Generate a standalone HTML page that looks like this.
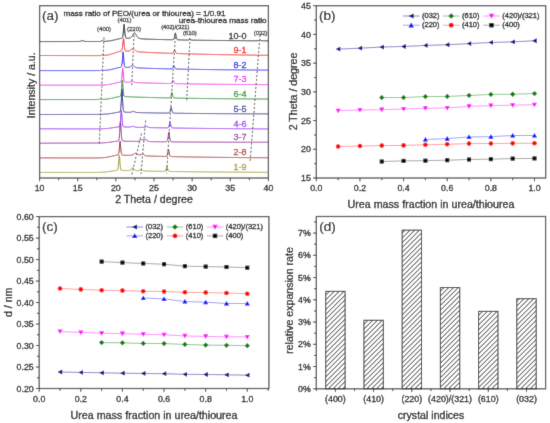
<!DOCTYPE html>
<html><head><meta charset="utf-8"><style>
html,body{margin:0;padding:0;background:#fff;width:550px;height:423px;overflow:hidden}
svg{display:block;font-family:"Liberation Sans", sans-serif}
text{stroke-width:0.3px}
</style></head><body>
<svg width="550" height="423" viewBox="0 0 550 423">
<defs><filter id="bl" filterUnits="userSpaceOnUse" x="0" y="0" width="550" height="423"><feConvolveMatrix order="3" kernelMatrix="0.01 0.08 0.01 0.08 0.64 0.08 0.01 0.08 0.01" divisor="1" edgeMode="duplicate"/></filter></defs>
<g filter="url(#bl)">
<rect width="550" height="423" fill="#fff"/>
<rect x="39.6" y="5.7" width="228.8" height="172.3" fill="none" stroke="#505050" stroke-width="1.3"/>
<g fill="none" stroke-width="1" stroke-linejoin="round">
<polyline stroke="#1a1a1a" points="39.6,41.6 39.85,41.6 40.11,41.6 40.36,41.6 40.62,41.6 40.87,41.6 41.13,41.6 41.38,41.6 41.63,41.6 41.89,41.6 42.14,41.6 42.4,41.59 42.65,41.59 42.9,41.59 43.16,41.59 43.41,41.59 43.67,41.59 43.92,41.59 44.18,41.59 44.43,41.59 44.68,41.59 44.94,41.59 45.19,41.59 45.45,41.59 45.7,41.59 45.96,41.59 46.21,41.59 46.46,41.59 46.72,41.59 46.97,41.59 47.23,41.59 47.48,41.59 47.74,41.59 47.99,41.59 48.24,41.59 48.5,41.59 48.75,41.59 49.01,41.59 49.26,41.59 49.51,41.58 49.77,41.58 50.02,41.58 50.28,41.58 50.53,41.58 50.79,41.58 51.04,41.58 51.29,41.58 51.55,41.58 51.8,41.58 52.06,41.58 52.31,41.58 52.57,41.58 52.82,41.58 53.07,41.58 53.33,41.58 53.58,41.58 53.84,41.58 54.09,41.58 54.34,41.58 54.6,41.58 54.85,41.58 55.11,41.58 55.36,41.58 55.62,41.58 55.87,41.58 56.12,41.58 56.38,41.58 56.63,41.57 56.89,41.57 57.14,41.57 57.4,41.57 57.65,41.57 57.9,41.57 58.16,41.57 58.41,41.57 58.67,41.57 58.92,41.57 59.18,41.57 59.43,41.57 59.68,41.57 59.94,41.57 60.19,41.57 60.45,41.57 60.7,41.57 60.95,41.57 61.21,41.57 61.46,41.57 61.72,41.57 61.97,41.57 62.23,41.57 62.48,41.57 62.73,41.57 62.99,41.57 63.24,41.57 63.5,41.56 63.75,41.56 64.01,41.56 64.26,41.56 64.51,41.56 64.77,41.56 65.02,41.56 65.28,41.56 65.53,41.56 65.78,41.56 66.04,41.56 66.29,41.56 66.55,41.56 66.8,41.56 67.06,41.56 67.31,41.56 67.56,41.56 67.82,41.56 68.07,41.56 68.33,41.56 68.58,41.56 68.84,41.56 69.09,41.56 69.34,41.55 69.6,41.55 69.85,41.55 70.11,41.55 70.36,41.55 70.62,41.55 70.87,41.55 71.12,41.55 71.38,41.55 71.63,41.55 71.89,41.55 72.14,41.55 72.39,41.55 72.65,41.55 72.9,41.55 73.16,41.55 73.41,41.54 73.67,41.54 73.92,41.54 74.17,41.54 74.43,41.54 74.68,41.54 74.94,41.54 75.19,41.54 75.45,41.54 75.7,41.53 75.95,41.53 76.21,41.53 76.46,41.53 76.72,41.53 76.97,41.52 77.22,41.52 77.48,41.52 77.73,41.51 77.99,41.5 78.24,41.5 78.5,41.48 78.75,41.47 79,41.45 79.26,41.42 79.51,41.39 79.77,41.35 80.02,41.3 80.28,41.24 80.53,41.17 80.78,41.09 81.04,41.01 81.29,40.92 81.55,40.82 81.8,40.73 82.06,40.67 82.31,40.64 82.56,40.66 82.82,40.73 83.07,40.82 83.33,40.91 83.58,41 83.83,41.09 84.09,41.17 84.34,41.23 84.6,41.29 84.85,41.34 85.11,41.38 85.36,41.41 85.61,41.44 85.87,41.46 86.12,41.47 86.38,41.48 86.63,41.49 86.89,41.5 87.14,41.5 87.39,41.51 87.65,41.51 87.9,41.51 88.16,41.51 88.41,41.51 88.66,41.51 88.92,41.51 89.17,41.52 89.43,41.52 89.68,41.52 89.94,41.52 90.19,41.52 90.44,41.52 90.7,41.52 90.95,41.52 91.21,41.52 91.46,41.52 91.72,41.52 91.97,41.52 92.22,41.52 92.48,41.52 92.73,41.52 92.99,41.52 93.24,41.52 93.5,41.52 93.75,41.52 94,41.51 94.26,41.51 94.51,41.51 94.77,41.51 95.02,41.51 95.27,41.51 95.53,41.51 95.78,41.51 96.04,41.51 96.29,41.51 96.55,41.51 96.8,41.51 97.05,41.5 97.31,41.5 97.56,41.5 97.82,41.5 98.07,41.5 98.33,41.49 98.58,41.49 98.83,41.49 99.09,41.49 99.34,41.48 99.6,41.48 99.85,41.47 100.1,41.47 100.36,41.46 100.61,41.44 100.87,41.39 101.12,41.28 101.38,41.06 101.63,40.72 101.88,40.3 102.14,40.04 102.39,40.29 102.65,40.69 102.9,41.03 103.16,41.23 103.41,41.33 103.66,41.36 103.92,41.37 104.17,41.36 104.43,41.35 104.68,41.34 104.94,41.33 105.19,41.32 105.44,41.31 105.7,41.29 105.95,41.27 106.21,41.26 106.46,41.24 106.71,41.22 106.97,41.2 107.22,41.17 107.48,41.15 107.73,41.13 107.99,41.1 108.24,41.07 108.49,41.04 108.75,41.01 109,40.98 109.26,40.95 109.51,40.91 109.77,40.87 110.02,40.84 110.27,40.8 110.53,40.75 110.78,40.71 111.04,40.67 111.29,40.62 111.54,40.57 111.8,40.52 112.05,40.47 112.31,40.42 112.56,40.37 112.82,40.31 113.07,40.26 113.32,40.2 113.58,40.14 113.83,40.08 114.09,40.02 114.34,39.96 114.6,39.9 114.85,39.84 115.1,39.77 115.36,39.71 115.61,39.64 115.87,39.58 116.12,39.51 116.38,39.45 116.63,39.39 116.88,39.32 117.14,39.26 117.39,39.19 117.65,39.13 117.9,39.07 118.15,39.01 118.41,38.95 118.66,38.89 118.92,38.83 119.17,38.78 119.43,38.72 119.68,38.67 119.93,38.62 120.19,38.56 120.44,38.51 120.7,38.46 120.95,38.41 121.21,38.36 121.46,38.31 121.71,38.24 121.97,38.14 122.22,37.95 122.48,37.56 122.73,36.76 122.98,35.32 123.24,33.08 123.49,30.1 123.75,26.77 124,24.14 124.26,24.51 124.51,27.46 124.76,30.77 125.02,33.62 125.27,35.7 125.53,36.98 125.78,37.67 126.04,37.99 126.29,38.14 126.54,38.2 126.8,38.24 127.05,38.26 127.31,38.27 127.56,38.28 127.82,38.28 128.07,38.28 128.32,38.26 128.58,38.25 128.83,38.22 129.09,38.18 129.34,38.13 129.59,38.07 129.85,37.98 130.1,37.88 130.36,37.76 130.61,37.61 130.87,37.44 131.12,37.23 131.37,37 131.63,36.74 131.88,36.44 132.14,36.11 132.39,35.75 132.65,35.36 132.9,34.95 133.15,34.52 133.41,34.07 133.66,33.64 133.92,33.26 134.17,32.96 134.42,32.8 134.68,32.81 134.93,32.99 135.19,33.3 135.44,33.7 135.7,34.15 135.95,34.62 136.2,35.07 136.46,35.5 136.71,35.91 136.97,36.28 137.22,36.63 137.48,36.95 137.73,37.23 137.98,37.48 138.24,37.7 138.49,37.9 138.75,38.06 139,38.21 139.26,38.33 139.51,38.43 139.76,38.52 140.02,38.59 140.27,38.65 140.53,38.7 140.78,38.74 141.03,38.77 141.29,38.81 141.54,38.83 141.8,38.86 142.05,38.88 142.31,38.9 142.56,38.91 142.81,38.93 143.07,38.95 143.32,38.96 143.58,38.97 143.83,38.99 144.09,39 144.34,39.01 144.59,39.02 144.85,39.04 145.1,39.05 145.36,39.06 145.61,39.07 145.86,39.08 146.12,39.09 146.37,39.1 146.63,39.11 146.88,39.12 147.14,39.13 147.39,39.14 147.64,39.15 147.9,39.16 148.15,39.16 148.41,39.17 148.66,39.18 148.92,39.19 149.17,39.2 149.42,39.21 149.68,39.22 149.93,39.22 150.19,39.23 150.44,39.24 150.7,39.25 150.95,39.26 151.2,39.26 151.46,39.27 151.71,39.28 151.97,39.29 152.22,39.29 152.47,39.3 152.73,39.31 152.98,39.32 153.24,39.32 153.49,39.33 153.75,39.34 154,39.35 154.25,39.35 154.51,39.36 154.76,39.37 155.02,39.37 155.27,39.38 155.53,39.39 155.78,39.4 156.03,39.4 156.29,39.41 156.54,39.42 156.8,39.42 157.05,39.43 157.3,39.44 157.56,39.44 157.81,39.45 158.07,39.46 158.32,39.46 158.58,39.47 158.83,39.48 159.08,39.48 159.34,39.49 159.59,39.49 159.85,39.5 160.1,39.51 160.36,39.51 160.61,39.52 160.86,39.53 161.12,39.53 161.37,39.54 161.63,39.54 161.88,39.55 162.14,39.56 162.39,39.56 162.64,39.57 162.9,39.57 163.15,39.58 163.41,39.59 163.66,39.59 163.91,39.6 164.17,39.6 164.42,39.61 164.68,39.61 164.93,39.62 165.19,39.62 165.44,39.63 165.69,39.64 165.95,39.64 166.2,39.65 166.46,39.65 166.71,39.66 166.97,39.66 167.22,39.67 167.47,39.67 167.73,39.68 167.98,39.68 168.24,39.69 168.49,39.69 168.74,39.7 169,39.7 169.25,39.7 169.51,39.71 169.76,39.71 170.02,39.72 170.27,39.72 170.52,39.72 170.78,39.72 171.03,39.73 171.29,39.73 171.54,39.73 171.8,39.73 172.05,39.73 172.3,39.72 172.56,39.71 172.81,39.7 173.07,39.66 173.32,39.57 173.58,39.4 173.83,39.05 174.08,38.45 174.34,37.54 174.59,36.32 174.85,34.9 175.1,33.52 175.35,32.85 175.61,33.53 175.86,34.92 176.12,36.35 176.37,37.58 176.63,38.5 176.88,39.11 177.13,39.47 177.39,39.65 177.64,39.75 177.9,39.79 178.15,39.82 178.41,39.84 178.66,39.85 178.91,39.87 179.17,39.88 179.42,39.89 179.68,39.9 179.93,39.9 180.18,39.91 180.44,39.92 180.69,39.92 180.95,39.93 181.2,39.94 181.46,39.94 181.71,39.95 181.96,39.95 182.22,39.96 182.47,39.96 182.73,39.97 182.98,39.98 183.24,39.98 183.49,39.99 183.74,39.99 184,39.99 184.25,40 184.51,40 184.76,40.01 185.02,40.01 185.27,40.02 185.52,40.02 185.78,40.03 186.03,40.03 186.29,40.03 186.54,40.04 186.79,40.04 187.05,40.04 187.3,40.04 187.56,40.04 187.81,40.04 188.07,40.02 188.32,39.99 188.57,39.92 188.83,39.82 189.08,39.69 189.34,39.53 189.59,39.37 189.85,39.3 190.1,39.38 190.35,39.54 190.61,39.71 190.86,39.85 191.12,39.96 191.37,40.04 191.62,40.08 191.88,40.1 192.13,40.12 192.39,40.13 192.64,40.13 192.9,40.14 193.15,40.14 193.4,40.15 193.66,40.15 193.91,40.16 194.17,40.16 194.42,40.17 194.68,40.17 194.93,40.17 195.18,40.18 195.44,40.18 195.69,40.19 195.95,40.19 196.2,40.19 196.46,40.2 196.71,40.2 196.96,40.21 197.22,40.21 197.47,40.21 197.73,40.22 197.98,40.22 198.23,40.22 198.49,40.23 198.74,40.23 199,40.23 199.25,40.24 199.51,40.24 199.76,40.25 200.01,40.25 200.27,40.25 200.52,40.26 200.78,40.26 201.03,40.26 201.29,40.27 201.54,40.27 201.79,40.27 202.05,40.28 202.3,40.28 202.56,40.28 202.81,40.29 203.06,40.29 203.32,40.29 203.57,40.3 203.83,40.3 204.08,40.3 204.34,40.31 204.59,40.31 204.84,40.31 205.1,40.32 205.35,40.32 205.61,40.32 205.86,40.33 206.12,40.33 206.37,40.33 206.62,40.34 206.88,40.34 207.13,40.34 207.39,40.35 207.64,40.35 207.9,40.35 208.15,40.35 208.4,40.36 208.66,40.36 208.91,40.36 209.17,40.37 209.42,40.37 209.67,40.37 209.93,40.38 210.18,40.38 210.44,40.38 210.69,40.39 210.95,40.39 211.2,40.39 211.45,40.39 211.71,40.4 211.96,40.4 212.22,40.4 212.47,40.41 212.73,40.41 212.98,40.41 213.23,40.41 213.49,40.42 213.74,40.42 214,40.42 214.25,40.43 214.5,40.43 214.76,40.43 215.01,40.43 215.27,40.44 215.52,40.44 215.78,40.44 216.03,40.45 216.28,40.45 216.54,40.45 216.79,40.45 217.05,40.46 217.3,40.46 217.56,40.46 217.81,40.46 218.06,40.47 218.32,40.47 218.57,40.47 218.83,40.48 219.08,40.48 219.34,40.48 219.59,40.48 219.84,40.49 220.1,40.49 220.35,40.49 220.61,40.49 220.86,40.5 221.11,40.5 221.37,40.5 221.62,40.5 221.88,40.51 222.13,40.51 222.39,40.51 222.64,40.51 222.89,40.52 223.15,40.52 223.4,40.52 223.66,40.52 223.91,40.53 224.17,40.53 224.42,40.53 224.67,40.53 224.93,40.54 225.18,40.54 225.44,40.54 225.69,40.54 225.94,40.55 226.2,40.55 226.45,40.55 226.71,40.55 226.96,40.55 227.22,40.56 227.47,40.56 227.72,40.56 227.98,40.56 228.23,40.57 228.49,40.57 228.74,40.57 229,40.57 229.25,40.58 229.5,40.58 229.76,40.58 230.01,40.58 230.27,40.58 230.52,40.59 230.78,40.59 231.03,40.59 231.28,40.59 231.54,40.6 231.79,40.6 232.05,40.6 232.3,40.6 232.55,40.6 232.81,40.61 233.06,40.61 233.32,40.61 233.57,40.61 233.83,40.61 234.08,40.62 234.33,40.62 234.59,40.62 234.84,40.62 235.1,40.62 235.35,40.63 235.61,40.63 235.86,40.63 236.11,40.63 236.37,40.64 236.62,40.64 236.88,40.64 237.13,40.64 237.38,40.64 237.64,40.65 237.89,40.65 238.15,40.65 238.4,40.65 238.66,40.65 238.91,40.65 239.16,40.66 239.42,40.66 239.67,40.66 239.93,40.66 240.18,40.66 240.44,40.67 240.69,40.67 240.94,40.67 241.2,40.67 241.45,40.67 241.71,40.68 241.96,40.68 242.22,40.68 242.47,40.68 242.72,40.68 242.98,40.69 243.23,40.69 243.49,40.69 243.74,40.69 243.99,40.69 244.25,40.69 244.5,40.7 244.76,40.7 245.01,40.7 245.27,40.7 245.52,40.7 245.77,40.7 246.03,40.71 246.28,40.71 246.54,40.71 246.79,40.71 247.05,40.71 247.3,40.71 247.55,40.72 247.81,40.72 248.06,40.72 248.32,40.72 248.57,40.72 248.82,40.72 249.08,40.73 249.33,40.73 249.59,40.73 249.84,40.73 250.1,40.73 250.35,40.73 250.6,40.74 250.86,40.74 251.11,40.74 251.37,40.74 251.62,40.74 251.88,40.74 252.13,40.75 252.38,40.75 252.64,40.75 252.89,40.75 253.15,40.75 253.4,40.75 253.66,40.75 253.91,40.76 254.16,40.76 254.42,40.76 254.67,40.76 254.93,40.76 255.18,40.76 255.43,40.76 255.69,40.76 255.94,40.77 256.2,40.77 256.45,40.77 256.71,40.77 256.96,40.77 257.21,40.77 257.47,40.77 257.72,40.76 257.98,40.75 258.23,40.74 258.49,40.7 258.74,40.63 258.99,40.53 259.25,40.39 259.5,40.23 259.76,40.07 260.01,39.99 260.26,40.07 260.52,40.23 260.77,40.4 261.03,40.54 261.28,40.64 261.54,40.71 261.79,40.76 262.04,40.78 262.3,40.79 262.55,40.8 262.81,40.8 263.06,40.8 263.32,40.8 263.57,40.81 263.82,40.81 264.08,40.81 264.33,40.81 264.59,40.81 264.84,40.82 265.1,40.82 265.35,40.82 265.6,40.82 265.86,40.82 266.11,40.82 266.37,40.82 266.62,40.83 266.87,40.83 267.13,40.83 267.38,40.83 267.64,40.83 267.89,40.83 268.15,40.83 268.4,40.83"/>
<polyline stroke="#f01818" points="39.6,55.5 39.85,55.5 40.11,55.5 40.36,55.5 40.62,55.5 40.87,55.5 41.13,55.5 41.38,55.5 41.63,55.5 41.89,55.5 42.14,55.5 42.4,55.51 42.65,55.51 42.9,55.51 43.16,55.51 43.41,55.51 43.67,55.51 43.92,55.51 44.18,55.51 44.43,55.51 44.68,55.51 44.94,55.51 45.19,55.51 45.45,55.51 45.7,55.51 45.96,55.51 46.21,55.51 46.46,55.51 46.72,55.51 46.97,55.52 47.23,55.52 47.48,55.52 47.74,55.52 47.99,55.52 48.24,55.52 48.5,55.52 48.75,55.52 49.01,55.52 49.26,55.52 49.51,55.52 49.77,55.52 50.02,55.52 50.28,55.52 50.53,55.52 50.79,55.52 51.04,55.52 51.29,55.52 51.55,55.53 51.8,55.53 52.06,55.53 52.31,55.53 52.57,55.53 52.82,55.53 53.07,55.53 53.33,55.53 53.58,55.53 53.84,55.53 54.09,55.53 54.34,55.53 54.6,55.53 54.85,55.53 55.11,55.53 55.36,55.53 55.62,55.53 55.87,55.53 56.12,55.54 56.38,55.54 56.63,55.54 56.89,55.54 57.14,55.54 57.4,55.54 57.65,55.54 57.9,55.54 58.16,55.54 58.41,55.54 58.67,55.54 58.92,55.54 59.18,55.54 59.43,55.54 59.68,55.54 59.94,55.54 60.19,55.54 60.45,55.54 60.7,55.55 60.95,55.55 61.21,55.55 61.46,55.55 61.72,55.55 61.97,55.55 62.23,55.55 62.48,55.55 62.73,55.55 62.99,55.55 63.24,55.55 63.5,55.55 63.75,55.55 64.01,55.55 64.26,55.55 64.51,55.55 64.77,55.55 65.02,55.55 65.28,55.56 65.53,55.56 65.78,55.56 66.04,55.56 66.29,55.56 66.55,55.56 66.8,55.56 67.06,55.56 67.31,55.56 67.56,55.56 67.82,55.56 68.07,55.56 68.33,55.56 68.58,55.56 68.84,55.56 69.09,55.56 69.34,55.56 69.6,55.56 69.85,55.56 70.11,55.57 70.36,55.57 70.62,55.57 70.87,55.57 71.12,55.57 71.38,55.57 71.63,55.57 71.89,55.57 72.14,55.57 72.39,55.57 72.65,55.57 72.9,55.57 73.16,55.57 73.41,55.57 73.67,55.57 73.92,55.57 74.17,55.57 74.43,55.57 74.68,55.58 74.94,55.58 75.19,55.58 75.45,55.58 75.7,55.58 75.95,55.58 76.21,55.58 76.46,55.58 76.72,55.58 76.97,55.58 77.22,55.58 77.48,55.58 77.73,55.58 77.99,55.58 78.24,55.58 78.5,55.58 78.75,55.58 79,55.58 79.26,55.58 79.51,55.59 79.77,55.59 80.02,55.59 80.28,55.59 80.53,55.59 80.78,55.59 81.04,55.59 81.29,55.59 81.55,55.59 81.8,55.59 82.06,55.59 82.31,55.59 82.56,55.59 82.82,55.59 83.07,55.59 83.33,55.59 83.58,55.59 83.83,55.59 84.09,55.6 84.34,55.6 84.6,55.6 84.85,55.6 85.11,55.6 85.36,55.6 85.61,55.6 85.87,55.6 86.12,55.6 86.38,55.6 86.63,55.6 86.89,55.6 87.14,55.6 87.39,55.6 87.65,55.6 87.9,55.6 88.16,55.6 88.41,55.6 88.66,55.6 88.92,55.6 89.17,55.61 89.43,55.61 89.68,55.61 89.94,55.61 90.19,55.61 90.44,55.61 90.7,55.61 90.95,55.61 91.21,55.61 91.46,55.61 91.72,55.61 91.97,55.61 92.22,55.61 92.48,55.61 92.73,55.61 92.99,55.61 93.24,55.61 93.5,55.61 93.75,55.61 94,55.61 94.26,55.61 94.51,55.61 94.77,55.61 95.02,55.61 95.27,55.61 95.53,55.61 95.78,55.61 96.04,55.61 96.29,55.61 96.55,55.61 96.8,55.61 97.05,55.6 97.31,55.6 97.56,55.6 97.82,55.6 98.07,55.6 98.33,55.59 98.58,55.59 98.83,55.59 99.09,55.58 99.34,55.58 99.6,55.57 99.85,55.57 100.1,55.56 100.36,55.55 100.61,55.54 100.87,55.5 101.12,55.42 101.38,55.25 101.63,55 101.88,54.7 102.14,54.51 102.39,54.68 102.65,54.96 102.9,55.19 103.16,55.33 103.41,55.39 103.66,55.41 103.92,55.4 104.17,55.39 104.43,55.37 104.68,55.35 104.94,55.33 105.19,55.31 105.44,55.28 105.7,55.25 105.95,55.23 106.21,55.2 106.46,55.16 106.71,55.13 106.97,55.09 107.22,55.06 107.48,55.02 107.73,54.97 107.99,54.93 108.24,54.88 108.49,54.83 108.75,54.78 109,54.73 109.26,54.67 109.51,54.62 109.77,54.56 110.02,54.49 110.27,54.43 110.53,54.36 110.78,54.29 111.04,54.22 111.29,54.15 111.54,54.07 111.8,54 112.05,53.92 112.31,53.84 112.56,53.75 112.82,53.67 113.07,53.58 113.32,53.49 113.58,53.4 113.83,53.31 114.09,53.22 114.34,53.13 114.6,53.04 114.85,52.94 115.1,52.85 115.36,52.76 115.61,52.66 115.87,52.57 116.12,52.48 116.38,52.39 116.63,52.3 116.88,52.21 117.14,52.12 117.39,52.03 117.65,51.95 117.9,51.86 118.15,51.78 118.41,51.7 118.66,51.63 118.92,51.55 119.17,51.48 119.43,51.41 119.68,51.35 119.93,51.28 120.19,51.22 120.44,51.16 120.7,51.1 120.95,51.04 121.21,50.96 121.46,50.84 121.71,50.61 121.97,50.13 122.22,49.21 122.48,47.64 122.73,45.35 122.98,42.51 123.24,39.6 123.49,38.09 123.75,39.63 124,42.57 124.26,45.43 124.51,47.74 124.76,49.31 125.02,50.23 125.27,50.7 125.53,50.92 125.78,51.02 126.04,51.08 126.29,51.11 126.54,51.14 126.8,51.16 127.05,51.18 127.31,51.19 127.56,51.2 127.82,51.21 128.07,51.21 128.32,51.2 128.58,51.18 128.83,51.14 129.09,51.08 129.34,51 129.59,50.88 129.85,50.73 130.1,50.54 130.36,50.32 130.61,50.05 130.87,49.75 131.12,49.44 131.37,49.18 131.63,49.04 131.88,49.01 132.14,49.04 132.39,49.06 132.65,49.06 132.9,49.03 133.15,48.99 133.41,48.97 133.66,48.98 133.92,49.06 134.17,49.21 134.42,49.41 134.68,49.64 134.93,49.88 135.19,50.11 135.44,50.33 135.7,50.54 135.95,50.73 136.2,50.91 136.46,51.06 136.71,51.2 136.97,51.32 137.22,51.43 137.48,51.52 137.73,51.6 137.98,51.67 138.24,51.73 138.49,51.78 138.75,51.82 139,51.86 139.26,51.89 139.51,51.92 139.76,51.94 140.02,51.96 140.27,51.98 140.53,52 140.78,52.02 141.03,52.04 141.29,52.06 141.54,52.07 141.8,52.09 142.05,52.1 142.31,52.12 142.56,52.13 142.81,52.15 143.07,52.16 143.32,52.18 143.58,52.19 143.83,52.2 144.09,52.22 144.34,52.23 144.59,52.25 144.85,52.26 145.1,52.27 145.36,52.29 145.61,52.3 145.86,52.31 146.12,52.32 146.37,52.34 146.63,52.35 146.88,52.36 147.14,52.37 147.39,52.39 147.64,52.4 147.9,52.41 148.15,52.42 148.41,52.44 148.66,52.45 148.92,52.46 149.17,52.47 149.42,52.48 149.68,52.49 149.93,52.51 150.19,52.52 150.44,52.53 150.7,52.54 150.95,52.55 151.2,52.56 151.46,52.58 151.71,52.59 151.97,52.6 152.22,52.61 152.47,52.62 152.73,52.63 152.98,52.64 153.24,52.65 153.49,52.67 153.75,52.68 154,52.69 154.25,52.7 154.51,52.71 154.76,52.72 155.02,52.73 155.27,52.74 155.53,52.75 155.78,52.76 156.03,52.77 156.29,52.78 156.54,52.79 156.8,52.8 157.05,52.82 157.3,52.83 157.56,52.84 157.81,52.85 158.07,52.86 158.32,52.87 158.58,52.88 158.83,52.89 159.08,52.9 159.34,52.91 159.59,52.92 159.85,52.93 160.1,52.94 160.36,52.95 160.61,52.96 160.86,52.97 161.12,52.98 161.37,52.99 161.63,53 161.88,53.01 162.14,53.02 162.39,53.03 162.64,53.04 162.9,53.05 163.15,53.06 163.41,53.06 163.66,53.07 163.91,53.08 164.17,53.09 164.42,53.1 164.68,53.11 164.93,53.12 165.19,53.13 165.44,53.14 165.69,53.15 165.95,53.16 166.2,53.17 166.46,53.18 166.71,53.18 166.97,53.19 167.22,53.2 167.47,53.21 167.73,53.22 167.98,53.23 168.24,53.24 168.49,53.24 168.74,53.25 169,53.26 169.25,53.27 169.51,53.28 169.76,53.28 170.02,53.29 170.27,53.3 170.52,53.3 170.78,53.31 171.03,53.32 171.29,53.32 171.54,53.32 171.8,53.32 172.05,53.32 172.3,53.3 172.56,53.26 172.81,53.17 173.07,52.98 173.32,52.64 173.58,52.12 173.83,51.43 174.08,50.63 174.34,49.84 174.59,49.46 174.85,49.86 175.1,50.66 175.35,51.48 175.61,52.19 175.86,52.72 176.12,53.08 176.37,53.28 176.63,53.4 176.88,53.46 177.13,53.49 177.39,53.51 177.64,53.52 177.9,53.54 178.15,53.55 178.41,53.56 178.66,53.57 178.91,53.58 179.17,53.59 179.42,53.6 179.68,53.61 179.93,53.62 180.18,53.63 180.44,53.64 180.69,53.65 180.95,53.65 181.2,53.66 181.46,53.67 181.71,53.68 181.96,53.69 182.22,53.7 182.47,53.7 182.73,53.71 182.98,53.72 183.24,53.73 183.49,53.73 183.74,53.74 184,53.75 184.25,53.76 184.51,53.77 184.76,53.77 185.02,53.78 185.27,53.79 185.52,53.8 185.78,53.8 186.03,53.81 186.29,53.82 186.54,53.82 186.79,53.83 187.05,53.84 187.3,53.85 187.56,53.85 187.81,53.86 188.07,53.87 188.32,53.88 188.57,53.88 188.83,53.89 189.08,53.9 189.34,53.9 189.59,53.91 189.85,53.92 190.1,53.92 190.35,53.93 190.61,53.94 190.86,53.95 191.12,53.95 191.37,53.96 191.62,53.97 191.88,53.97 192.13,53.98 192.39,53.99 192.64,53.99 192.9,54 193.15,54.01 193.4,54.01 193.66,54.02 193.91,54.03 194.17,54.03 194.42,54.04 194.68,54.05 194.93,54.05 195.18,54.06 195.44,54.07 195.69,54.07 195.95,54.08 196.2,54.08 196.46,54.09 196.71,54.1 196.96,54.1 197.22,54.11 197.47,54.12 197.73,54.12 197.98,54.13 198.23,54.14 198.49,54.14 198.74,54.15 199,54.15 199.25,54.16 199.51,54.17 199.76,54.17 200.01,54.18 200.27,54.19 200.52,54.19 200.78,54.2 201.03,54.2 201.29,54.21 201.54,54.22 201.79,54.22 202.05,54.23 202.3,54.23 202.56,54.24 202.81,54.25 203.06,54.25 203.32,54.26 203.57,54.26 203.83,54.27 204.08,54.28 204.34,54.28 204.59,54.29 204.84,54.29 205.1,54.3 205.35,54.3 205.61,54.31 205.86,54.32 206.12,54.32 206.37,54.33 206.62,54.33 206.88,54.34 207.13,54.34 207.39,54.35 207.64,54.36 207.9,54.36 208.15,54.37 208.4,54.37 208.66,54.38 208.91,54.38 209.17,54.39 209.42,54.39 209.67,54.4 209.93,54.4 210.18,54.41 210.44,54.42 210.69,54.42 210.95,54.43 211.2,54.43 211.45,54.44 211.71,54.44 211.96,54.45 212.22,54.45 212.47,54.46 212.73,54.46 212.98,54.47 213.23,54.47 213.49,54.48 213.74,54.48 214,54.49 214.25,54.5 214.5,54.5 214.76,54.51 215.01,54.51 215.27,54.52 215.52,54.52 215.78,54.53 216.03,54.53 216.28,54.54 216.54,54.54 216.79,54.55 217.05,54.55 217.3,54.56 217.56,54.56 217.81,54.57 218.06,54.57 218.32,54.58 218.57,54.58 218.83,54.59 219.08,54.59 219.34,54.6 219.59,54.6 219.84,54.61 220.1,54.61 220.35,54.62 220.61,54.62 220.86,54.62 221.11,54.63 221.37,54.63 221.62,54.64 221.88,54.64 222.13,54.65 222.39,54.65 222.64,54.66 222.89,54.66 223.15,54.67 223.4,54.67 223.66,54.68 223.91,54.68 224.17,54.69 224.42,54.69 224.67,54.7 224.93,54.7 225.18,54.7 225.44,54.71 225.69,54.71 225.94,54.72 226.2,54.72 226.45,54.73 226.71,54.73 226.96,54.74 227.22,54.74 227.47,54.74 227.72,54.75 227.98,54.75 228.23,54.76 228.49,54.76 228.74,54.77 229,54.77 229.25,54.78 229.5,54.78 229.76,54.78 230.01,54.79 230.27,54.79 230.52,54.8 230.78,54.8 231.03,54.81 231.28,54.81 231.54,54.81 231.79,54.82 232.05,54.82 232.3,54.83 232.55,54.83 232.81,54.84 233.06,54.84 233.32,54.84 233.57,54.85 233.83,54.85 234.08,54.86 234.33,54.86 234.59,54.86 234.84,54.87 235.1,54.87 235.35,54.88 235.61,54.88 235.86,54.88 236.11,54.89 236.37,54.89 236.62,54.9 236.88,54.9 237.13,54.9 237.38,54.91 237.64,54.91 237.89,54.92 238.15,54.92 238.4,54.92 238.66,54.93 238.91,54.93 239.16,54.94 239.42,54.94 239.67,54.94 239.93,54.95 240.18,54.95 240.44,54.96 240.69,54.96 240.94,54.96 241.2,54.97 241.45,54.97 241.71,54.97 241.96,54.98 242.22,54.98 242.47,54.99 242.72,54.99 242.98,54.99 243.23,55 243.49,55 243.74,55 243.99,55.01 244.25,55.01 244.5,55.02 244.76,55.02 245.01,55.02 245.27,55.03 245.52,55.03 245.77,55.03 246.03,55.04 246.28,55.04 246.54,55.04 246.79,55.05 247.05,55.05 247.3,55.06 247.55,55.06 247.81,55.06 248.06,55.07 248.32,55.07 248.57,55.07 248.82,55.08 249.08,55.08 249.33,55.08 249.59,55.09 249.84,55.09 250.1,55.09 250.35,55.1 250.6,55.1 250.86,55.1 251.11,55.11 251.37,55.11 251.62,55.11 251.88,55.12 252.13,55.12 252.38,55.12 252.64,55.13 252.89,55.13 253.15,55.13 253.4,55.14 253.66,55.14 253.91,55.14 254.16,55.15 254.42,55.15 254.67,55.15 254.93,55.16 255.18,55.16 255.43,55.16 255.69,55.17 255.94,55.17 256.2,55.17 256.45,55.18 256.71,55.18 256.96,55.18 257.21,55.19 257.47,55.19 257.72,55.19 257.98,55.2 258.23,55.2 258.49,55.2 258.74,55.21 258.99,55.21 259.25,55.21 259.5,55.21 259.76,55.22 260.01,55.22 260.26,55.22 260.52,55.23 260.77,55.23 261.03,55.23 261.28,55.24 261.54,55.24 261.79,55.24 262.04,55.25 262.3,55.25 262.55,55.25 262.81,55.25 263.06,55.26 263.32,55.26 263.57,55.26 263.82,55.27 264.08,55.27 264.33,55.27 264.59,55.28 264.84,55.28 265.1,55.28 265.35,55.28 265.6,55.29 265.86,55.29 266.11,55.29 266.37,55.3 266.62,55.3 266.87,55.3 267.13,55.3 267.38,55.31 267.64,55.31 267.89,55.31 268.15,55.32 268.4,55.32"/>
<polyline stroke="#2020e8" points="39.6,70.6 39.85,70.6 40.11,70.6 40.36,70.6 40.62,70.6 40.87,70.6 41.13,70.6 41.38,70.6 41.63,70.6 41.89,70.6 42.14,70.6 42.4,70.6 42.65,70.6 42.9,70.6 43.16,70.6 43.41,70.6 43.67,70.6 43.92,70.6 44.18,70.6 44.43,70.6 44.68,70.6 44.94,70.6 45.19,70.6 45.45,70.6 45.7,70.6 45.96,70.6 46.21,70.6 46.46,70.6 46.72,70.6 46.97,70.6 47.23,70.6 47.48,70.6 47.74,70.6 47.99,70.6 48.24,70.6 48.5,70.6 48.75,70.6 49.01,70.6 49.26,70.6 49.51,70.6 49.77,70.6 50.02,70.6 50.28,70.6 50.53,70.6 50.79,70.6 51.04,70.6 51.29,70.6 51.55,70.6 51.8,70.6 52.06,70.6 52.31,70.6 52.57,70.6 52.82,70.6 53.07,70.6 53.33,70.6 53.58,70.6 53.84,70.6 54.09,70.6 54.34,70.6 54.6,70.6 54.85,70.6 55.11,70.6 55.36,70.6 55.62,70.6 55.87,70.6 56.12,70.6 56.38,70.6 56.63,70.6 56.89,70.6 57.14,70.6 57.4,70.6 57.65,70.6 57.9,70.6 58.16,70.6 58.41,70.6 58.67,70.6 58.92,70.6 59.18,70.6 59.43,70.6 59.68,70.6 59.94,70.6 60.19,70.6 60.45,70.6 60.7,70.6 60.95,70.6 61.21,70.6 61.46,70.6 61.72,70.6 61.97,70.6 62.23,70.6 62.48,70.6 62.73,70.6 62.99,70.6 63.24,70.6 63.5,70.6 63.75,70.6 64.01,70.6 64.26,70.6 64.51,70.6 64.77,70.6 65.02,70.6 65.28,70.6 65.53,70.6 65.78,70.6 66.04,70.6 66.29,70.6 66.55,70.6 66.8,70.6 67.06,70.6 67.31,70.6 67.56,70.6 67.82,70.6 68.07,70.6 68.33,70.6 68.58,70.6 68.84,70.6 69.09,70.6 69.34,70.6 69.6,70.6 69.85,70.6 70.11,70.6 70.36,70.6 70.62,70.6 70.87,70.6 71.12,70.6 71.38,70.6 71.63,70.6 71.89,70.6 72.14,70.6 72.39,70.6 72.65,70.6 72.9,70.6 73.16,70.6 73.41,70.6 73.67,70.6 73.92,70.6 74.17,70.6 74.43,70.6 74.68,70.6 74.94,70.6 75.19,70.6 75.45,70.6 75.7,70.6 75.95,70.6 76.21,70.6 76.46,70.6 76.72,70.6 76.97,70.6 77.22,70.6 77.48,70.6 77.73,70.6 77.99,70.6 78.24,70.6 78.5,70.6 78.75,70.6 79,70.6 79.26,70.6 79.51,70.6 79.77,70.6 80.02,70.6 80.28,70.6 80.53,70.6 80.78,70.6 81.04,70.6 81.29,70.6 81.55,70.6 81.8,70.6 82.06,70.6 82.31,70.6 82.56,70.6 82.82,70.6 83.07,70.6 83.33,70.6 83.58,70.6 83.83,70.6 84.09,70.6 84.34,70.6 84.6,70.6 84.85,70.6 85.11,70.6 85.36,70.6 85.61,70.6 85.87,70.6 86.12,70.6 86.38,70.6 86.63,70.6 86.89,70.6 87.14,70.6 87.39,70.6 87.65,70.6 87.9,70.6 88.16,70.6 88.41,70.6 88.66,70.6 88.92,70.6 89.17,70.6 89.43,70.6 89.68,70.6 89.94,70.6 90.19,70.6 90.44,70.6 90.7,70.6 90.95,70.6 91.21,70.6 91.46,70.6 91.72,70.6 91.97,70.6 92.22,70.6 92.48,70.59 92.73,70.59 92.99,70.59 93.24,70.59 93.5,70.59 93.75,70.59 94,70.59 94.26,70.59 94.51,70.59 94.77,70.59 95.02,70.59 95.27,70.59 95.53,70.59 95.78,70.59 96.04,70.59 96.29,70.59 96.55,70.58 96.8,70.58 97.05,70.58 97.31,70.58 97.56,70.58 97.82,70.58 98.07,70.57 98.33,70.57 98.58,70.57 98.83,70.56 99.09,70.56 99.34,70.55 99.6,70.55 99.85,70.54 100.1,70.53 100.36,70.51 100.61,70.46 100.87,70.34 101.12,70.13 101.38,69.85 101.63,69.57 101.88,69.56 102.14,69.82 102.39,70.09 102.65,70.29 102.9,70.39 103.16,70.42 103.41,70.43 103.66,70.42 103.92,70.41 104.17,70.4 104.43,70.39 104.68,70.37 104.94,70.35 105.19,70.33 105.44,70.32 105.7,70.29 105.95,70.27 106.21,70.25 106.46,70.22 106.71,70.2 106.97,70.17 107.22,70.14 107.48,70.11 107.73,70.08 107.99,70.05 108.24,70.01 108.49,69.97 108.75,69.94 109,69.9 109.26,69.85 109.51,69.81 109.77,69.77 110.02,69.72 110.27,69.67 110.53,69.62 110.78,69.57 111.04,69.52 111.29,69.47 111.54,69.41 111.8,69.36 112.05,69.3 112.31,69.24 112.56,69.18 112.82,69.12 113.07,69.05 113.32,68.99 113.58,68.93 113.83,68.86 114.09,68.8 114.34,68.73 114.6,68.67 114.85,68.6 115.1,68.54 115.36,68.47 115.61,68.4 115.87,68.34 116.12,68.27 116.38,68.21 116.63,68.15 116.88,68.08 117.14,68.02 117.39,67.96 117.65,67.9 117.9,67.85 118.15,67.79 118.41,67.74 118.66,67.68 118.92,67.63 119.17,67.58 119.43,67.53 119.68,67.48 119.93,67.43 120.19,67.38 120.44,67.33 120.7,67.26 120.95,67.16 121.21,66.97 121.46,66.57 121.71,65.76 121.97,64.26 122.22,61.88 122.48,58.67 122.73,55 122.98,51.92 123.24,51.93 123.49,55.03 123.75,58.71 124,61.93 124.26,64.32 124.51,65.82 124.76,66.63 125.02,67.02 125.27,67.2 125.53,67.28 125.78,67.33 126.04,67.36 126.29,67.38 126.54,67.4 126.8,67.41 127.05,67.42 127.31,67.42 127.56,67.42 127.82,67.41 128.07,67.39 128.32,67.37 128.58,67.33 128.83,67.29 129.09,67.23 129.34,67.15 129.59,67.07 129.85,66.96 130.1,66.84 130.36,66.7 130.61,66.55 130.87,66.38 131.12,66.2 131.37,66 131.63,65.8 131.88,65.61 132.14,65.44 132.39,65.33 132.65,65.29 132.9,65.35 133.15,65.48 133.41,65.67 133.66,65.88 133.92,66.1 134.17,66.32 134.42,66.52 134.68,66.71 134.93,66.89 135.19,67.04 135.44,67.18 135.7,67.31 135.95,67.42 136.2,67.51 136.46,67.59 136.71,67.66 136.97,67.72 137.22,67.77 137.48,67.81 137.73,67.84 137.98,67.87 138.24,67.89 138.49,67.91 138.75,67.93 139,67.95 139.26,67.97 139.51,67.98 139.76,67.99 140.02,68.01 140.27,68.02 140.53,68.03 140.78,68.04 141.03,68.05 141.29,68.06 141.54,68.07 141.8,68.08 142.05,68.09 142.31,68.1 142.56,68.11 142.81,68.12 143.07,68.13 143.32,68.14 143.58,68.15 143.83,68.16 144.09,68.17 144.34,68.18 144.59,68.19 144.85,68.2 145.1,68.2 145.36,68.21 145.61,68.22 145.86,68.23 146.12,68.24 146.37,68.25 146.63,68.26 146.88,68.26 147.14,68.27 147.39,68.28 147.64,68.29 147.9,68.3 148.15,68.3 148.41,68.31 148.66,68.32 148.92,68.33 149.17,68.34 149.42,68.34 149.68,68.35 149.93,68.36 150.19,68.37 150.44,68.37 150.7,68.38 150.95,68.39 151.2,68.4 151.46,68.41 151.71,68.41 151.97,68.42 152.22,68.43 152.47,68.43 152.73,68.44 152.98,68.45 153.24,68.46 153.49,68.46 153.75,68.47 154,68.48 154.25,68.49 154.51,68.49 154.76,68.5 155.02,68.51 155.27,68.51 155.53,68.52 155.78,68.53 156.03,68.54 156.29,68.54 156.54,68.55 156.8,68.56 157.05,68.56 157.3,68.57 157.56,68.58 157.81,68.58 158.07,68.59 158.32,68.6 158.58,68.6 158.83,68.61 159.08,68.62 159.34,68.62 159.59,68.63 159.85,68.64 160.1,68.64 160.36,68.65 160.61,68.66 160.86,68.66 161.12,68.67 161.37,68.68 161.63,68.68 161.88,68.69 162.14,68.69 162.39,68.7 162.64,68.71 162.9,68.71 163.15,68.72 163.41,68.73 163.66,68.73 163.91,68.74 164.17,68.74 164.42,68.75 164.68,68.76 164.93,68.76 165.19,68.77 165.44,68.77 165.69,68.78 165.95,68.79 166.2,68.79 166.46,68.8 166.71,68.8 166.97,68.81 167.22,68.81 167.47,68.82 167.73,68.82 167.98,68.83 168.24,68.83 168.49,68.84 168.74,68.84 169,68.85 169.25,68.85 169.51,68.86 169.76,68.86 170.02,68.86 170.27,68.87 170.52,68.87 170.78,68.87 171.03,68.87 171.29,68.86 171.54,68.85 171.8,68.81 172.05,68.72 172.3,68.55 172.56,68.26 172.81,67.8 173.07,67.2 173.32,66.49 173.58,65.8 173.83,65.47 174.08,65.81 174.34,66.51 174.59,67.23 174.85,67.85 175.1,68.31 175.35,68.62 175.61,68.8 175.86,68.9 176.12,68.95 176.37,68.97 176.63,68.99 176.88,69 177.13,69.01 177.39,69.02 177.64,69.03 177.9,69.04 178.15,69.04 178.41,69.05 178.66,69.06 178.91,69.06 179.17,69.07 179.42,69.07 179.68,69.08 179.93,69.09 180.18,69.09 180.44,69.1 180.69,69.1 180.95,69.11 181.2,69.11 181.46,69.12 181.71,69.12 181.96,69.13 182.22,69.13 182.47,69.14 182.73,69.14 182.98,69.15 183.24,69.15 183.49,69.16 183.74,69.16 184,69.17 184.25,69.17 184.51,69.18 184.76,69.18 185.02,69.19 185.27,69.19 185.52,69.2 185.78,69.2 186.03,69.21 186.29,69.21 186.54,69.22 186.79,69.22 187.05,69.23 187.3,69.23 187.56,69.24 187.81,69.24 188.07,69.25 188.32,69.25 188.57,69.25 188.83,69.26 189.08,69.26 189.34,69.27 189.59,69.27 189.85,69.28 190.1,69.28 190.35,69.29 190.61,69.29 190.86,69.29 191.12,69.3 191.37,69.3 191.62,69.31 191.88,69.31 192.13,69.32 192.39,69.32 192.64,69.32 192.9,69.33 193.15,69.33 193.4,69.34 193.66,69.34 193.91,69.35 194.17,69.35 194.42,69.35 194.68,69.36 194.93,69.36 195.18,69.37 195.44,69.37 195.69,69.38 195.95,69.38 196.2,69.38 196.46,69.39 196.71,69.39 196.96,69.4 197.22,69.4 197.47,69.4 197.73,69.41 197.98,69.41 198.23,69.42 198.49,69.42 198.74,69.42 199,69.43 199.25,69.43 199.51,69.44 199.76,69.44 200.01,69.44 200.27,69.45 200.52,69.45 200.78,69.45 201.03,69.46 201.29,69.46 201.54,69.47 201.79,69.47 202.05,69.47 202.3,69.48 202.56,69.48 202.81,69.48 203.06,69.49 203.32,69.49 203.57,69.5 203.83,69.5 204.08,69.5 204.34,69.51 204.59,69.51 204.84,69.51 205.1,69.52 205.35,69.52 205.61,69.52 205.86,69.53 206.12,69.53 206.37,69.54 206.62,69.54 206.88,69.54 207.13,69.55 207.39,69.55 207.64,69.55 207.9,69.56 208.15,69.56 208.4,69.56 208.66,69.57 208.91,69.57 209.17,69.57 209.42,69.58 209.67,69.58 209.93,69.58 210.18,69.59 210.44,69.59 210.69,69.59 210.95,69.6 211.2,69.6 211.45,69.6 211.71,69.61 211.96,69.61 212.22,69.61 212.47,69.62 212.73,69.62 212.98,69.62 213.23,69.63 213.49,69.63 213.74,69.63 214,69.64 214.25,69.64 214.5,69.64 214.76,69.65 215.01,69.65 215.27,69.65 215.52,69.66 215.78,69.66 216.03,69.66 216.28,69.67 216.54,69.67 216.79,69.67 217.05,69.67 217.3,69.68 217.56,69.68 217.81,69.68 218.06,69.69 218.32,69.69 218.57,69.69 218.83,69.7 219.08,69.7 219.34,69.7 219.59,69.71 219.84,69.71 220.1,69.71 220.35,69.71 220.61,69.72 220.86,69.72 221.11,69.72 221.37,69.73 221.62,69.73 221.88,69.73 222.13,69.73 222.39,69.74 222.64,69.74 222.89,69.74 223.15,69.75 223.4,69.75 223.66,69.75 223.91,69.75 224.17,69.76 224.42,69.76 224.67,69.76 224.93,69.77 225.18,69.77 225.44,69.77 225.69,69.77 225.94,69.78 226.2,69.78 226.45,69.78 226.71,69.78 226.96,69.79 227.22,69.79 227.47,69.79 227.72,69.8 227.98,69.8 228.23,69.8 228.49,69.8 228.74,69.81 229,69.81 229.25,69.81 229.5,69.81 229.76,69.82 230.01,69.82 230.27,69.82 230.52,69.82 230.78,69.83 231.03,69.83 231.28,69.83 231.54,69.84 231.79,69.84 232.05,69.84 232.3,69.84 232.55,69.85 232.81,69.85 233.06,69.85 233.32,69.85 233.57,69.86 233.83,69.86 234.08,69.86 234.33,69.86 234.59,69.87 234.84,69.87 235.1,69.87 235.35,69.87 235.61,69.87 235.86,69.88 236.11,69.88 236.37,69.88 236.62,69.88 236.88,69.89 237.13,69.89 237.38,69.89 237.64,69.89 237.89,69.9 238.15,69.9 238.4,69.9 238.66,69.9 238.91,69.91 239.16,69.91 239.42,69.91 239.67,69.91 239.93,69.91 240.18,69.92 240.44,69.92 240.69,69.92 240.94,69.92 241.2,69.93 241.45,69.93 241.71,69.93 241.96,69.93 242.22,69.93 242.47,69.94 242.72,69.94 242.98,69.94 243.23,69.94 243.49,69.95 243.74,69.95 243.99,69.95 244.25,69.95 244.5,69.95 244.76,69.96 245.01,69.96 245.27,69.96 245.52,69.96 245.77,69.97 246.03,69.97 246.28,69.97 246.54,69.97 246.79,69.97 247.05,69.98 247.3,69.98 247.55,69.98 247.81,69.98 248.06,69.98 248.32,69.99 248.57,69.99 248.82,69.99 249.08,69.99 249.33,69.99 249.59,70 249.84,70 250.1,70 250.35,70 250.6,70 250.86,70.01 251.11,70.01 251.37,70.01 251.62,70.01 251.88,70.01 252.13,70.02 252.38,70.02 252.64,70.02 252.89,70.02 253.15,70.02 253.4,70.03 253.66,70.03 253.91,70.03 254.16,70.03 254.42,70.03 254.67,70.04 254.93,70.04 255.18,70.04 255.43,70.04 255.69,70.04 255.94,70.04 256.2,70.05 256.45,70.05 256.71,70.05 256.96,70.05 257.21,70.05 257.47,70.06 257.72,70.06 257.98,70.06 258.23,70.06 258.49,70.06 258.74,70.06 258.99,70.07 259.25,70.07 259.5,70.07 259.76,70.07 260.01,70.07 260.26,70.08 260.52,70.08 260.77,70.08 261.03,70.08 261.28,70.08 261.54,70.08 261.79,70.09 262.04,70.09 262.3,70.09 262.55,70.09 262.81,70.09 263.06,70.09 263.32,70.1 263.57,70.1 263.82,70.1 264.08,70.1 264.33,70.1 264.59,70.1 264.84,70.11 265.1,70.11 265.35,70.11 265.6,70.11 265.86,70.11 266.11,70.11 266.37,70.12 266.62,70.12 266.87,70.12 267.13,70.12 267.38,70.12 267.64,70.12 267.89,70.13 268.15,70.13 268.4,70.13"/>
<polyline stroke="#f020f0" points="39.6,85.2 39.85,85.2 40.11,85.2 40.36,85.2 40.62,85.2 40.87,85.2 41.13,85.2 41.38,85.2 41.63,85.2 41.89,85.2 42.14,85.2 42.4,85.2 42.65,85.2 42.9,85.2 43.16,85.2 43.41,85.2 43.67,85.2 43.92,85.2 44.18,85.2 44.43,85.2 44.68,85.2 44.94,85.2 45.19,85.2 45.45,85.2 45.7,85.2 45.96,85.2 46.21,85.2 46.46,85.2 46.72,85.2 46.97,85.2 47.23,85.2 47.48,85.2 47.74,85.2 47.99,85.2 48.24,85.2 48.5,85.2 48.75,85.2 49.01,85.2 49.26,85.2 49.51,85.2 49.77,85.2 50.02,85.2 50.28,85.19 50.53,85.19 50.79,85.19 51.04,85.19 51.29,85.19 51.55,85.19 51.8,85.19 52.06,85.19 52.31,85.19 52.57,85.19 52.82,85.19 53.07,85.19 53.33,85.19 53.58,85.19 53.84,85.19 54.09,85.19 54.34,85.19 54.6,85.19 54.85,85.19 55.11,85.19 55.36,85.19 55.62,85.19 55.87,85.19 56.12,85.19 56.38,85.19 56.63,85.19 56.89,85.19 57.14,85.19 57.4,85.19 57.65,85.19 57.9,85.19 58.16,85.19 58.41,85.19 58.67,85.19 58.92,85.19 59.18,85.19 59.43,85.19 59.68,85.19 59.94,85.19 60.19,85.19 60.45,85.19 60.7,85.19 60.95,85.19 61.21,85.19 61.46,85.19 61.72,85.19 61.97,85.19 62.23,85.19 62.48,85.19 62.73,85.19 62.99,85.19 63.24,85.19 63.5,85.19 63.75,85.19 64.01,85.19 64.26,85.19 64.51,85.19 64.77,85.19 65.02,85.19 65.28,85.19 65.53,85.19 65.78,85.19 66.04,85.19 66.29,85.19 66.55,85.19 66.8,85.19 67.06,85.19 67.31,85.19 67.56,85.19 67.82,85.19 68.07,85.19 68.33,85.19 68.58,85.19 68.84,85.19 69.09,85.19 69.34,85.19 69.6,85.19 69.85,85.19 70.11,85.19 70.36,85.19 70.62,85.19 70.87,85.19 71.12,85.19 71.38,85.19 71.63,85.19 71.89,85.19 72.14,85.19 72.39,85.18 72.65,85.18 72.9,85.18 73.16,85.18 73.41,85.18 73.67,85.18 73.92,85.18 74.17,85.18 74.43,85.18 74.68,85.18 74.94,85.18 75.19,85.18 75.45,85.18 75.7,85.18 75.95,85.18 76.21,85.18 76.46,85.18 76.72,85.18 76.97,85.18 77.22,85.18 77.48,85.18 77.73,85.18 77.99,85.18 78.24,85.18 78.5,85.18 78.75,85.18 79,85.18 79.26,85.18 79.51,85.18 79.77,85.18 80.02,85.18 80.28,85.18 80.53,85.18 80.78,85.18 81.04,85.18 81.29,85.18 81.55,85.18 81.8,85.18 82.06,85.18 82.31,85.18 82.56,85.18 82.82,85.18 83.07,85.18 83.33,85.18 83.58,85.18 83.83,85.18 84.09,85.18 84.34,85.18 84.6,85.18 84.85,85.18 85.11,85.18 85.36,85.18 85.61,85.18 85.87,85.18 86.12,85.18 86.38,85.18 86.63,85.18 86.89,85.18 87.14,85.18 87.39,85.18 87.65,85.18 87.9,85.18 88.16,85.18 88.41,85.18 88.66,85.18 88.92,85.18 89.17,85.18 89.43,85.18 89.68,85.18 89.94,85.18 90.19,85.18 90.44,85.18 90.7,85.17 90.95,85.17 91.21,85.17 91.46,85.17 91.72,85.17 91.97,85.17 92.22,85.17 92.48,85.17 92.73,85.17 92.99,85.17 93.24,85.17 93.5,85.17 93.75,85.17 94,85.17 94.26,85.17 94.51,85.17 94.77,85.17 95.02,85.17 95.27,85.17 95.53,85.16 95.78,85.16 96.04,85.16 96.29,85.16 96.55,85.16 96.8,85.16 97.05,85.16 97.31,85.15 97.56,85.15 97.82,85.15 98.07,85.15 98.33,85.14 98.58,85.14 98.83,85.13 99.09,85.13 99.34,85.12 99.6,85.12 99.85,85.1 100.1,85.07 100.36,84.99 100.61,84.83 100.87,84.58 101.12,84.28 101.38,84.09 101.63,84.26 101.88,84.55 102.14,84.78 102.39,84.93 102.65,84.99 102.9,85.01 103.16,85.01 103.41,85 103.66,84.99 103.92,84.98 104.17,84.97 104.43,84.95 104.68,84.93 104.94,84.92 105.19,84.9 105.44,84.88 105.7,84.86 105.95,84.83 106.21,84.81 106.46,84.78 106.71,84.76 106.97,84.73 107.22,84.7 107.48,84.67 107.73,84.64 107.99,84.6 108.24,84.57 108.49,84.53 108.75,84.49 109,84.45 109.26,84.41 109.51,84.37 109.77,84.33 110.02,84.28 110.27,84.23 110.53,84.19 110.78,84.14 111.04,84.08 111.29,84.03 111.54,83.98 111.8,83.92 112.05,83.87 112.31,83.81 112.56,83.75 112.82,83.69 113.07,83.63 113.32,83.57 113.58,83.51 113.83,83.45 114.09,83.39 114.34,83.33 114.6,83.27 114.85,83.21 115.1,83.15 115.36,83.08 115.61,83.02 115.87,82.96 116.12,82.9 116.38,82.84 116.63,82.79 116.88,82.73 117.14,82.68 117.39,82.62 117.65,82.57 117.9,82.52 118.15,82.47 118.41,82.42 118.66,82.37 118.92,82.32 119.17,82.28 119.43,82.23 119.68,82.19 119.93,82.14 120.19,82.09 120.44,82.02 120.7,81.9 120.95,81.66 121.21,81.15 121.46,80.17 121.71,78.48 121.97,76.01 122.22,72.95 122.48,69.81 122.73,68.18 122.98,69.83 123.24,72.99 123.49,76.07 123.75,78.54 124,80.23 124.26,81.22 124.51,81.72 124.76,81.95 125.02,82.06 125.27,82.12 125.53,82.15 125.78,82.18 126.04,82.2 126.29,82.22 126.54,82.23 126.8,82.24 127.05,82.25 127.31,82.26 127.56,82.26 127.82,82.26 128.07,82.26 128.32,82.24 128.58,82.22 128.83,82.19 129.09,82.14 129.34,82.09 129.59,82.02 129.85,81.93 130.1,81.83 130.36,81.71 130.61,81.58 130.87,81.43 131.12,81.28 131.37,81.15 131.63,81.05 131.88,81.01 132.14,81.06 132.39,81.18 132.65,81.34 132.9,81.51 133.15,81.67 133.41,81.82 133.66,81.96 133.92,82.08 134.17,82.19 134.42,82.28 134.68,82.35 134.93,82.42 135.19,82.47 135.44,82.51 135.7,82.54 135.95,82.57 136.2,82.59 136.46,82.61 136.71,82.63 136.97,82.64 137.22,82.66 137.48,82.67 137.73,82.68 137.98,82.69 138.24,82.7 138.49,82.71 138.75,82.72 139,82.73 139.26,82.74 139.51,82.75 139.76,82.76 140.02,82.77 140.27,82.78 140.53,82.79 140.78,82.79 141.03,82.8 141.29,82.81 141.54,82.82 141.8,82.83 142.05,82.84 142.31,82.84 142.56,82.85 142.81,82.86 143.07,82.87 143.32,82.88 143.58,82.88 143.83,82.89 144.09,82.9 144.34,82.91 144.59,82.91 144.85,82.92 145.1,82.93 145.36,82.94 145.61,82.95 145.86,82.95 146.12,82.96 146.37,82.97 146.63,82.97 146.88,82.98 147.14,82.99 147.39,83 147.64,83 147.9,83.01 148.15,83.02 148.41,83.03 148.66,83.03 148.92,83.04 149.17,83.05 149.42,83.05 149.68,83.06 149.93,83.07 150.19,83.07 150.44,83.08 150.7,83.09 150.95,83.09 151.2,83.1 151.46,83.11 151.71,83.12 151.97,83.12 152.22,83.13 152.47,83.14 152.73,83.14 152.98,83.15 153.24,83.16 153.49,83.16 153.75,83.17 154,83.17 154.25,83.18 154.51,83.19 154.76,83.19 155.02,83.2 155.27,83.21 155.53,83.21 155.78,83.22 156.03,83.23 156.29,83.23 156.54,83.24 156.8,83.24 157.05,83.25 157.3,83.26 157.56,83.26 157.81,83.27 158.07,83.28 158.32,83.28 158.58,83.29 158.83,83.29 159.08,83.3 159.34,83.31 159.59,83.31 159.85,83.32 160.1,83.32 160.36,83.33 160.61,83.34 160.86,83.34 161.12,83.35 161.37,83.35 161.63,83.36 161.88,83.36 162.14,83.37 162.39,83.38 162.64,83.38 162.9,83.39 163.15,83.39 163.41,83.4 163.66,83.4 163.91,83.41 164.17,83.42 164.42,83.42 164.68,83.43 164.93,83.43 165.19,83.44 165.44,83.44 165.69,83.45 165.95,83.45 166.2,83.46 166.46,83.46 166.71,83.47 166.97,83.47 167.22,83.48 167.47,83.48 167.73,83.49 167.98,83.49 168.24,83.49 168.49,83.5 168.74,83.5 169,83.51 169.25,83.51 169.51,83.51 169.76,83.51 170.02,83.51 170.27,83.51 170.52,83.5 170.78,83.49 171.03,83.45 171.29,83.36 171.54,83.19 171.8,82.9 172.05,82.44 172.3,81.84 172.56,81.13 172.81,80.44 173.07,80.11 173.32,80.45 173.58,81.15 173.83,81.87 174.08,82.48 174.34,82.95 174.59,83.25 174.85,83.43 175.1,83.53 175.35,83.58 175.61,83.61 175.86,83.62 176.12,83.63 176.37,83.64 176.63,83.65 176.88,83.66 177.13,83.67 177.39,83.67 177.64,83.68 177.9,83.69 178.15,83.69 178.41,83.7 178.66,83.7 178.91,83.71 179.17,83.71 179.42,83.72 179.68,83.72 179.93,83.73 180.18,83.73 180.44,83.74 180.69,83.74 180.95,83.75 181.2,83.75 181.46,83.76 181.71,83.76 181.96,83.77 182.22,83.77 182.47,83.78 182.73,83.78 182.98,83.79 183.24,83.79 183.49,83.79 183.74,83.8 184,83.8 184.25,83.81 184.51,83.81 184.76,83.82 185.02,83.82 185.27,83.83 185.52,83.83 185.78,83.83 186.03,83.84 186.29,83.84 186.54,83.85 186.79,83.85 187.05,83.86 187.3,83.86 187.56,83.86 187.81,83.87 188.07,83.87 188.32,83.88 188.57,83.88 188.83,83.88 189.08,83.89 189.34,83.89 189.59,83.9 189.85,83.9 190.1,83.9 190.35,83.91 190.61,83.91 190.86,83.92 191.12,83.92 191.37,83.92 191.62,83.93 191.88,83.93 192.13,83.94 192.39,83.94 192.64,83.94 192.9,83.95 193.15,83.95 193.4,83.96 193.66,83.96 193.91,83.96 194.17,83.97 194.42,83.97 194.68,83.97 194.93,83.98 195.18,83.98 195.44,83.99 195.69,83.99 195.95,83.99 196.2,84 196.46,84 196.71,84 196.96,84.01 197.22,84.01 197.47,84.02 197.73,84.02 197.98,84.02 198.23,84.03 198.49,84.03 198.74,84.03 199,84.04 199.25,84.04 199.51,84.04 199.76,84.05 200.01,84.05 200.27,84.05 200.52,84.06 200.78,84.06 201.03,84.06 201.29,84.07 201.54,84.07 201.79,84.08 202.05,84.08 202.3,84.08 202.56,84.09 202.81,84.09 203.06,84.09 203.32,84.1 203.57,84.1 203.83,84.1 204.08,84.11 204.34,84.11 204.59,84.11 204.84,84.12 205.1,84.12 205.35,84.12 205.61,84.12 205.86,84.13 206.12,84.13 206.37,84.13 206.62,84.14 206.88,84.14 207.13,84.14 207.39,84.15 207.64,84.15 207.9,84.15 208.15,84.16 208.4,84.16 208.66,84.16 208.91,84.17 209.17,84.17 209.42,84.17 209.67,84.18 209.93,84.18 210.18,84.18 210.44,84.18 210.69,84.19 210.95,84.19 211.2,84.19 211.45,84.2 211.71,84.2 211.96,84.2 212.22,84.21 212.47,84.21 212.73,84.21 212.98,84.21 213.23,84.22 213.49,84.22 213.74,84.22 214,84.23 214.25,84.23 214.5,84.23 214.76,84.23 215.01,84.24 215.27,84.24 215.52,84.24 215.78,84.25 216.03,84.25 216.28,84.25 216.54,84.25 216.79,84.26 217.05,84.26 217.3,84.26 217.56,84.27 217.81,84.27 218.06,84.27 218.32,84.27 218.57,84.28 218.83,84.28 219.08,84.28 219.34,84.28 219.59,84.29 219.84,84.29 220.1,84.29 220.35,84.29 220.61,84.3 220.86,84.3 221.11,84.3 221.37,84.31 221.62,84.31 221.88,84.31 222.13,84.31 222.39,84.32 222.64,84.32 222.89,84.32 223.15,84.32 223.4,84.33 223.66,84.33 223.91,84.33 224.17,84.33 224.42,84.34 224.67,84.34 224.93,84.34 225.18,84.34 225.44,84.35 225.69,84.35 225.94,84.35 226.2,84.35 226.45,84.36 226.71,84.36 226.96,84.36 227.22,84.36 227.47,84.37 227.72,84.37 227.98,84.37 228.23,84.37 228.49,84.37 228.74,84.38 229,84.38 229.25,84.38 229.5,84.38 229.76,84.39 230.01,84.39 230.27,84.39 230.52,84.39 230.78,84.4 231.03,84.4 231.28,84.4 231.54,84.4 231.79,84.4 232.05,84.41 232.3,84.41 232.55,84.41 232.81,84.41 233.06,84.42 233.32,84.42 233.57,84.42 233.83,84.42 234.08,84.42 234.33,84.43 234.59,84.43 234.84,84.43 235.1,84.43 235.35,84.44 235.61,84.44 235.86,84.44 236.11,84.44 236.37,84.44 236.62,84.45 236.88,84.45 237.13,84.45 237.38,84.45 237.64,84.45 237.89,84.46 238.15,84.46 238.4,84.46 238.66,84.46 238.91,84.47 239.16,84.47 239.42,84.47 239.67,84.47 239.93,84.47 240.18,84.48 240.44,84.48 240.69,84.48 240.94,84.48 241.2,84.48 241.45,84.49 241.71,84.49 241.96,84.49 242.22,84.49 242.47,84.49 242.72,84.5 242.98,84.5 243.23,84.5 243.49,84.5 243.74,84.5 243.99,84.5 244.25,84.51 244.5,84.51 244.76,84.51 245.01,84.51 245.27,84.51 245.52,84.52 245.77,84.52 246.03,84.52 246.28,84.52 246.54,84.52 246.79,84.53 247.05,84.53 247.3,84.53 247.55,84.53 247.81,84.53 248.06,84.53 248.32,84.54 248.57,84.54 248.82,84.54 249.08,84.54 249.33,84.54 249.59,84.55 249.84,84.55 250.1,84.55 250.35,84.55 250.6,84.55 250.86,84.55 251.11,84.56 251.37,84.56 251.62,84.56 251.88,84.56 252.13,84.56 252.38,84.56 252.64,84.57 252.89,84.57 253.15,84.57 253.4,84.57 253.66,84.57 253.91,84.57 254.16,84.58 254.42,84.58 254.67,84.58 254.93,84.58 255.18,84.58 255.43,84.58 255.69,84.59 255.94,84.59 256.2,84.59 256.45,84.59 256.71,84.59 256.96,84.59 257.21,84.6 257.47,84.6 257.72,84.6 257.98,84.6 258.23,84.6 258.49,84.6 258.74,84.6 258.99,84.61 259.25,84.61 259.5,84.61 259.76,84.61 260.01,84.61 260.26,84.61 260.52,84.62 260.77,84.62 261.03,84.62 261.28,84.62 261.54,84.62 261.79,84.62 262.04,84.62 262.3,84.63 262.55,84.63 262.81,84.63 263.06,84.63 263.32,84.63 263.57,84.63 263.82,84.63 264.08,84.64 264.33,84.64 264.59,84.64 264.84,84.64 265.1,84.64 265.35,84.64 265.6,84.64 265.86,84.65 266.11,84.65 266.37,84.65 266.62,84.65 266.87,84.65 267.13,84.65 267.38,84.65 267.64,84.66 267.89,84.66 268.15,84.66 268.4,84.66"/>
<polyline stroke="#1a8a1a" points="39.6,99.6 39.85,99.6 40.11,99.6 40.36,99.6 40.62,99.6 40.87,99.6 41.13,99.6 41.38,99.6 41.63,99.6 41.89,99.6 42.14,99.6 42.4,99.6 42.65,99.6 42.9,99.6 43.16,99.6 43.41,99.6 43.67,99.6 43.92,99.6 44.18,99.6 44.43,99.6 44.68,99.6 44.94,99.6 45.19,99.6 45.45,99.6 45.7,99.6 45.96,99.6 46.21,99.6 46.46,99.6 46.72,99.6 46.97,99.6 47.23,99.6 47.48,99.6 47.74,99.6 47.99,99.6 48.24,99.6 48.5,99.6 48.75,99.6 49.01,99.6 49.26,99.6 49.51,99.6 49.77,99.6 50.02,99.6 50.28,99.6 50.53,99.59 50.79,99.59 51.04,99.59 51.29,99.59 51.55,99.59 51.8,99.59 52.06,99.59 52.31,99.59 52.57,99.59 52.82,99.59 53.07,99.59 53.33,99.59 53.58,99.59 53.84,99.59 54.09,99.59 54.34,99.59 54.6,99.59 54.85,99.59 55.11,99.59 55.36,99.59 55.62,99.59 55.87,99.59 56.12,99.59 56.38,99.59 56.63,99.59 56.89,99.59 57.14,99.59 57.4,99.59 57.65,99.59 57.9,99.59 58.16,99.59 58.41,99.59 58.67,99.59 58.92,99.59 59.18,99.59 59.43,99.59 59.68,99.59 59.94,99.59 60.19,99.59 60.45,99.59 60.7,99.59 60.95,99.59 61.21,99.59 61.46,99.59 61.72,99.59 61.97,99.59 62.23,99.59 62.48,99.59 62.73,99.59 62.99,99.59 63.24,99.59 63.5,99.59 63.75,99.59 64.01,99.59 64.26,99.59 64.51,99.59 64.77,99.59 65.02,99.59 65.28,99.59 65.53,99.59 65.78,99.59 66.04,99.59 66.29,99.59 66.55,99.59 66.8,99.59 67.06,99.59 67.31,99.59 67.56,99.59 67.82,99.59 68.07,99.59 68.33,99.59 68.58,99.59 68.84,99.59 69.09,99.59 69.34,99.59 69.6,99.59 69.85,99.59 70.11,99.59 70.36,99.59 70.62,99.59 70.87,99.59 71.12,99.59 71.38,99.59 71.63,99.59 71.89,99.59 72.14,99.59 72.39,99.59 72.65,99.58 72.9,99.58 73.16,99.58 73.41,99.58 73.67,99.58 73.92,99.58 74.17,99.58 74.43,99.58 74.68,99.58 74.94,99.58 75.19,99.58 75.45,99.58 75.7,99.58 75.95,99.58 76.21,99.58 76.46,99.58 76.72,99.58 76.97,99.58 77.22,99.58 77.48,99.58 77.73,99.58 77.99,99.58 78.24,99.58 78.5,99.58 78.75,99.58 79,99.58 79.26,99.58 79.51,99.58 79.77,99.58 80.02,99.58 80.28,99.58 80.53,99.58 80.78,99.58 81.04,99.58 81.29,99.58 81.55,99.58 81.8,99.58 82.06,99.58 82.31,99.58 82.56,99.58 82.82,99.58 83.07,99.58 83.33,99.58 83.58,99.58 83.83,99.58 84.09,99.58 84.34,99.58 84.6,99.58 84.85,99.58 85.11,99.58 85.36,99.58 85.61,99.58 85.87,99.58 86.12,99.58 86.38,99.58 86.63,99.58 86.89,99.58 87.14,99.58 87.39,99.58 87.65,99.58 87.9,99.58 88.16,99.58 88.41,99.58 88.66,99.58 88.92,99.58 89.17,99.58 89.43,99.58 89.68,99.58 89.94,99.58 90.19,99.58 90.44,99.58 90.7,99.58 90.95,99.57 91.21,99.57 91.46,99.57 91.72,99.57 91.97,99.57 92.22,99.57 92.48,99.57 92.73,99.57 92.99,99.57 93.24,99.57 93.5,99.57 93.75,99.57 94,99.57 94.26,99.57 94.51,99.57 94.77,99.57 95.02,99.57 95.27,99.56 95.53,99.56 95.78,99.56 96.04,99.56 96.29,99.56 96.55,99.56 96.8,99.55 97.05,99.55 97.31,99.55 97.56,99.55 97.82,99.54 98.07,99.54 98.33,99.53 98.58,99.53 98.83,99.52 99.09,99.5 99.34,99.46 99.6,99.37 99.85,99.18 100.1,98.88 100.36,98.52 100.61,98.3 100.87,98.51 101.12,98.85 101.38,99.14 101.63,99.32 101.88,99.4 102.14,99.42 102.39,99.43 102.65,99.42 102.9,99.41 103.16,99.4 103.41,99.39 103.66,99.37 103.92,99.36 104.17,99.34 104.43,99.33 104.68,99.31 104.94,99.29 105.19,99.27 105.44,99.25 105.7,99.22 105.95,99.2 106.21,99.17 106.46,99.14 106.71,99.12 106.97,99.09 107.22,99.05 107.48,99.02 107.73,98.99 107.99,98.95 108.24,98.91 108.49,98.88 108.75,98.84 109,98.79 109.26,98.75 109.51,98.71 109.77,98.66 110.02,98.61 110.27,98.56 110.53,98.51 110.78,98.46 111.04,98.41 111.29,98.35 111.54,98.3 111.8,98.24 112.05,98.18 112.31,98.12 112.56,98.07 112.82,98.01 113.07,97.95 113.32,97.88 113.58,97.82 113.83,97.76 114.09,97.7 114.34,97.64 114.6,97.58 114.85,97.51 115.1,97.45 115.36,97.39 115.61,97.33 115.87,97.27 116.12,97.22 116.38,97.16 116.63,97.1 116.88,97.05 117.14,96.99 117.39,96.94 117.65,96.89 117.9,96.84 118.15,96.79 118.41,96.74 118.66,96.69 118.92,96.65 119.17,96.6 119.43,96.55 119.68,96.49 119.93,96.43 120.19,96.33 120.44,96.13 120.7,95.71 120.95,94.84 121.21,93.25 121.46,90.72 121.71,87.31 121.97,83.42 122.22,80.15 122.48,80.16 122.73,83.45 122.98,87.36 123.24,90.79 123.49,93.32 123.75,94.91 124,95.78 124.26,96.2 124.51,96.39 124.76,96.48 125.02,96.53 125.27,96.57 125.53,96.6 125.78,96.62 126.04,96.65 126.29,96.67 126.54,96.68 126.8,96.7 127.05,96.72 127.31,96.73 127.56,96.74 127.82,96.76 128.07,96.77 128.32,96.78 128.58,96.79 128.83,96.8 129.09,96.82 129.34,96.83 129.59,96.84 129.85,96.85 130.1,96.86 130.36,96.87 130.61,96.88 130.87,96.89 131.12,96.9 131.37,96.91 131.63,96.92 131.88,96.93 132.14,96.93 132.39,96.94 132.65,96.95 132.9,96.96 133.15,96.97 133.41,96.98 133.66,96.99 133.92,97 134.17,97.01 134.42,97.01 134.68,97.02 134.93,97.03 135.19,97.04 135.44,97.05 135.7,97.06 135.95,97.07 136.2,97.07 136.46,97.08 136.71,97.09 136.97,97.1 137.22,97.11 137.48,97.12 137.73,97.12 137.98,97.13 138.24,97.14 138.49,97.15 138.75,97.16 139,97.16 139.26,97.17 139.51,97.18 139.76,97.19 140.02,97.2 140.27,97.2 140.53,97.21 140.78,97.22 141.03,97.23 141.29,97.23 141.54,97.24 141.8,97.25 142.05,97.26 142.31,97.27 142.56,97.27 142.81,97.28 143.07,97.29 143.32,97.3 143.58,97.3 143.83,97.31 144.09,97.32 144.34,97.32 144.59,97.33 144.85,97.34 145.1,97.35 145.36,97.35 145.61,97.36 145.86,97.37 146.12,97.38 146.37,97.38 146.63,97.39 146.88,97.4 147.14,97.4 147.39,97.41 147.64,97.42 147.9,97.43 148.15,97.43 148.41,97.44 148.66,97.45 148.92,97.45 149.17,97.46 149.42,97.47 149.68,97.47 149.93,97.48 150.19,97.49 150.44,97.49 150.7,97.5 150.95,97.51 151.2,97.51 151.46,97.52 151.71,97.53 151.97,97.53 152.22,97.54 152.47,97.55 152.73,97.55 152.98,97.56 153.24,97.57 153.49,97.57 153.75,97.58 154,97.59 154.25,97.59 154.51,97.6 154.76,97.61 155.02,97.61 155.27,97.62 155.53,97.62 155.78,97.63 156.03,97.64 156.29,97.64 156.54,97.65 156.8,97.66 157.05,97.66 157.3,97.67 157.56,97.67 157.81,97.68 158.07,97.69 158.32,97.69 158.58,97.7 158.83,97.7 159.08,97.71 159.34,97.72 159.59,97.72 159.85,97.73 160.1,97.73 160.36,97.74 160.61,97.74 160.86,97.75 161.12,97.76 161.37,97.76 161.63,97.77 161.88,97.77 162.14,97.78 162.39,97.78 162.64,97.79 162.9,97.79 163.15,97.8 163.41,97.8 163.66,97.81 163.91,97.82 164.17,97.82 164.42,97.83 164.68,97.83 164.93,97.84 165.19,97.84 165.44,97.85 165.69,97.85 165.95,97.85 166.2,97.86 166.46,97.86 166.71,97.87 166.97,97.87 167.22,97.87 167.47,97.88 167.73,97.88 167.98,97.88 168.24,97.88 168.49,97.88 168.74,97.88 169,97.88 169.25,97.87 169.51,97.85 169.76,97.81 170.02,97.71 170.27,97.52 170.52,97.16 170.78,96.57 171.03,95.73 171.29,94.68 171.54,93.54 171.8,92.64 172.05,92.64 172.3,93.55 172.56,94.7 172.81,95.76 173.07,96.61 173.32,97.21 173.58,97.58 173.83,97.79 174.08,97.89 174.34,97.95 174.59,97.98 174.85,97.99 175.1,98.01 175.35,98.02 175.61,98.03 175.86,98.04 176.12,98.05 176.37,98.05 176.63,98.06 176.88,98.07 177.13,98.07 177.39,98.08 177.64,98.09 177.9,98.09 178.15,98.1 178.41,98.1 178.66,98.11 178.91,98.11 179.17,98.12 179.42,98.12 179.68,98.13 179.93,98.14 180.18,98.14 180.44,98.14 180.69,98.15 180.95,98.15 181.2,98.16 181.46,98.16 181.71,98.17 181.96,98.17 182.22,98.18 182.47,98.18 182.73,98.19 182.98,98.19 183.24,98.2 183.49,98.2 183.74,98.21 184,98.21 184.25,98.21 184.51,98.22 184.76,98.22 185.02,98.23 185.27,98.23 185.52,98.24 185.78,98.24 186.03,98.24 186.29,98.25 186.54,98.25 186.79,98.26 187.05,98.26 187.3,98.27 187.56,98.27 187.81,98.27 188.07,98.28 188.32,98.28 188.57,98.29 188.83,98.29 189.08,98.29 189.34,98.3 189.59,98.3 189.85,98.31 190.1,98.31 190.35,98.31 190.61,98.32 190.86,98.32 191.12,98.33 191.37,98.33 191.62,98.33 191.88,98.34 192.13,98.34 192.39,98.35 192.64,98.35 192.9,98.35 193.15,98.36 193.4,98.36 193.66,98.37 193.91,98.37 194.17,98.37 194.42,98.38 194.68,98.38 194.93,98.38 195.18,98.39 195.44,98.39 195.69,98.4 195.95,98.4 196.2,98.4 196.46,98.41 196.71,98.41 196.96,98.41 197.22,98.42 197.47,98.42 197.73,98.42 197.98,98.43 198.23,98.43 198.49,98.44 198.74,98.44 199,98.44 199.25,98.45 199.51,98.45 199.76,98.45 200.01,98.46 200.27,98.46 200.52,98.46 200.78,98.47 201.03,98.47 201.29,98.47 201.54,98.48 201.79,98.48 202.05,98.48 202.3,98.49 202.56,98.49 202.81,98.49 203.06,98.5 203.32,98.5 203.57,98.5 203.83,98.51 204.08,98.51 204.34,98.51 204.59,98.52 204.84,98.52 205.1,98.52 205.35,98.53 205.61,98.53 205.86,98.53 206.12,98.54 206.37,98.54 206.62,98.54 206.88,98.55 207.13,98.55 207.39,98.55 207.64,98.56 207.9,98.56 208.15,98.56 208.4,98.56 208.66,98.57 208.91,98.57 209.17,98.57 209.42,98.58 209.67,98.58 209.93,98.58 210.18,98.59 210.44,98.59 210.69,98.59 210.95,98.6 211.2,98.6 211.45,98.6 211.71,98.6 211.96,98.61 212.22,98.61 212.47,98.61 212.73,98.62 212.98,98.62 213.23,98.62 213.49,98.62 213.74,98.63 214,98.63 214.25,98.63 214.5,98.64 214.76,98.64 215.01,98.64 215.27,98.64 215.52,98.65 215.78,98.65 216.03,98.65 216.28,98.66 216.54,98.66 216.79,98.66 217.05,98.66 217.3,98.67 217.56,98.67 217.81,98.67 218.06,98.67 218.32,98.68 218.57,98.68 218.83,98.68 219.08,98.69 219.34,98.69 219.59,98.69 219.84,98.69 220.1,98.7 220.35,98.7 220.61,98.7 220.86,98.7 221.11,98.71 221.37,98.71 221.62,98.71 221.88,98.71 222.13,98.72 222.39,98.72 222.64,98.72 222.89,98.72 223.15,98.73 223.4,98.73 223.66,98.73 223.91,98.73 224.17,98.74 224.42,98.74 224.67,98.74 224.93,98.74 225.18,98.75 225.44,98.75 225.69,98.75 225.94,98.75 226.2,98.76 226.45,98.76 226.71,98.76 226.96,98.76 227.22,98.77 227.47,98.77 227.72,98.77 227.98,98.77 228.23,98.78 228.49,98.78 228.74,98.78 229,98.78 229.25,98.79 229.5,98.79 229.76,98.79 230.01,98.79 230.27,98.79 230.52,98.8 230.78,98.8 231.03,98.8 231.28,98.8 231.54,98.81 231.79,98.81 232.05,98.81 232.3,98.81 232.55,98.82 232.81,98.82 233.06,98.82 233.32,98.82 233.57,98.82 233.83,98.83 234.08,98.83 234.33,98.83 234.59,98.83 234.84,98.83 235.1,98.84 235.35,98.84 235.61,98.84 235.86,98.84 236.11,98.85 236.37,98.85 236.62,98.85 236.88,98.85 237.13,98.85 237.38,98.86 237.64,98.86 237.89,98.86 238.15,98.86 238.4,98.86 238.66,98.87 238.91,98.87 239.16,98.87 239.42,98.87 239.67,98.87 239.93,98.88 240.18,98.88 240.44,98.88 240.69,98.88 240.94,98.88 241.2,98.89 241.45,98.89 241.71,98.89 241.96,98.89 242.22,98.89 242.47,98.9 242.72,98.9 242.98,98.9 243.23,98.9 243.49,98.9 243.74,98.91 243.99,98.91 244.25,98.91 244.5,98.91 244.76,98.91 245.01,98.92 245.27,98.92 245.52,98.92 245.77,98.92 246.03,98.92 246.28,98.92 246.54,98.93 246.79,98.93 247.05,98.93 247.3,98.93 247.55,98.93 247.81,98.94 248.06,98.94 248.32,98.94 248.57,98.94 248.82,98.94 249.08,98.94 249.33,98.95 249.59,98.95 249.84,98.95 250.1,98.95 250.35,98.95 250.6,98.95 250.86,98.96 251.11,98.96 251.37,98.96 251.62,98.96 251.88,98.96 252.13,98.97 252.38,98.97 252.64,98.97 252.89,98.97 253.15,98.97 253.4,98.97 253.66,98.98 253.91,98.98 254.16,98.98 254.42,98.98 254.67,98.98 254.93,98.98 255.18,98.99 255.43,98.99 255.69,98.99 255.94,98.99 256.2,98.99 256.45,98.99 256.71,98.99 256.96,99 257.21,99 257.47,99 257.72,99 257.98,99 258.23,99 258.49,99.01 258.74,99.01 258.99,99.01 259.25,99.01 259.5,99.01 259.76,99.01 260.01,99.02 260.26,99.02 260.52,99.02 260.77,99.02 261.03,99.02 261.28,99.02 261.54,99.02 261.79,99.03 262.04,99.03 262.3,99.03 262.55,99.03 262.81,99.03 263.06,99.03 263.32,99.03 263.57,99.04 263.82,99.04 264.08,99.04 264.33,99.04 264.59,99.04 264.84,99.04 265.1,99.04 265.35,99.05 265.6,99.05 265.86,99.05 266.11,99.05 266.37,99.05 266.62,99.05 266.87,99.05 267.13,99.06 267.38,99.06 267.64,99.06 267.89,99.06 268.15,99.06 268.4,99.06"/>
<polyline stroke="#2a2a90" points="39.6,114.5 39.85,114.5 40.11,114.5 40.36,114.5 40.62,114.5 40.87,114.5 41.13,114.5 41.38,114.5 41.63,114.5 41.89,114.5 42.14,114.5 42.4,114.5 42.65,114.5 42.9,114.5 43.16,114.49 43.41,114.49 43.67,114.49 43.92,114.49 44.18,114.49 44.43,114.49 44.68,114.49 44.94,114.49 45.19,114.49 45.45,114.49 45.7,114.49 45.96,114.49 46.21,114.49 46.46,114.49 46.72,114.49 46.97,114.49 47.23,114.49 47.48,114.49 47.74,114.49 47.99,114.49 48.24,114.49 48.5,114.49 48.75,114.49 49.01,114.49 49.26,114.49 49.51,114.49 49.77,114.49 50.02,114.49 50.28,114.49 50.53,114.49 50.79,114.48 51.04,114.48 51.29,114.48 51.55,114.48 51.8,114.48 52.06,114.48 52.31,114.48 52.57,114.48 52.82,114.48 53.07,114.48 53.33,114.48 53.58,114.48 53.84,114.48 54.09,114.48 54.34,114.48 54.6,114.48 54.85,114.48 55.11,114.48 55.36,114.48 55.62,114.48 55.87,114.48 56.12,114.48 56.38,114.48 56.63,114.48 56.89,114.48 57.14,114.48 57.4,114.48 57.65,114.48 57.9,114.48 58.16,114.48 58.41,114.47 58.67,114.47 58.92,114.47 59.18,114.47 59.43,114.47 59.68,114.47 59.94,114.47 60.19,114.47 60.45,114.47 60.7,114.47 60.95,114.47 61.21,114.47 61.46,114.47 61.72,114.47 61.97,114.47 62.23,114.47 62.48,114.47 62.73,114.47 62.99,114.47 63.24,114.47 63.5,114.47 63.75,114.47 64.01,114.47 64.26,114.47 64.51,114.47 64.77,114.47 65.02,114.47 65.28,114.47 65.53,114.47 65.78,114.46 66.04,114.46 66.29,114.46 66.55,114.46 66.8,114.46 67.06,114.46 67.31,114.46 67.56,114.46 67.82,114.46 68.07,114.46 68.33,114.46 68.58,114.46 68.84,114.46 69.09,114.46 69.34,114.46 69.6,114.46 69.85,114.46 70.11,114.46 70.36,114.46 70.62,114.46 70.87,114.46 71.12,114.46 71.38,114.46 71.63,114.46 71.89,114.46 72.14,114.46 72.39,114.46 72.65,114.46 72.9,114.46 73.16,114.46 73.41,114.45 73.67,114.45 73.92,114.45 74.17,114.45 74.43,114.45 74.68,114.45 74.94,114.45 75.19,114.45 75.45,114.45 75.7,114.45 75.95,114.45 76.21,114.45 76.46,114.45 76.72,114.45 76.97,114.45 77.22,114.45 77.48,114.45 77.73,114.45 77.99,114.45 78.24,114.45 78.5,114.45 78.75,114.45 79,114.45 79.26,114.45 79.51,114.45 79.77,114.45 80.02,114.45 80.28,114.45 80.53,114.45 80.78,114.44 81.04,114.44 81.29,114.44 81.55,114.44 81.8,114.44 82.06,114.44 82.31,114.44 82.56,114.44 82.82,114.44 83.07,114.44 83.33,114.44 83.58,114.44 83.83,114.44 84.09,114.44 84.34,114.44 84.6,114.44 84.85,114.44 85.11,114.44 85.36,114.44 85.61,114.44 85.87,114.44 86.12,114.44 86.38,114.44 86.63,114.44 86.89,114.44 87.14,114.44 87.39,114.44 87.65,114.44 87.9,114.43 88.16,114.43 88.41,114.43 88.66,114.43 88.92,114.43 89.17,114.43 89.43,114.43 89.68,114.43 89.94,114.43 90.19,114.43 90.44,114.43 90.7,114.43 90.95,114.43 91.21,114.43 91.46,114.43 91.72,114.43 91.97,114.43 92.22,114.43 92.48,114.43 92.73,114.43 92.99,114.43 93.24,114.42 93.5,114.42 93.75,114.42 94,114.42 94.26,114.42 94.51,114.42 94.77,114.42 95.02,114.42 95.27,114.42 95.53,114.42 95.78,114.41 96.04,114.41 96.29,114.41 96.55,114.41 96.8,114.41 97.05,114.41 97.31,114.4 97.56,114.4 97.82,114.4 98.07,114.4 98.33,114.39 98.58,114.39 98.83,114.39 99.09,114.39 99.34,114.38 99.6,114.38 99.85,114.37 100.1,114.37 100.36,114.36 100.61,114.36 100.87,114.35 101.12,114.35 101.38,114.34 101.63,114.33 101.88,114.32 102.14,114.32 102.39,114.31 102.65,114.3 102.9,114.29 103.16,114.28 103.41,114.27 103.66,114.25 103.92,114.24 104.17,114.23 104.43,114.21 104.68,114.2 104.94,114.18 105.19,114.16 105.44,114.15 105.7,114.13 105.95,114.11 106.21,114.09 106.46,114.06 106.71,114.04 106.97,114.02 107.22,113.99 107.48,113.97 107.73,113.94 107.99,113.91 108.24,113.88 108.49,113.85 108.75,113.82 109,113.79 109.26,113.75 109.51,113.72 109.77,113.68 110.02,113.64 110.27,113.61 110.53,113.57 110.78,113.53 111.04,113.49 111.29,113.45 111.54,113.4 111.8,113.36 112.05,113.32 112.31,113.27 112.56,113.23 112.82,113.18 113.07,113.14 113.32,113.09 113.58,113.04 113.83,113 114.09,112.95 114.34,112.9 114.6,112.86 114.85,112.81 115.1,112.77 115.36,112.72 115.61,112.68 115.87,112.63 116.12,112.59 116.38,112.55 116.63,112.5 116.88,112.46 117.14,112.42 117.39,112.38 117.65,112.34 117.9,112.3 118.15,112.25 118.41,112.21 118.66,112.17 118.92,112.12 119.17,112.07 119.43,112 119.68,111.91 119.93,111.73 120.19,111.35 120.44,110.53 120.7,108.92 120.95,106.16 121.21,102.1 121.46,97.06 121.71,91.89 121.97,89.21 122.22,91.9 122.48,97.09 122.73,102.14 122.98,106.2 123.24,108.97 123.49,110.58 123.75,111.39 124,111.77 124.26,111.94 124.51,112.02 124.76,112.08 125.02,112.12 125.27,112.15 125.53,112.17 125.78,112.19 126.04,112.21 126.29,112.23 126.54,112.24 126.8,112.25 127.05,112.26 127.31,112.28 127.56,112.28 127.82,112.29 128.07,112.3 128.32,112.31 128.58,112.31 128.83,112.31 129.09,112.31 129.34,112.31 129.59,112.3 129.85,112.29 130.1,112.27 130.36,112.24 130.61,112.21 130.87,112.16 131.12,112.1 131.37,112.03 131.63,111.95 131.88,111.85 132.14,111.74 132.39,111.63 132.65,111.51 132.9,111.4 133.15,111.32 133.41,111.29 133.66,111.33 133.92,111.42 134.17,111.55 134.42,111.68 134.68,111.81 134.93,111.93 135.19,112.04 135.44,112.13 135.7,112.22 135.95,112.29 136.2,112.35 136.46,112.4 136.71,112.44 136.97,112.47 137.22,112.5 137.48,112.52 137.73,112.54 137.98,112.55 138.24,112.56 138.49,112.58 138.75,112.58 139,112.59 139.26,112.6 139.51,112.61 139.76,112.62 140.02,112.62 140.27,112.63 140.53,112.64 140.78,112.64 141.03,112.65 141.29,112.66 141.54,112.66 141.8,112.67 142.05,112.68 142.31,112.68 142.56,112.69 142.81,112.69 143.07,112.7 143.32,112.7 143.58,112.71 143.83,112.72 144.09,112.72 144.34,112.73 144.59,112.73 144.85,112.74 145.1,112.74 145.36,112.75 145.61,112.75 145.86,112.76 146.12,112.76 146.37,112.77 146.63,112.77 146.88,112.78 147.14,112.78 147.39,112.79 147.64,112.8 147.9,112.8 148.15,112.81 148.41,112.81 148.66,112.82 148.92,112.82 149.17,112.82 149.42,112.83 149.68,112.83 149.93,112.84 150.19,112.84 150.44,112.85 150.7,112.85 150.95,112.86 151.2,112.86 151.46,112.87 151.71,112.87 151.97,112.88 152.22,112.88 152.47,112.89 152.73,112.89 152.98,112.9 153.24,112.9 153.49,112.9 153.75,112.91 154,112.91 154.25,112.92 154.51,112.92 154.76,112.93 155.02,112.93 155.27,112.94 155.53,112.94 155.78,112.94 156.03,112.95 156.29,112.95 156.54,112.96 156.8,112.96 157.05,112.97 157.3,112.97 157.56,112.97 157.81,112.98 158.07,112.98 158.32,112.99 158.58,112.99 158.83,112.99 159.08,113 159.34,113 159.59,113.01 159.85,113.01 160.1,113.01 160.36,113.02 160.61,113.02 160.86,113.03 161.12,113.03 161.37,113.03 161.63,113.04 161.88,113.04 162.14,113.04 162.39,113.05 162.64,113.05 162.9,113.06 163.15,113.06 163.41,113.06 163.66,113.07 163.91,113.07 164.17,113.07 164.42,113.07 164.68,113.08 164.93,113.08 165.19,113.08 165.44,113.09 165.69,113.09 165.95,113.09 166.2,113.09 166.46,113.09 166.71,113.09 166.97,113.1 167.22,113.1 167.47,113.09 167.73,113.09 167.98,113.09 168.24,113.08 168.49,113.07 168.74,113.05 169,113 169.25,112.89 169.51,112.68 169.76,112.28 170.02,111.64 170.27,110.72 170.52,109.57 170.78,108.33 171.03,107.34 171.29,107.35 171.54,108.34 171.8,109.59 172.05,110.74 172.3,111.67 172.56,112.32 172.81,112.72 173.07,112.95 173.32,113.06 173.58,113.12 173.83,113.15 174.08,113.16 174.34,113.18 174.59,113.19 174.85,113.2 175.1,113.2 175.35,113.21 175.61,113.22 175.86,113.22 176.12,113.23 176.37,113.23 176.63,113.24 176.88,113.24 177.13,113.25 177.39,113.25 177.64,113.26 177.9,113.26 178.15,113.26 178.41,113.27 178.66,113.27 178.91,113.28 179.17,113.28 179.42,113.28 179.68,113.29 179.93,113.29 180.18,113.29 180.44,113.3 180.69,113.3 180.95,113.3 181.2,113.31 181.46,113.31 181.71,113.31 181.96,113.32 182.22,113.32 182.47,113.32 182.73,113.33 182.98,113.33 183.24,113.33 183.49,113.34 183.74,113.34 184,113.34 184.25,113.34 184.51,113.35 184.76,113.35 185.02,113.35 185.27,113.36 185.52,113.36 185.78,113.36 186.03,113.36 186.29,113.37 186.54,113.37 186.79,113.37 187.05,113.38 187.3,113.38 187.56,113.38 187.81,113.38 188.07,113.39 188.32,113.39 188.57,113.39 188.83,113.4 189.08,113.4 189.34,113.4 189.59,113.4 189.85,113.41 190.1,113.41 190.35,113.41 190.61,113.41 190.86,113.42 191.12,113.42 191.37,113.42 191.62,113.43 191.88,113.43 192.13,113.43 192.39,113.43 192.64,113.44 192.9,113.44 193.15,113.44 193.4,113.44 193.66,113.45 193.91,113.45 194.17,113.45 194.42,113.45 194.68,113.46 194.93,113.46 195.18,113.46 195.44,113.46 195.69,113.47 195.95,113.47 196.2,113.47 196.46,113.47 196.71,113.48 196.96,113.48 197.22,113.48 197.47,113.48 197.73,113.48 197.98,113.49 198.23,113.49 198.49,113.49 198.74,113.49 199,113.5 199.25,113.5 199.51,113.5 199.76,113.5 200.01,113.51 200.27,113.51 200.52,113.51 200.78,113.51 201.03,113.51 201.29,113.52 201.54,113.52 201.79,113.52 202.05,113.52 202.3,113.53 202.56,113.53 202.81,113.53 203.06,113.53 203.32,113.53 203.57,113.54 203.83,113.54 204.08,113.54 204.34,113.54 204.59,113.55 204.84,113.55 205.1,113.55 205.35,113.55 205.61,113.55 205.86,113.56 206.12,113.56 206.37,113.56 206.62,113.56 206.88,113.56 207.13,113.57 207.39,113.57 207.64,113.57 207.9,113.57 208.15,113.57 208.4,113.58 208.66,113.58 208.91,113.58 209.17,113.58 209.42,113.58 209.67,113.59 209.93,113.59 210.18,113.59 210.44,113.59 210.69,113.59 210.95,113.6 211.2,113.6 211.45,113.6 211.71,113.6 211.96,113.6 212.22,113.61 212.47,113.61 212.73,113.61 212.98,113.61 213.23,113.61 213.49,113.62 213.74,113.62 214,113.62 214.25,113.62 214.5,113.62 214.76,113.62 215.01,113.63 215.27,113.63 215.52,113.63 215.78,113.63 216.03,113.63 216.28,113.64 216.54,113.64 216.79,113.64 217.05,113.64 217.3,113.64 217.56,113.64 217.81,113.65 218.06,113.65 218.32,113.65 218.57,113.65 218.83,113.65 219.08,113.65 219.34,113.66 219.59,113.66 219.84,113.66 220.1,113.66 220.35,113.66 220.61,113.66 220.86,113.67 221.11,113.67 221.37,113.67 221.62,113.67 221.88,113.67 222.13,113.67 222.39,113.68 222.64,113.68 222.89,113.68 223.15,113.68 223.4,113.68 223.66,113.68 223.91,113.69 224.17,113.69 224.42,113.69 224.67,113.69 224.93,113.69 225.18,113.69 225.44,113.7 225.69,113.7 225.94,113.7 226.2,113.7 226.45,113.7 226.71,113.7 226.96,113.7 227.22,113.71 227.47,113.71 227.72,113.71 227.98,113.71 228.23,113.71 228.49,113.71 228.74,113.71 229,113.72 229.25,113.72 229.5,113.72 229.76,113.72 230.01,113.72 230.27,113.72 230.52,113.72 230.78,113.73 231.03,113.73 231.28,113.73 231.54,113.73 231.79,113.73 232.05,113.73 232.3,113.73 232.55,113.74 232.81,113.74 233.06,113.74 233.32,113.74 233.57,113.74 233.83,113.74 234.08,113.74 234.33,113.75 234.59,113.75 234.84,113.75 235.1,113.75 235.35,113.75 235.61,113.75 235.86,113.75 236.11,113.75 236.37,113.76 236.62,113.76 236.88,113.76 237.13,113.76 237.38,113.76 237.64,113.76 237.89,113.76 238.15,113.76 238.4,113.77 238.66,113.77 238.91,113.77 239.16,113.77 239.42,113.77 239.67,113.77 239.93,113.77 240.18,113.77 240.44,113.78 240.69,113.78 240.94,113.78 241.2,113.78 241.45,113.78 241.71,113.78 241.96,113.78 242.22,113.78 242.47,113.79 242.72,113.79 242.98,113.79 243.23,113.79 243.49,113.79 243.74,113.79 243.99,113.79 244.25,113.79 244.5,113.79 244.76,113.8 245.01,113.8 245.27,113.8 245.52,113.8 245.77,113.8 246.03,113.8 246.28,113.8 246.54,113.8 246.79,113.8 247.05,113.81 247.3,113.81 247.55,113.81 247.81,113.81 248.06,113.81 248.32,113.81 248.57,113.81 248.82,113.81 249.08,113.81 249.33,113.81 249.59,113.82 249.84,113.82 250.1,113.82 250.35,113.82 250.6,113.82 250.86,113.82 251.11,113.82 251.37,113.82 251.62,113.82 251.88,113.82 252.13,113.83 252.38,113.83 252.64,113.83 252.89,113.83 253.15,113.83 253.4,113.83 253.66,113.83 253.91,113.83 254.16,113.83 254.42,113.83 254.67,113.84 254.93,113.84 255.18,113.84 255.43,113.84 255.69,113.84 255.94,113.84 256.2,113.84 256.45,113.84 256.71,113.84 256.96,113.84 257.21,113.84 257.47,113.85 257.72,113.85 257.98,113.85 258.23,113.85 258.49,113.85 258.74,113.85 258.99,113.85 259.25,113.85 259.5,113.85 259.76,113.85 260.01,113.85 260.26,113.86 260.52,113.86 260.77,113.86 261.03,113.86 261.28,113.86 261.54,113.86 261.79,113.86 262.04,113.86 262.3,113.86 262.55,113.86 262.81,113.86 263.06,113.86 263.32,113.87 263.57,113.87 263.82,113.87 264.08,113.87 264.33,113.87 264.59,113.87 264.84,113.87 265.1,113.87 265.35,113.87 265.6,113.87 265.86,113.87 266.11,113.87 266.37,113.87 266.62,113.88 266.87,113.88 267.13,113.88 267.38,113.88 267.64,113.88 267.89,113.88 268.15,113.88 268.4,113.88"/>
<polyline stroke="#9020f0" points="39.6,128.8 39.85,128.8 40.11,128.8 40.36,128.8 40.62,128.8 40.87,128.8 41.13,128.8 41.38,128.8 41.63,128.8 41.89,128.8 42.14,128.8 42.4,128.8 42.65,128.8 42.9,128.81 43.16,128.81 43.41,128.81 43.67,128.81 43.92,128.81 44.18,128.81 44.43,128.81 44.68,128.81 44.94,128.81 45.19,128.81 45.45,128.81 45.7,128.81 45.96,128.81 46.21,128.81 46.46,128.81 46.72,128.81 46.97,128.81 47.23,128.81 47.48,128.81 47.74,128.81 47.99,128.81 48.24,128.81 48.5,128.82 48.75,128.82 49.01,128.82 49.26,128.82 49.51,128.82 49.77,128.82 50.02,128.82 50.28,128.82 50.53,128.82 50.79,128.82 51.04,128.82 51.29,128.82 51.55,128.82 51.8,128.82 52.06,128.82 52.31,128.82 52.57,128.82 52.82,128.82 53.07,128.82 53.33,128.82 53.58,128.82 53.84,128.82 54.09,128.82 54.34,128.83 54.6,128.83 54.85,128.83 55.11,128.83 55.36,128.83 55.62,128.83 55.87,128.83 56.12,128.83 56.38,128.83 56.63,128.83 56.89,128.83 57.14,128.83 57.4,128.83 57.65,128.83 57.9,128.83 58.16,128.83 58.41,128.83 58.67,128.83 58.92,128.83 59.18,128.83 59.43,128.83 59.68,128.83 59.94,128.83 60.19,128.84 60.45,128.84 60.7,128.84 60.95,128.84 61.21,128.84 61.46,128.84 61.72,128.84 61.97,128.84 62.23,128.84 62.48,128.84 62.73,128.84 62.99,128.84 63.24,128.84 63.5,128.84 63.75,128.84 64.01,128.84 64.26,128.84 64.51,128.84 64.77,128.84 65.02,128.84 65.28,128.84 65.53,128.84 65.78,128.85 66.04,128.85 66.29,128.85 66.55,128.85 66.8,128.85 67.06,128.85 67.31,128.85 67.56,128.85 67.82,128.85 68.07,128.85 68.33,128.85 68.58,128.85 68.84,128.85 69.09,128.85 69.34,128.85 69.6,128.85 69.85,128.85 70.11,128.85 70.36,128.85 70.62,128.85 70.87,128.85 71.12,128.85 71.38,128.85 71.63,128.86 71.89,128.86 72.14,128.86 72.39,128.86 72.65,128.86 72.9,128.86 73.16,128.86 73.41,128.86 73.67,128.86 73.92,128.86 74.17,128.86 74.43,128.86 74.68,128.86 74.94,128.86 75.19,128.86 75.45,128.86 75.7,128.86 75.95,128.86 76.21,128.86 76.46,128.86 76.72,128.86 76.97,128.86 77.22,128.86 77.48,128.87 77.73,128.87 77.99,128.87 78.24,128.87 78.5,128.87 78.75,128.87 79,128.87 79.26,128.87 79.51,128.87 79.77,128.87 80.02,128.87 80.28,128.87 80.53,128.87 80.78,128.87 81.04,128.87 81.29,128.87 81.55,128.87 81.8,128.87 82.06,128.87 82.31,128.87 82.56,128.87 82.82,128.87 83.07,128.87 83.33,128.88 83.58,128.88 83.83,128.88 84.09,128.88 84.34,128.88 84.6,128.88 84.85,128.88 85.11,128.88 85.36,128.88 85.61,128.88 85.87,128.88 86.12,128.88 86.38,128.88 86.63,128.88 86.89,128.88 87.14,128.88 87.39,128.88 87.65,128.88 87.9,128.88 88.16,128.88 88.41,128.88 88.66,128.88 88.92,128.88 89.17,128.88 89.43,128.88 89.68,128.89 89.94,128.89 90.19,128.89 90.44,128.89 90.7,128.89 90.95,128.89 91.21,128.89 91.46,128.89 91.72,128.89 91.97,128.89 92.22,128.89 92.48,128.89 92.73,128.89 92.99,128.89 93.24,128.89 93.5,128.89 93.75,128.89 94,128.89 94.26,128.89 94.51,128.89 94.77,128.89 95.02,128.89 95.27,128.89 95.53,128.89 95.78,128.88 96.04,128.88 96.29,128.88 96.55,128.88 96.8,128.88 97.05,128.88 97.31,128.88 97.56,128.88 97.82,128.87 98.07,128.87 98.33,128.87 98.58,128.87 98.83,128.86 99.09,128.86 99.34,128.86 99.6,128.85 99.85,128.85 100.1,128.84 100.36,128.84 100.61,128.83 100.87,128.83 101.12,128.82 101.38,128.82 101.63,128.81 101.88,128.8 102.14,128.79 102.39,128.78 102.65,128.77 102.9,128.76 103.16,128.75 103.41,128.74 103.66,128.73 103.92,128.72 104.17,128.7 104.43,128.69 104.68,128.67 104.94,128.66 105.19,128.64 105.44,128.62 105.7,128.6 105.95,128.58 106.21,128.56 106.46,128.54 106.71,128.51 106.97,128.49 107.22,128.47 107.48,128.44 107.73,128.41 107.99,128.38 108.24,128.36 108.49,128.33 108.75,128.29 109,128.26 109.26,128.23 109.51,128.2 109.77,128.16 110.02,128.13 110.27,128.09 110.53,128.05 110.78,128.01 111.04,127.98 111.29,127.94 111.54,127.9 111.8,127.86 112.05,127.82 112.31,127.78 112.56,127.74 112.82,127.7 113.07,127.66 113.32,127.61 113.58,127.57 113.83,127.53 114.09,127.49 114.34,127.45 114.6,127.41 114.85,127.37 115.1,127.33 115.36,127.3 115.61,127.26 115.87,127.22 116.12,127.18 116.38,127.15 116.63,127.11 116.88,127.08 117.14,127.05 117.39,127.01 117.65,126.98 117.9,126.94 118.15,126.91 118.41,126.87 118.66,126.83 118.92,126.77 119.17,126.68 119.43,126.51 119.68,126.12 119.93,125.32 120.19,123.82 120.44,121.39 120.7,118.06 120.95,114.18 121.21,110.74 121.46,110.32 121.71,113.42 121.97,117.34 122.22,120.84 122.48,123.46 122.73,125.14 122.98,126.06 123.24,126.51 123.49,126.71 123.75,126.81 124,126.86 124.26,126.9 124.51,126.92 124.76,126.95 125.02,126.97 125.27,126.98 125.53,127 125.78,127.01 126.04,127.02 126.29,127.03 126.54,127.04 126.8,127.05 127.05,127.06 127.31,127.06 127.56,127.07 127.82,127.07 128.07,127.08 128.32,127.08 128.58,127.08 128.83,127.07 129.09,127.06 129.34,127.05 129.59,127.03 129.85,127 130.1,126.96 130.36,126.91 130.61,126.85 130.87,126.79 131.12,126.71 131.37,126.62 131.63,126.52 131.88,126.42 132.14,126.33 132.39,126.27 132.65,126.24 132.9,126.28 133.15,126.36 133.41,126.46 133.66,126.57 133.92,126.68 134.17,126.78 134.42,126.88 134.68,126.96 134.93,127.03 135.19,127.09 135.44,127.14 135.7,127.18 135.95,127.22 136.2,127.24 136.46,127.27 136.71,127.29 136.97,127.3 137.22,127.31 137.48,127.32 137.73,127.33 137.98,127.34 138.24,127.35 138.49,127.36 138.75,127.36 139,127.37 139.26,127.38 139.51,127.38 139.76,127.39 140.02,127.39 140.27,127.4 140.53,127.4 140.78,127.41 141.03,127.41 141.29,127.41 141.54,127.42 141.8,127.42 142.05,127.41 142.31,127.41 142.56,127.4 142.81,127.39 143.07,127.38 143.32,127.35 143.58,127.32 143.83,127.28 144.09,127.23 144.34,127.17 144.59,127.11 144.85,127.03 145.1,126.94 145.36,126.84 145.61,126.74 145.86,126.65 146.12,126.58 146.37,126.56 146.63,126.59 146.88,126.67 147.14,126.77 147.39,126.88 147.64,126.99 147.9,127.09 148.15,127.18 148.41,127.26 148.66,127.33 148.92,127.39 149.17,127.44 149.42,127.48 149.68,127.52 149.93,127.54 150.19,127.57 150.44,127.58 150.7,127.6 150.95,127.61 151.2,127.62 151.46,127.63 151.71,127.64 151.97,127.65 152.22,127.65 152.47,127.66 152.73,127.67 152.98,127.67 153.24,127.68 153.49,127.68 153.75,127.69 154,127.69 154.25,127.7 154.51,127.71 154.76,127.71 155.02,127.72 155.27,127.72 155.53,127.73 155.78,127.73 156.03,127.74 156.29,127.74 156.54,127.75 156.8,127.75 157.05,127.76 157.3,127.76 157.56,127.77 157.81,127.77 158.07,127.77 158.32,127.78 158.58,127.78 158.83,127.79 159.08,127.79 159.34,127.8 159.59,127.8 159.85,127.81 160.1,127.81 160.36,127.82 160.61,127.82 160.86,127.82 161.12,127.83 161.37,127.83 161.63,127.84 161.88,127.84 162.14,127.84 162.39,127.85 162.64,127.85 162.9,127.86 163.15,127.86 163.41,127.86 163.66,127.87 163.91,127.87 164.17,127.87 164.42,127.87 164.68,127.88 164.93,127.88 165.19,127.88 165.44,127.88 165.69,127.89 165.95,127.89 166.2,127.89 166.46,127.89 166.71,127.88 166.97,127.88 167.22,127.87 167.47,127.86 167.73,127.82 167.98,127.75 168.24,127.6 168.49,127.3 168.74,126.79 169,126.01 169.25,124.96 169.51,123.75 169.76,122.56 170.02,121.98 170.27,122.57 170.52,123.76 170.78,124.99 171.03,126.04 171.29,126.83 171.54,127.35 171.8,127.65 172.05,127.82 172.3,127.9 172.56,127.94 172.81,127.96 173.07,127.97 173.32,127.99 173.58,128 173.83,128.01 174.08,128.01 174.34,128.02 174.59,128.03 174.85,128.03 175.1,128.04 175.35,128.04 175.61,128.05 175.86,128.05 176.12,128.06 176.37,128.06 176.63,128.07 176.88,128.07 177.13,128.08 177.39,128.08 177.64,128.09 177.9,128.09 178.15,128.09 178.41,128.1 178.66,128.1 178.91,128.11 179.17,128.11 179.42,128.11 179.68,128.12 179.93,128.12 180.18,128.13 180.44,128.13 180.69,128.13 180.95,128.14 181.2,128.14 181.46,128.14 181.71,128.15 181.96,128.15 182.22,128.15 182.47,128.16 182.73,128.16 182.98,128.17 183.24,128.17 183.49,128.17 183.74,128.18 184,128.18 184.25,128.18 184.51,128.19 184.76,128.19 185.02,128.19 185.27,128.2 185.52,128.2 185.78,128.2 186.03,128.21 186.29,128.21 186.54,128.21 186.79,128.22 187.05,128.22 187.3,128.22 187.56,128.23 187.81,128.23 188.07,128.23 188.32,128.24 188.57,128.24 188.83,128.24 189.08,128.25 189.34,128.25 189.59,128.25 189.85,128.26 190.1,128.26 190.35,128.26 190.61,128.26 190.86,128.27 191.12,128.27 191.37,128.27 191.62,128.28 191.88,128.28 192.13,128.28 192.39,128.29 192.64,128.29 192.9,128.29 193.15,128.3 193.4,128.3 193.66,128.3 193.91,128.3 194.17,128.31 194.42,128.31 194.68,128.31 194.93,128.32 195.18,128.32 195.44,128.32 195.69,128.33 195.95,128.33 196.2,128.33 196.46,128.33 196.71,128.34 196.96,128.34 197.22,128.34 197.47,128.35 197.73,128.35 197.98,128.35 198.23,128.35 198.49,128.36 198.74,128.36 199,128.36 199.25,128.37 199.51,128.37 199.76,128.37 200.01,128.37 200.27,128.38 200.52,128.38 200.78,128.38 201.03,128.39 201.29,128.39 201.54,128.39 201.79,128.39 202.05,128.4 202.3,128.4 202.56,128.4 202.81,128.41 203.06,128.41 203.32,128.41 203.57,128.41 203.83,128.42 204.08,128.42 204.34,128.42 204.59,128.42 204.84,128.43 205.1,128.43 205.35,128.43 205.61,128.43 205.86,128.44 206.12,128.44 206.37,128.44 206.62,128.45 206.88,128.45 207.13,128.45 207.39,128.45 207.64,128.46 207.9,128.46 208.15,128.46 208.4,128.46 208.66,128.47 208.91,128.47 209.17,128.47 209.42,128.47 209.67,128.48 209.93,128.48 210.18,128.48 210.44,128.48 210.69,128.49 210.95,128.49 211.2,128.49 211.45,128.49 211.71,128.5 211.96,128.5 212.22,128.5 212.47,128.5 212.73,128.51 212.98,128.51 213.23,128.51 213.49,128.51 213.74,128.52 214,128.52 214.25,128.52 214.5,128.52 214.76,128.52 215.01,128.53 215.27,128.53 215.52,128.53 215.78,128.53 216.03,128.54 216.28,128.54 216.54,128.54 216.79,128.54 217.05,128.55 217.3,128.55 217.56,128.55 217.81,128.55 218.06,128.56 218.32,128.56 218.57,128.56 218.83,128.56 219.08,128.56 219.34,128.57 219.59,128.57 219.84,128.57 220.1,128.57 220.35,128.58 220.61,128.58 220.86,128.58 221.11,128.58 221.37,128.58 221.62,128.59 221.88,128.59 222.13,128.59 222.39,128.59 222.64,128.6 222.89,128.6 223.15,128.6 223.4,128.6 223.66,128.6 223.91,128.61 224.17,128.61 224.42,128.61 224.67,128.61 224.93,128.62 225.18,128.62 225.44,128.62 225.69,128.62 225.94,128.62 226.2,128.63 226.45,128.63 226.71,128.63 226.96,128.63 227.22,128.63 227.47,128.64 227.72,128.64 227.98,128.64 228.23,128.64 228.49,128.64 228.74,128.65 229,128.65 229.25,128.65 229.5,128.65 229.76,128.65 230.01,128.66 230.27,128.66 230.52,128.66 230.78,128.66 231.03,128.67 231.28,128.67 231.54,128.67 231.79,128.67 232.05,128.67 232.3,128.68 232.55,128.68 232.81,128.68 233.06,128.68 233.32,128.68 233.57,128.68 233.83,128.69 234.08,128.69 234.33,128.69 234.59,128.69 234.84,128.69 235.1,128.7 235.35,128.7 235.61,128.7 235.86,128.7 236.11,128.7 236.37,128.71 236.62,128.71 236.88,128.71 237.13,128.71 237.38,128.71 237.64,128.72 237.89,128.72 238.15,128.72 238.4,128.72 238.66,128.72 238.91,128.73 239.16,128.73 239.42,128.73 239.67,128.73 239.93,128.73 240.18,128.73 240.44,128.74 240.69,128.74 240.94,128.74 241.2,128.74 241.45,128.74 241.71,128.75 241.96,128.75 242.22,128.75 242.47,128.75 242.72,128.75 242.98,128.75 243.23,128.76 243.49,128.76 243.74,128.76 243.99,128.76 244.25,128.76 244.5,128.76 244.76,128.77 245.01,128.77 245.27,128.77 245.52,128.77 245.77,128.77 246.03,128.78 246.28,128.78 246.54,128.78 246.79,128.78 247.05,128.78 247.3,128.78 247.55,128.79 247.81,128.79 248.06,128.79 248.32,128.79 248.57,128.79 248.82,128.79 249.08,128.8 249.33,128.8 249.59,128.8 249.84,128.8 250.1,128.8 250.35,128.8 250.6,128.81 250.86,128.81 251.11,128.81 251.37,128.81 251.62,128.81 251.88,128.81 252.13,128.82 252.38,128.82 252.64,128.82 252.89,128.82 253.15,128.82 253.4,128.82 253.66,128.83 253.91,128.83 254.16,128.83 254.42,128.83 254.67,128.83 254.93,128.83 255.18,128.83 255.43,128.84 255.69,128.84 255.94,128.84 256.2,128.84 256.45,128.84 256.71,128.84 256.96,128.85 257.21,128.85 257.47,128.85 257.72,128.85 257.98,128.85 258.23,128.85 258.49,128.86 258.74,128.86 258.99,128.86 259.25,128.86 259.5,128.86 259.76,128.86 260.01,128.86 260.26,128.87 260.52,128.87 260.77,128.87 261.03,128.87 261.28,128.87 261.54,128.87 261.79,128.87 262.04,128.88 262.3,128.88 262.55,128.88 262.81,128.88 263.06,128.88 263.32,128.88 263.57,128.89 263.82,128.89 264.08,128.89 264.33,128.89 264.59,128.89 264.84,128.89 265.1,128.89 265.35,128.9 265.6,128.9 265.86,128.9 266.11,128.9 266.37,128.9 266.62,128.9 266.87,128.9 267.13,128.91 267.38,128.91 267.64,128.91 267.89,128.91 268.15,128.91 268.4,128.91"/>
<polyline stroke="#902090" points="39.6,143.2 39.85,143.2 40.11,143.2 40.36,143.2 40.62,143.2 40.87,143.2 41.13,143.19 41.38,143.19 41.63,143.19 41.89,143.19 42.14,143.19 42.4,143.19 42.65,143.19 42.9,143.19 43.16,143.19 43.41,143.19 43.67,143.19 43.92,143.19 44.18,143.19 44.43,143.18 44.68,143.18 44.94,143.18 45.19,143.18 45.45,143.18 45.7,143.18 45.96,143.18 46.21,143.18 46.46,143.18 46.72,143.18 46.97,143.18 47.23,143.18 47.48,143.18 47.74,143.17 47.99,143.17 48.24,143.17 48.5,143.17 48.75,143.17 49.01,143.17 49.26,143.17 49.51,143.17 49.77,143.17 50.02,143.17 50.28,143.17 50.53,143.17 50.79,143.17 51.04,143.16 51.29,143.16 51.55,143.16 51.8,143.16 52.06,143.16 52.31,143.16 52.57,143.16 52.82,143.16 53.07,143.16 53.33,143.16 53.58,143.16 53.84,143.16 54.09,143.15 54.34,143.15 54.6,143.15 54.85,143.15 55.11,143.15 55.36,143.15 55.62,143.15 55.87,143.15 56.12,143.15 56.38,143.15 56.63,143.15 56.89,143.15 57.14,143.15 57.4,143.14 57.65,143.14 57.9,143.14 58.16,143.14 58.41,143.14 58.67,143.14 58.92,143.14 59.18,143.14 59.43,143.14 59.68,143.14 59.94,143.14 60.19,143.14 60.45,143.14 60.7,143.13 60.95,143.13 61.21,143.13 61.46,143.13 61.72,143.13 61.97,143.13 62.23,143.13 62.48,143.13 62.73,143.13 62.99,143.13 63.24,143.13 63.5,143.13 63.75,143.13 64.01,143.12 64.26,143.12 64.51,143.12 64.77,143.12 65.02,143.12 65.28,143.12 65.53,143.12 65.78,143.12 66.04,143.12 66.29,143.12 66.55,143.12 66.8,143.12 67.06,143.11 67.31,143.11 67.56,143.11 67.82,143.11 68.07,143.11 68.33,143.11 68.58,143.11 68.84,143.11 69.09,143.11 69.34,143.11 69.6,143.11 69.85,143.11 70.11,143.11 70.36,143.1 70.62,143.1 70.87,143.1 71.12,143.1 71.38,143.1 71.63,143.1 71.89,143.1 72.14,143.1 72.39,143.1 72.65,143.1 72.9,143.1 73.16,143.1 73.41,143.1 73.67,143.09 73.92,143.09 74.17,143.09 74.43,143.09 74.68,143.09 74.94,143.09 75.19,143.09 75.45,143.09 75.7,143.09 75.95,143.09 76.21,143.09 76.46,143.09 76.72,143.08 76.97,143.08 77.22,143.08 77.48,143.08 77.73,143.08 77.99,143.08 78.24,143.08 78.5,143.08 78.75,143.08 79,143.08 79.26,143.08 79.51,143.08 79.77,143.08 80.02,143.07 80.28,143.07 80.53,143.07 80.78,143.07 81.04,143.07 81.29,143.07 81.55,143.07 81.8,143.07 82.06,143.07 82.31,143.07 82.56,143.07 82.82,143.07 83.07,143.07 83.33,143.06 83.58,143.06 83.83,143.06 84.09,143.06 84.34,143.06 84.6,143.06 84.85,143.06 85.11,143.06 85.36,143.06 85.61,143.06 85.87,143.06 86.12,143.06 86.38,143.05 86.63,143.05 86.89,143.05 87.14,143.05 87.39,143.05 87.65,143.05 87.9,143.05 88.16,143.05 88.41,143.05 88.66,143.05 88.92,143.05 89.17,143.05 89.43,143.04 89.68,143.04 89.94,143.04 90.19,143.04 90.44,143.04 90.7,143.04 90.95,143.04 91.21,143.04 91.46,143.04 91.72,143.04 91.97,143.03 92.22,143.03 92.48,143.03 92.73,143.03 92.99,143.03 93.24,143.03 93.5,143.03 93.75,143.03 94,143.02 94.26,143.02 94.51,143.02 94.77,143.02 95.02,143.02 95.27,143.02 95.53,143.01 95.78,143.01 96.04,143.01 96.29,143.01 96.55,143 96.8,143 97.05,143 97.31,142.99 97.56,142.99 97.82,142.99 98.07,142.98 98.33,142.98 98.58,142.98 98.83,142.97 99.09,142.97 99.34,142.96 99.6,142.96 99.85,142.95 100.1,142.94 100.36,142.94 100.61,142.93 100.87,142.92 101.12,142.91 101.38,142.9 101.63,142.9 101.88,142.89 102.14,142.87 102.39,142.86 102.65,142.85 102.9,142.84 103.16,142.83 103.41,142.81 103.66,142.8 103.92,142.78 104.17,142.77 104.43,142.75 104.68,142.73 104.94,142.71 105.19,142.7 105.44,142.67 105.7,142.65 105.95,142.63 106.21,142.61 106.46,142.59 106.71,142.56 106.97,142.53 107.22,142.51 107.48,142.48 107.73,142.45 107.99,142.42 108.24,142.39 108.49,142.36 108.75,142.33 109,142.3 109.26,142.27 109.51,142.23 109.77,142.2 110.02,142.16 110.27,142.13 110.53,142.09 110.78,142.05 111.04,142.02 111.29,141.98 111.54,141.94 111.8,141.9 112.05,141.86 112.31,141.83 112.56,141.79 112.82,141.75 113.07,141.71 113.32,141.67 113.58,141.63 113.83,141.6 114.09,141.56 114.34,141.52 114.6,141.49 114.85,141.45 115.1,141.41 115.36,141.38 115.61,141.34 115.87,141.31 116.12,141.27 116.38,141.24 116.63,141.2 116.88,141.17 117.14,141.13 117.39,141.09 117.65,141.05 117.9,140.99 118.15,140.91 118.41,140.75 118.66,140.42 118.92,139.71 119.17,138.31 119.43,135.91 119.68,132.38 119.93,127.99 120.19,123.5 120.44,121.16 120.7,123.51 120.95,128.01 121.21,132.41 121.46,135.94 121.71,138.35 121.97,139.75 122.22,140.45 122.48,140.78 122.73,140.93 122.98,141 123.24,141.05 123.49,141.08 123.75,141.1 124,141.13 124.26,141.14 124.51,141.16 124.76,141.17 125.02,141.19 125.27,141.2 125.53,141.21 125.78,141.22 126.04,141.23 126.29,141.23 126.54,141.24 126.8,141.25 127.05,141.26 127.31,141.26 127.56,141.27 127.82,141.27 128.07,141.28 128.32,141.29 128.58,141.29 128.83,141.3 129.09,141.3 129.34,141.31 129.59,141.31 129.85,141.32 130.1,141.32 130.36,141.33 130.61,141.33 130.87,141.33 131.12,141.34 131.37,141.34 131.63,141.35 131.88,141.35 132.14,141.35 132.39,141.36 132.65,141.36 132.9,141.36 133.15,141.37 133.41,141.37 133.66,141.37 133.92,141.38 134.17,141.38 134.42,141.38 134.68,141.38 134.93,141.38 135.19,141.39 135.44,141.39 135.7,141.39 135.95,141.39 136.2,141.39 136.46,141.38 136.71,141.38 136.97,141.38 137.22,141.37 137.48,141.36 137.73,141.34 137.98,141.32 138.24,141.28 138.49,141.24 138.75,141.19 139,141.11 139.26,141.03 139.51,140.92 139.76,140.79 140.02,140.64 140.27,140.46 140.53,140.27 140.78,140.06 141.03,139.85 141.29,139.64 141.54,139.48 141.8,139.4 142.05,139.42 142.31,139.53 142.56,139.67 142.81,139.81 143.07,139.93 143.32,140.02 143.58,140.06 143.83,140.06 144.09,140.03 144.34,139.95 144.59,139.84 144.85,139.71 145.1,139.57 145.36,139.47 145.61,139.45 145.86,139.54 146.12,139.71 146.37,139.92 146.63,140.15 146.88,140.36 147.14,140.56 147.39,140.74 147.64,140.9 147.9,141.04 148.15,141.15 148.41,141.25 148.66,141.33 148.92,141.39 149.17,141.44 149.42,141.48 149.68,141.51 149.93,141.53 150.19,141.55 150.44,141.57 150.7,141.58 150.95,141.59 151.2,141.6 151.46,141.61 151.71,141.62 151.97,141.62 152.22,141.63 152.47,141.64 152.73,141.64 152.98,141.65 153.24,141.65 153.49,141.66 153.75,141.66 154,141.67 154.25,141.67 154.51,141.68 154.76,141.68 155.02,141.68 155.27,141.69 155.53,141.69 155.78,141.7 156.03,141.7 156.29,141.7 156.54,141.71 156.8,141.71 157.05,141.71 157.3,141.72 157.56,141.72 157.81,141.72 158.07,141.73 158.32,141.73 158.58,141.73 158.83,141.73 159.08,141.74 159.34,141.74 159.59,141.74 159.85,141.75 160.1,141.75 160.36,141.75 160.61,141.75 160.86,141.76 161.12,141.76 161.37,141.76 161.63,141.76 161.88,141.76 162.14,141.76 162.39,141.77 162.64,141.77 162.9,141.77 163.15,141.77 163.41,141.77 163.66,141.77 163.91,141.77 164.17,141.77 164.42,141.77 164.68,141.76 164.93,141.76 165.19,141.76 165.44,141.75 165.69,141.74 165.95,141.73 166.2,141.7 166.46,141.66 166.71,141.58 166.97,141.4 167.22,141.04 167.47,140.37 167.73,139.29 167.98,137.76 168.24,135.84 168.49,133.77 168.74,132.12 169,132.12 169.25,133.78 169.51,135.86 169.76,137.78 170.02,139.32 170.27,140.4 170.52,141.07 170.78,141.44 171.03,141.62 171.29,141.71 171.54,141.76 171.8,141.78 172.05,141.8 172.3,141.82 172.56,141.83 172.81,141.84 173.07,141.85 173.32,141.85 173.58,141.86 173.83,141.87 174.08,141.87 174.34,141.88 174.59,141.88 174.85,141.89 175.1,141.89 175.35,141.89 175.61,141.9 175.86,141.9 176.12,141.9 176.37,141.91 176.63,141.91 176.88,141.91 177.13,141.92 177.39,141.92 177.64,141.92 177.9,141.92 178.15,141.93 178.41,141.93 178.66,141.93 178.91,141.93 179.17,141.94 179.42,141.94 179.68,141.94 179.93,141.94 180.18,141.95 180.44,141.95 180.69,141.95 180.95,141.95 181.2,141.96 181.46,141.96 181.71,141.96 181.96,141.96 182.22,141.96 182.47,141.97 182.73,141.97 182.98,141.97 183.24,141.97 183.49,141.97 183.74,141.98 184,141.98 184.25,141.98 184.51,141.98 184.76,141.98 185.02,141.99 185.27,141.99 185.52,141.99 185.78,141.99 186.03,141.99 186.29,141.99 186.54,142 186.79,142 187.05,142 187.3,142 187.56,142 187.81,142.01 188.07,142.01 188.32,142.01 188.57,142.01 188.83,142.01 189.08,142.01 189.34,142.02 189.59,142.02 189.85,142.02 190.1,142.02 190.35,142.02 190.61,142.02 190.86,142.03 191.12,142.03 191.37,142.03 191.62,142.03 191.88,142.03 192.13,142.03 192.39,142.04 192.64,142.04 192.9,142.04 193.15,142.04 193.4,142.04 193.66,142.04 193.91,142.05 194.17,142.05 194.42,142.05 194.68,142.05 194.93,142.05 195.18,142.05 195.44,142.05 195.69,142.06 195.95,142.06 196.2,142.06 196.46,142.06 196.71,142.06 196.96,142.06 197.22,142.06 197.47,142.07 197.73,142.07 197.98,142.07 198.23,142.07 198.49,142.07 198.74,142.07 199,142.07 199.25,142.08 199.51,142.08 199.76,142.08 200.01,142.08 200.27,142.08 200.52,142.08 200.78,142.08 201.03,142.08 201.29,142.09 201.54,142.09 201.79,142.09 202.05,142.09 202.3,142.09 202.56,142.09 202.81,142.09 203.06,142.09 203.32,142.1 203.57,142.1 203.83,142.1 204.08,142.1 204.34,142.1 204.59,142.1 204.84,142.1 205.1,142.1 205.35,142.11 205.61,142.11 205.86,142.11 206.12,142.11 206.37,142.11 206.62,142.11 206.88,142.11 207.13,142.11 207.39,142.12 207.64,142.12 207.9,142.12 208.15,142.12 208.4,142.12 208.66,142.12 208.91,142.12 209.17,142.12 209.42,142.12 209.67,142.13 209.93,142.13 210.18,142.13 210.44,142.13 210.69,142.13 210.95,142.13 211.2,142.13 211.45,142.13 211.71,142.13 211.96,142.13 212.22,142.14 212.47,142.14 212.73,142.14 212.98,142.14 213.23,142.14 213.49,142.14 213.74,142.14 214,142.14 214.25,142.14 214.5,142.14 214.76,142.15 215.01,142.15 215.27,142.15 215.52,142.15 215.78,142.15 216.03,142.15 216.28,142.15 216.54,142.15 216.79,142.15 217.05,142.15 217.3,142.15 217.56,142.16 217.81,142.16 218.06,142.16 218.32,142.16 218.57,142.16 218.83,142.16 219.08,142.16 219.34,142.16 219.59,142.16 219.84,142.16 220.1,142.16 220.35,142.17 220.61,142.17 220.86,142.17 221.11,142.17 221.37,142.17 221.62,142.17 221.88,142.17 222.13,142.17 222.39,142.17 222.64,142.17 222.89,142.17 223.15,142.17 223.4,142.17 223.66,142.18 223.91,142.18 224.17,142.18 224.42,142.18 224.67,142.18 224.93,142.18 225.18,142.18 225.44,142.18 225.69,142.18 225.94,142.18 226.2,142.18 226.45,142.18 226.71,142.18 226.96,142.19 227.22,142.19 227.47,142.19 227.72,142.19 227.98,142.19 228.23,142.19 228.49,142.19 228.74,142.19 229,142.19 229.25,142.19 229.5,142.19 229.76,142.19 230.01,142.19 230.27,142.19 230.52,142.19 230.78,142.19 231.03,142.2 231.28,142.2 231.54,142.2 231.79,142.2 232.05,142.2 232.3,142.2 232.55,142.2 232.81,142.2 233.06,142.2 233.32,142.2 233.57,142.2 233.83,142.2 234.08,142.2 234.33,142.2 234.59,142.2 234.84,142.2 235.1,142.2 235.35,142.21 235.61,142.21 235.86,142.21 236.11,142.21 236.37,142.21 236.62,142.21 236.88,142.21 237.13,142.21 237.38,142.21 237.64,142.21 237.89,142.21 238.15,142.21 238.4,142.21 238.66,142.21 238.91,142.21 239.16,142.21 239.42,142.21 239.67,142.21 239.93,142.21 240.18,142.21 240.44,142.22 240.69,142.22 240.94,142.22 241.2,142.22 241.45,142.22 241.71,142.22 241.96,142.22 242.22,142.22 242.47,142.22 242.72,142.22 242.98,142.22 243.23,142.22 243.49,142.22 243.74,142.22 243.99,142.22 244.25,142.22 244.5,142.22 244.76,142.22 245.01,142.22 245.27,142.22 245.52,142.22 245.77,142.22 246.03,142.22 246.28,142.22 246.54,142.23 246.79,142.23 247.05,142.23 247.3,142.23 247.55,142.23 247.81,142.23 248.06,142.23 248.32,142.23 248.57,142.23 248.82,142.23 249.08,142.23 249.33,142.23 249.59,142.23 249.84,142.23 250.1,142.23 250.35,142.23 250.6,142.23 250.86,142.23 251.11,142.23 251.37,142.23 251.62,142.23 251.88,142.23 252.13,142.23 252.38,142.23 252.64,142.23 252.89,142.23 253.15,142.23 253.4,142.23 253.66,142.23 253.91,142.23 254.16,142.23 254.42,142.23 254.67,142.23 254.93,142.24 255.18,142.24 255.43,142.24 255.69,142.24 255.94,142.24 256.2,142.24 256.45,142.24 256.71,142.24 256.96,142.24 257.21,142.24 257.47,142.24 257.72,142.24 257.98,142.24 258.23,142.24 258.49,142.24 258.74,142.24 258.99,142.24 259.25,142.24 259.5,142.24 259.76,142.24 260.01,142.24 260.26,142.24 260.52,142.24 260.77,142.24 261.03,142.24 261.28,142.24 261.54,142.24 261.79,142.24 262.04,142.24 262.3,142.24 262.55,142.24 262.81,142.24 263.06,142.24 263.32,142.24 263.57,142.24 263.82,142.24 264.08,142.24 264.33,142.24 264.59,142.24 264.84,142.24 265.1,142.24 265.35,142.24 265.6,142.24 265.86,142.24 266.11,142.24 266.37,142.24 266.62,142.24 266.87,142.24 267.13,142.24 267.38,142.24 267.64,142.24 267.89,142.24 268.15,142.24 268.4,142.24"/>
<polyline stroke="#a02828" points="39.6,157.9 39.85,157.9 40.11,157.9 40.36,157.9 40.62,157.9 40.87,157.9 41.13,157.9 41.38,157.9 41.63,157.9 41.89,157.9 42.14,157.9 42.4,157.9 42.65,157.9 42.9,157.9 43.16,157.9 43.41,157.9 43.67,157.9 43.92,157.9 44.18,157.91 44.43,157.91 44.68,157.91 44.94,157.91 45.19,157.91 45.45,157.91 45.7,157.91 45.96,157.91 46.21,157.91 46.46,157.91 46.72,157.91 46.97,157.91 47.23,157.91 47.48,157.91 47.74,157.91 47.99,157.91 48.24,157.91 48.5,157.91 48.75,157.91 49.01,157.91 49.26,157.91 49.51,157.91 49.77,157.91 50.02,157.91 50.28,157.91 50.53,157.91 50.79,157.91 51.04,157.91 51.29,157.91 51.55,157.91 51.8,157.91 52.06,157.92 52.31,157.92 52.57,157.92 52.82,157.92 53.07,157.92 53.33,157.92 53.58,157.92 53.84,157.92 54.09,157.92 54.34,157.92 54.6,157.92 54.85,157.92 55.11,157.92 55.36,157.92 55.62,157.92 55.87,157.92 56.12,157.92 56.38,157.92 56.63,157.92 56.89,157.92 57.14,157.92 57.4,157.92 57.65,157.92 57.9,157.92 58.16,157.92 58.41,157.92 58.67,157.92 58.92,157.92 59.18,157.92 59.43,157.92 59.68,157.93 59.94,157.93 60.19,157.93 60.45,157.93 60.7,157.93 60.95,157.93 61.21,157.93 61.46,157.93 61.72,157.93 61.97,157.93 62.23,157.93 62.48,157.93 62.73,157.93 62.99,157.93 63.24,157.93 63.5,157.93 63.75,157.93 64.01,157.93 64.26,157.93 64.51,157.93 64.77,157.93 65.02,157.93 65.28,157.93 65.53,157.93 65.78,157.93 66.04,157.93 66.29,157.93 66.55,157.93 66.8,157.93 67.06,157.93 67.31,157.93 67.56,157.94 67.82,157.94 68.07,157.94 68.33,157.94 68.58,157.94 68.84,157.94 69.09,157.94 69.34,157.94 69.6,157.94 69.85,157.94 70.11,157.94 70.36,157.94 70.62,157.94 70.87,157.94 71.12,157.94 71.38,157.94 71.63,157.94 71.89,157.94 72.14,157.94 72.39,157.94 72.65,157.94 72.9,157.94 73.16,157.94 73.41,157.94 73.67,157.94 73.92,157.94 74.17,157.94 74.43,157.94 74.68,157.94 74.94,157.94 75.19,157.94 75.45,157.94 75.7,157.95 75.95,157.95 76.21,157.95 76.46,157.95 76.72,157.95 76.97,157.95 77.22,157.95 77.48,157.95 77.73,157.95 77.99,157.95 78.24,157.95 78.5,157.95 78.75,157.95 79,157.95 79.26,157.95 79.51,157.95 79.77,157.95 80.02,157.95 80.28,157.95 80.53,157.95 80.78,157.95 81.04,157.95 81.29,157.95 81.55,157.95 81.8,157.95 82.06,157.95 82.31,157.95 82.56,157.95 82.82,157.95 83.07,157.95 83.33,157.95 83.58,157.95 83.83,157.96 84.09,157.96 84.34,157.96 84.6,157.96 84.85,157.96 85.11,157.96 85.36,157.96 85.61,157.96 85.87,157.96 86.12,157.96 86.38,157.96 86.63,157.96 86.89,157.96 87.14,157.96 87.39,157.96 87.65,157.96 87.9,157.96 88.16,157.96 88.41,157.96 88.66,157.96 88.92,157.96 89.17,157.96 89.43,157.96 89.68,157.96 89.94,157.96 90.19,157.96 90.44,157.96 90.7,157.96 90.95,157.96 91.21,157.96 91.46,157.96 91.72,157.96 91.97,157.96 92.22,157.96 92.48,157.96 92.73,157.96 92.99,157.96 93.24,157.96 93.5,157.96 93.75,157.96 94,157.95 94.26,157.95 94.51,157.95 94.77,157.95 95.02,157.95 95.27,157.95 95.53,157.95 95.78,157.94 96.04,157.94 96.29,157.94 96.55,157.94 96.8,157.93 97.05,157.93 97.31,157.92 97.56,157.92 97.82,157.92 98.07,157.91 98.33,157.9 98.58,157.9 98.83,157.89 99.09,157.89 99.34,157.88 99.6,157.87 99.85,157.86 100.1,157.85 100.36,157.84 100.61,157.83 100.87,157.82 101.12,157.8 101.38,157.79 101.63,157.78 101.88,157.76 102.14,157.74 102.39,157.73 102.65,157.71 102.9,157.69 103.16,157.67 103.41,157.64 103.66,157.62 103.92,157.6 104.17,157.57 104.43,157.54 104.68,157.51 104.94,157.48 105.19,157.45 105.44,157.42 105.7,157.38 105.95,157.35 106.21,157.31 106.46,157.27 106.71,157.23 106.97,157.19 107.22,157.15 107.48,157.1 107.73,157.06 107.99,157.01 108.24,156.96 108.49,156.91 108.75,156.86 109,156.81 109.26,156.76 109.51,156.7 109.77,156.65 110.02,156.59 110.27,156.53 110.53,156.48 110.78,156.42 111.04,156.36 111.29,156.3 111.54,156.24 111.8,156.18 112.05,156.12 112.31,156.06 112.56,156.01 112.82,155.95 113.07,155.89 113.32,155.83 113.58,155.77 113.83,155.72 114.09,155.66 114.34,155.61 114.6,155.56 114.85,155.5 115.1,155.45 115.36,155.4 115.61,155.36 115.87,155.31 116.12,155.26 116.38,155.22 116.63,155.18 116.88,155.13 117.14,155.09 117.39,155.04 117.65,154.98 117.9,154.89 118.15,154.72 118.41,154.36 118.66,153.62 118.92,152.26 119.17,150.1 119.43,147.2 119.68,143.88 119.93,141.09 120.19,141.09 120.44,143.9 120.7,147.24 120.95,150.16 121.21,152.32 121.46,153.69 121.71,154.42 121.97,154.78 122.22,154.94 122.48,155.02 122.73,155.07 122.98,155.1 123.24,155.13 123.49,155.15 123.75,155.17 124,155.19 124.26,155.2 124.51,155.22 124.76,155.23 125.02,155.24 125.27,155.25 125.53,155.26 125.78,155.27 126.04,155.28 126.29,155.29 126.54,155.3 126.8,155.31 127.05,155.31 127.31,155.32 127.56,155.33 127.82,155.33 128.07,155.34 128.32,155.34 128.58,155.34 128.83,155.34 129.09,155.34 129.34,155.33 129.59,155.33 129.85,155.31 130.1,155.3 130.36,155.28 130.61,155.25 130.87,155.22 131.12,155.17 131.37,155.12 131.63,155.07 131.88,155 132.14,154.92 132.39,154.82 132.65,154.72 132.9,154.61 133.15,154.48 133.41,154.34 133.66,154.2 133.92,154.04 134.17,153.87 134.42,153.7 134.68,153.54 134.93,153.38 135.19,153.26 135.44,153.18 135.7,153.15 135.95,153.19 136.2,153.28 136.46,153.42 136.71,153.59 136.97,153.76 137.22,153.94 137.48,154.11 137.73,154.28 137.98,154.43 138.24,154.57 138.49,154.69 138.75,154.8 139,154.88 139.26,154.95 139.51,154.98 139.76,155 140.02,154.98 140.27,154.94 140.53,154.87 140.78,154.77 141.03,154.64 141.29,154.49 141.54,154.31 141.8,154.13 142.05,153.96 142.31,153.83 142.56,153.8 142.81,153.87 143.07,154.03 143.32,154.24 143.58,154.47 143.83,154.68 144.09,154.88 144.34,155.07 144.59,155.23 144.85,155.37 145.1,155.49 145.36,155.59 145.61,155.67 145.86,155.73 146.12,155.79 146.37,155.83 146.63,155.87 146.88,155.89 147.14,155.92 147.39,155.94 147.64,155.95 147.9,155.97 148.15,155.98 148.41,155.99 148.66,156 148.92,156.01 149.17,156.02 149.42,156.04 149.68,156.04 149.93,156.05 150.19,156.06 150.44,156.07 150.7,156.08 150.95,156.09 151.2,156.1 151.46,156.11 151.71,156.11 151.97,156.12 152.22,156.13 152.47,156.14 152.73,156.15 152.98,156.15 153.24,156.16 153.49,156.17 153.75,156.18 154,156.18 154.25,156.19 154.51,156.2 154.76,156.2 155.02,156.21 155.27,156.22 155.53,156.22 155.78,156.23 156.03,156.24 156.29,156.25 156.54,156.25 156.8,156.26 157.05,156.26 157.3,156.27 157.56,156.28 157.81,156.28 158.07,156.29 158.32,156.3 158.58,156.3 158.83,156.31 159.08,156.31 159.34,156.32 159.59,156.33 159.85,156.33 160.1,156.34 160.36,156.34 160.61,156.35 160.86,156.36 161.12,156.36 161.37,156.37 161.63,156.37 161.88,156.38 162.14,156.38 162.39,156.39 162.64,156.39 162.9,156.4 163.15,156.4 163.41,156.4 163.66,156.41 163.91,156.41 164.17,156.41 164.42,156.41 164.68,156.42 164.93,156.42 165.19,156.41 165.44,156.41 165.69,156.4 165.95,156.39 166.2,156.35 166.46,156.27 166.71,156.09 166.97,155.74 167.22,155.15 167.47,154.23 167.73,153.02 167.98,151.6 168.24,150.22 168.49,149.54 168.74,150.23 169,151.62 169.25,153.05 169.51,154.28 169.76,155.2 170.02,155.81 170.27,156.17 170.52,156.35 170.78,156.45 171.03,156.5 171.29,156.52 171.54,156.54 171.8,156.56 172.05,156.57 172.3,156.58 172.56,156.59 172.81,156.6 173.07,156.61 173.32,156.62 173.58,156.62 173.83,156.63 174.08,156.64 174.34,156.65 174.59,156.65 174.85,156.66 175.1,156.66 175.35,156.67 175.61,156.68 175.86,156.68 176.12,156.69 176.37,156.69 176.63,156.7 176.88,156.7 177.13,156.71 177.39,156.72 177.64,156.72 177.9,156.73 178.15,156.73 178.41,156.74 178.66,156.74 178.91,156.75 179.17,156.75 179.42,156.76 179.68,156.76 179.93,156.77 180.18,156.77 180.44,156.78 180.69,156.78 180.95,156.79 181.2,156.79 181.46,156.8 181.71,156.8 181.96,156.81 182.22,156.81 182.47,156.81 182.73,156.82 182.98,156.82 183.24,156.83 183.49,156.83 183.74,156.84 184,156.84 184.25,156.85 184.51,156.85 184.76,156.86 185.02,156.86 185.27,156.87 185.52,156.87 185.78,156.87 186.03,156.88 186.29,156.88 186.54,156.89 186.79,156.89 187.05,156.9 187.3,156.9 187.56,156.9 187.81,156.91 188.07,156.91 188.32,156.92 188.57,156.92 188.83,156.93 189.08,156.93 189.34,156.93 189.59,156.94 189.85,156.94 190.1,156.95 190.35,156.95 190.61,156.96 190.86,156.96 191.12,156.96 191.37,156.97 191.62,156.97 191.88,156.98 192.13,156.98 192.39,156.98 192.64,156.99 192.9,156.99 193.15,157 193.4,157 193.66,157.01 193.91,157.01 194.17,157.01 194.42,157.02 194.68,157.02 194.93,157.03 195.18,157.03 195.44,157.03 195.69,157.04 195.95,157.04 196.2,157.04 196.46,157.05 196.71,157.05 196.96,157.06 197.22,157.06 197.47,157.06 197.73,157.07 197.98,157.07 198.23,157.08 198.49,157.08 198.74,157.08 199,157.09 199.25,157.09 199.51,157.09 199.76,157.1 200.01,157.1 200.27,157.11 200.52,157.11 200.78,157.11 201.03,157.12 201.29,157.12 201.54,157.12 201.79,157.13 202.05,157.13 202.3,157.13 202.56,157.14 202.81,157.14 203.06,157.15 203.32,157.15 203.57,157.15 203.83,157.16 204.08,157.16 204.34,157.16 204.59,157.17 204.84,157.17 205.1,157.17 205.35,157.18 205.61,157.18 205.86,157.18 206.12,157.19 206.37,157.19 206.62,157.19 206.88,157.2 207.13,157.2 207.39,157.2 207.64,157.21 207.9,157.21 208.15,157.21 208.4,157.22 208.66,157.22 208.91,157.22 209.17,157.23 209.42,157.23 209.67,157.23 209.93,157.24 210.18,157.24 210.44,157.24 210.69,157.25 210.95,157.25 211.2,157.25 211.45,157.26 211.71,157.26 211.96,157.26 212.22,157.27 212.47,157.27 212.73,157.27 212.98,157.28 213.23,157.28 213.49,157.28 213.74,157.29 214,157.29 214.25,157.29 214.5,157.3 214.76,157.3 215.01,157.3 215.27,157.31 215.52,157.31 215.78,157.31 216.03,157.31 216.28,157.32 216.54,157.32 216.79,157.32 217.05,157.33 217.3,157.33 217.56,157.33 217.81,157.34 218.06,157.34 218.32,157.34 218.57,157.34 218.83,157.35 219.08,157.35 219.34,157.35 219.59,157.36 219.84,157.36 220.1,157.36 220.35,157.37 220.61,157.37 220.86,157.37 221.11,157.37 221.37,157.38 221.62,157.38 221.88,157.38 222.13,157.39 222.39,157.39 222.64,157.39 222.89,157.39 223.15,157.4 223.4,157.4 223.66,157.4 223.91,157.4 224.17,157.41 224.42,157.41 224.67,157.41 224.93,157.42 225.18,157.42 225.44,157.42 225.69,157.42 225.94,157.43 226.2,157.43 226.45,157.43 226.71,157.44 226.96,157.44 227.22,157.44 227.47,157.44 227.72,157.45 227.98,157.45 228.23,157.45 228.49,157.45 228.74,157.46 229,157.46 229.25,157.46 229.5,157.46 229.76,157.47 230.01,157.47 230.27,157.47 230.52,157.47 230.78,157.48 231.03,157.48 231.28,157.48 231.54,157.49 231.79,157.49 232.05,157.49 232.3,157.49 232.55,157.5 232.81,157.5 233.06,157.5 233.32,157.5 233.57,157.51 233.83,157.51 234.08,157.51 234.33,157.51 234.59,157.52 234.84,157.52 235.1,157.52 235.35,157.52 235.61,157.53 235.86,157.53 236.11,157.53 236.37,157.53 236.62,157.53 236.88,157.54 237.13,157.54 237.38,157.54 237.64,157.54 237.89,157.55 238.15,157.55 238.4,157.55 238.66,157.55 238.91,157.56 239.16,157.56 239.42,157.56 239.67,157.56 239.93,157.57 240.18,157.57 240.44,157.57 240.69,157.57 240.94,157.57 241.2,157.58 241.45,157.58 241.71,157.58 241.96,157.58 242.22,157.59 242.47,157.59 242.72,157.59 242.98,157.59 243.23,157.6 243.49,157.6 243.74,157.6 243.99,157.6 244.25,157.6 244.5,157.61 244.76,157.61 245.01,157.61 245.27,157.61 245.52,157.62 245.77,157.62 246.03,157.62 246.28,157.62 246.54,157.62 246.79,157.63 247.05,157.63 247.3,157.63 247.55,157.63 247.81,157.63 248.06,157.64 248.32,157.64 248.57,157.64 248.82,157.64 249.08,157.65 249.33,157.65 249.59,157.65 249.84,157.65 250.1,157.65 250.35,157.66 250.6,157.66 250.86,157.66 251.11,157.66 251.37,157.66 251.62,157.67 251.88,157.67 252.13,157.67 252.38,157.67 252.64,157.67 252.89,157.68 253.15,157.68 253.4,157.68 253.66,157.68 253.91,157.68 254.16,157.69 254.42,157.69 254.67,157.69 254.93,157.69 255.18,157.69 255.43,157.7 255.69,157.7 255.94,157.7 256.2,157.7 256.45,157.7 256.71,157.71 256.96,157.71 257.21,157.71 257.47,157.71 257.72,157.71 257.98,157.72 258.23,157.72 258.49,157.72 258.74,157.72 258.99,157.72 259.25,157.72 259.5,157.73 259.76,157.73 260.01,157.73 260.26,157.73 260.52,157.73 260.77,157.74 261.03,157.74 261.28,157.74 261.54,157.74 261.79,157.74 262.04,157.74 262.3,157.75 262.55,157.75 262.81,157.75 263.06,157.75 263.32,157.75 263.57,157.76 263.82,157.76 264.08,157.76 264.33,157.76 264.59,157.76 264.84,157.76 265.1,157.77 265.35,157.77 265.6,157.77 265.86,157.77 266.11,157.77 266.37,157.78 266.62,157.78 266.87,157.78 267.13,157.78 267.38,157.78 267.64,157.78 267.89,157.79 268.15,157.79 268.4,157.79"/>
<polyline stroke="#9a9a20" points="39.6,172.4 39.85,172.4 40.11,172.4 40.36,172.4 40.62,172.4 40.87,172.4 41.13,172.4 41.38,172.4 41.63,172.4 41.89,172.4 42.14,172.4 42.4,172.4 42.65,172.4 42.9,172.4 43.16,172.4 43.41,172.4 43.67,172.4 43.92,172.4 44.18,172.4 44.43,172.4 44.68,172.4 44.94,172.4 45.19,172.4 45.45,172.4 45.7,172.4 45.96,172.4 46.21,172.41 46.46,172.41 46.72,172.41 46.97,172.41 47.23,172.41 47.48,172.41 47.74,172.41 47.99,172.41 48.24,172.41 48.5,172.41 48.75,172.41 49.01,172.41 49.26,172.41 49.51,172.41 49.77,172.41 50.02,172.41 50.28,172.41 50.53,172.41 50.79,172.41 51.04,172.41 51.29,172.41 51.55,172.41 51.8,172.41 52.06,172.41 52.31,172.41 52.57,172.41 52.82,172.41 53.07,172.41 53.33,172.41 53.58,172.41 53.84,172.41 54.09,172.41 54.34,172.41 54.6,172.41 54.85,172.41 55.11,172.41 55.36,172.41 55.62,172.41 55.87,172.41 56.12,172.41 56.38,172.41 56.63,172.41 56.89,172.41 57.14,172.41 57.4,172.41 57.65,172.41 57.9,172.42 58.16,172.42 58.41,172.42 58.67,172.42 58.92,172.42 59.18,172.42 59.43,172.42 59.68,172.42 59.94,172.42 60.19,172.42 60.45,172.42 60.7,172.42 60.95,172.42 61.21,172.42 61.46,172.42 61.72,172.42 61.97,172.42 62.23,172.42 62.48,172.42 62.73,172.42 62.99,172.42 63.24,172.42 63.5,172.42 63.75,172.42 64.01,172.42 64.26,172.42 64.51,172.42 64.77,172.42 65.02,172.42 65.28,172.42 65.53,172.42 65.78,172.42 66.04,172.42 66.29,172.42 66.55,172.42 66.8,172.42 67.06,172.42 67.31,172.42 67.56,172.42 67.82,172.42 68.07,172.42 68.33,172.42 68.58,172.42 68.84,172.42 69.09,172.42 69.34,172.42 69.6,172.43 69.85,172.43 70.11,172.43 70.36,172.43 70.62,172.43 70.87,172.43 71.12,172.43 71.38,172.43 71.63,172.43 71.89,172.43 72.14,172.43 72.39,172.43 72.65,172.43 72.9,172.43 73.16,172.43 73.41,172.43 73.67,172.43 73.92,172.43 74.17,172.43 74.43,172.43 74.68,172.43 74.94,172.43 75.19,172.43 75.45,172.43 75.7,172.43 75.95,172.43 76.21,172.43 76.46,172.43 76.72,172.43 76.97,172.43 77.22,172.43 77.48,172.43 77.73,172.43 77.99,172.43 78.24,172.43 78.5,172.43 78.75,172.43 79,172.43 79.26,172.43 79.51,172.43 79.77,172.43 80.02,172.43 80.28,172.43 80.53,172.43 80.78,172.43 81.04,172.43 81.29,172.43 81.55,172.43 81.8,172.43 82.06,172.44 82.31,172.44 82.56,172.44 82.82,172.44 83.07,172.44 83.33,172.44 83.58,172.44 83.83,172.44 84.09,172.44 84.34,172.44 84.6,172.44 84.85,172.44 85.11,172.44 85.36,172.44 85.61,172.44 85.87,172.44 86.12,172.44 86.38,172.44 86.63,172.44 86.89,172.44 87.14,172.44 87.39,172.44 87.65,172.44 87.9,172.44 88.16,172.44 88.41,172.44 88.66,172.44 88.92,172.44 89.17,172.44 89.43,172.44 89.68,172.44 89.94,172.44 90.19,172.44 90.44,172.44 90.7,172.44 90.95,172.44 91.21,172.44 91.46,172.44 91.72,172.44 91.97,172.44 92.22,172.44 92.48,172.44 92.73,172.44 92.99,172.44 93.24,172.44 93.5,172.43 93.75,172.43 94,172.43 94.26,172.43 94.51,172.43 94.77,172.43 95.02,172.43 95.27,172.43 95.53,172.42 95.78,172.42 96.04,172.42 96.29,172.42 96.55,172.41 96.8,172.41 97.05,172.41 97.31,172.4 97.56,172.4 97.82,172.4 98.07,172.39 98.33,172.39 98.58,172.38 98.83,172.38 99.09,172.37 99.34,172.36 99.6,172.36 99.85,172.35 100.1,172.34 100.36,172.33 100.61,172.32 100.87,172.31 101.12,172.3 101.38,172.29 101.63,172.28 101.88,172.26 102.14,172.25 102.39,172.24 102.65,172.22 102.9,172.2 103.16,172.19 103.41,172.17 103.66,172.15 103.92,172.13 104.17,172.11 104.43,172.09 104.68,172.06 104.94,172.04 105.19,172.02 105.44,171.99 105.7,171.96 105.95,171.94 106.21,171.91 106.46,171.88 106.71,171.85 106.97,171.81 107.22,171.78 107.48,171.75 107.73,171.71 107.99,171.68 108.24,171.64 108.49,171.61 108.75,171.57 109,171.53 109.26,171.49 109.51,171.45 109.77,171.41 110.02,171.37 110.27,171.33 110.53,171.29 110.78,171.25 111.04,171.21 111.29,171.17 111.54,171.13 111.8,171.08 112.05,171.04 112.31,171 112.56,170.96 112.82,170.92 113.07,170.88 113.32,170.84 113.58,170.81 113.83,170.77 114.09,170.73 114.34,170.69 114.6,170.66 114.85,170.62 115.1,170.59 115.36,170.56 115.61,170.52 115.87,170.49 116.12,170.45 116.38,170.41 116.63,170.37 116.88,170.31 117.14,170.23 117.39,170.05 117.65,169.67 117.9,168.88 118.15,167.43 118.41,165.13 118.66,162.02 118.92,158.47 119.17,155.48 119.43,155.49 119.68,158.49 119.93,162.05 120.19,165.17 120.44,167.48 120.7,168.93 120.95,169.71 121.21,170.09 121.46,170.26 121.71,170.34 121.97,170.39 122.22,170.42 122.48,170.45 122.73,170.47 122.98,170.48 123.24,170.5 123.49,170.51 123.75,170.52 124,170.53 124.26,170.54 124.51,170.55 124.76,170.56 125.02,170.56 125.27,170.57 125.53,170.58 125.78,170.58 126.04,170.59 126.29,170.59 126.54,170.59 126.8,170.59 127.05,170.6 127.31,170.59 127.56,170.59 127.82,170.59 128.07,170.58 128.32,170.56 128.58,170.54 128.83,170.51 129.09,170.46 129.34,170.4 129.59,170.32 129.85,170.22 130.1,170.09 130.36,169.93 130.61,169.74 130.87,169.52 131.12,169.27 131.37,168.99 131.63,168.69 131.88,168.38 132.14,168.09 132.39,167.88 132.65,167.8 132.9,167.89 133.15,168.11 133.41,168.41 133.66,168.73 133.92,169.05 134.17,169.33 134.42,169.59 134.68,169.82 134.93,170.02 135.19,170.19 135.44,170.33 135.7,170.44 135.95,170.53 136.2,170.6 136.46,170.65 136.71,170.68 136.97,170.71 137.22,170.72 137.48,170.72 137.73,170.71 137.98,170.69 138.24,170.66 138.49,170.62 138.75,170.56 139,170.5 139.26,170.41 139.51,170.32 139.76,170.22 140.02,170.1 140.27,169.98 140.53,169.87 140.78,169.79 141.03,169.77 141.29,169.81 141.54,169.9 141.8,170.03 142.05,170.16 142.31,170.29 142.56,170.41 142.81,170.52 143.07,170.61 143.32,170.7 143.58,170.77 143.83,170.83 144.09,170.88 144.34,170.92 144.59,170.95 144.85,170.98 145.1,171 145.36,171.01 145.61,171.03 145.86,171.04 146.12,171.05 146.37,171.06 146.63,171.07 146.88,171.08 147.14,171.08 147.39,171.09 147.64,171.1 147.9,171.1 148.15,171.11 148.41,171.12 148.66,171.12 148.92,171.13 149.17,171.13 149.42,171.14 149.68,171.14 149.93,171.15 150.19,171.16 150.44,171.16 150.7,171.17 150.95,171.17 151.2,171.18 151.46,171.18 151.71,171.19 151.97,171.19 152.22,171.2 152.47,171.2 152.73,171.21 152.98,171.21 153.24,171.22 153.49,171.22 153.75,171.23 154,171.23 154.25,171.23 154.51,171.24 154.76,171.24 155.02,171.25 155.27,171.25 155.53,171.26 155.78,171.26 156.03,171.27 156.29,171.27 156.54,171.27 156.8,171.28 157.05,171.28 157.3,171.29 157.56,171.29 157.81,171.3 158.07,171.3 158.32,171.3 158.58,171.31 158.83,171.31 159.08,171.32 159.34,171.32 159.59,171.32 159.85,171.33 160.1,171.33 160.36,171.33 160.61,171.34 160.86,171.34 161.12,171.34 161.37,171.35 161.63,171.35 161.88,171.35 162.14,171.35 162.39,171.36 162.64,171.36 162.9,171.36 163.15,171.36 163.41,171.36 163.66,171.36 163.91,171.36 164.17,171.35 164.42,171.34 164.68,171.31 164.93,171.25 165.19,171.13 165.44,170.88 165.69,170.45 165.95,169.8 166.2,168.93 166.46,167.92 166.71,166.93 166.97,166.45 167.22,166.94 167.47,167.93 167.73,168.95 167.98,169.83 168.24,170.49 168.49,170.93 168.74,171.18 169,171.31 169.25,171.38 169.51,171.41 169.76,171.43 170.02,171.45 170.27,171.46 170.52,171.47 170.78,171.47 171.03,171.48 171.29,171.49 171.54,171.49 171.8,171.5 172.05,171.51 172.3,171.51 172.56,171.52 172.81,171.52 173.07,171.52 173.32,171.53 173.58,171.53 173.83,171.54 174.08,171.54 174.34,171.55 174.59,171.55 174.85,171.55 175.1,171.56 175.35,171.56 175.61,171.56 175.86,171.57 176.12,171.57 176.37,171.58 176.63,171.58 176.88,171.58 177.13,171.59 177.39,171.59 177.64,171.59 177.9,171.6 178.15,171.6 178.41,171.6 178.66,171.61 178.91,171.61 179.17,171.61 179.42,171.62 179.68,171.62 179.93,171.62 180.18,171.63 180.44,171.63 180.69,171.63 180.95,171.64 181.2,171.64 181.46,171.64 181.71,171.65 181.96,171.65 182.22,171.65 182.47,171.66 182.73,171.66 182.98,171.66 183.24,171.67 183.49,171.67 183.74,171.67 184,171.68 184.25,171.68 184.51,171.68 184.76,171.68 185.02,171.69 185.27,171.69 185.52,171.69 185.78,171.7 186.03,171.7 186.29,171.7 186.54,171.71 186.79,171.71 187.05,171.71 187.3,171.71 187.56,171.72 187.81,171.72 188.07,171.72 188.32,171.73 188.57,171.73 188.83,171.73 189.08,171.74 189.34,171.74 189.59,171.74 189.85,171.74 190.1,171.75 190.35,171.75 190.61,171.75 190.86,171.76 191.12,171.76 191.37,171.76 191.62,171.76 191.88,171.77 192.13,171.77 192.39,171.77 192.64,171.78 192.9,171.78 193.15,171.78 193.4,171.78 193.66,171.79 193.91,171.79 194.17,171.79 194.42,171.79 194.68,171.8 194.93,171.8 195.18,171.8 195.44,171.8 195.69,171.81 195.95,171.81 196.2,171.81 196.46,171.82 196.71,171.82 196.96,171.82 197.22,171.82 197.47,171.83 197.73,171.83 197.98,171.83 198.23,171.83 198.49,171.84 198.74,171.84 199,171.84 199.25,171.84 199.51,171.85 199.76,171.85 200.01,171.85 200.27,171.85 200.52,171.86 200.78,171.86 201.03,171.86 201.29,171.86 201.54,171.87 201.79,171.87 202.05,171.87 202.3,171.87 202.56,171.88 202.81,171.88 203.06,171.88 203.32,171.88 203.57,171.89 203.83,171.89 204.08,171.89 204.34,171.89 204.59,171.9 204.84,171.9 205.1,171.9 205.35,171.9 205.61,171.91 205.86,171.91 206.12,171.91 206.37,171.91 206.62,171.91 206.88,171.92 207.13,171.92 207.39,171.92 207.64,171.92 207.9,171.93 208.15,171.93 208.4,171.93 208.66,171.93 208.91,171.94 209.17,171.94 209.42,171.94 209.67,171.94 209.93,171.94 210.18,171.95 210.44,171.95 210.69,171.95 210.95,171.95 211.2,171.96 211.45,171.96 211.71,171.96 211.96,171.96 212.22,171.96 212.47,171.97 212.73,171.97 212.98,171.97 213.23,171.97 213.49,171.98 213.74,171.98 214,171.98 214.25,171.98 214.5,171.98 214.76,171.99 215.01,171.99 215.27,171.99 215.52,171.99 215.78,171.99 216.03,172 216.28,172 216.54,172 216.79,172 217.05,172 217.3,172.01 217.56,172.01 217.81,172.01 218.06,172.01 218.32,172.01 218.57,172.02 218.83,172.02 219.08,172.02 219.34,172.02 219.59,172.03 219.84,172.03 220.1,172.03 220.35,172.03 220.61,172.03 220.86,172.03 221.11,172.04 221.37,172.04 221.62,172.04 221.88,172.04 222.13,172.04 222.39,172.05 222.64,172.05 222.89,172.05 223.15,172.05 223.4,172.05 223.66,172.06 223.91,172.06 224.17,172.06 224.42,172.06 224.67,172.06 224.93,172.07 225.18,172.07 225.44,172.07 225.69,172.07 225.94,172.07 226.2,172.08 226.45,172.08 226.71,172.08 226.96,172.08 227.22,172.08 227.47,172.08 227.72,172.09 227.98,172.09 228.23,172.09 228.49,172.09 228.74,172.09 229,172.1 229.25,172.1 229.5,172.1 229.76,172.1 230.01,172.1 230.27,172.1 230.52,172.11 230.78,172.11 231.03,172.11 231.28,172.11 231.54,172.11 231.79,172.11 232.05,172.12 232.3,172.12 232.55,172.12 232.81,172.12 233.06,172.12 233.32,172.12 233.57,172.13 233.83,172.13 234.08,172.13 234.33,172.13 234.59,172.13 234.84,172.13 235.1,172.14 235.35,172.14 235.61,172.14 235.86,172.14 236.11,172.14 236.37,172.14 236.62,172.15 236.88,172.15 237.13,172.15 237.38,172.15 237.64,172.15 237.89,172.15 238.15,172.16 238.4,172.16 238.66,172.16 238.91,172.16 239.16,172.16 239.42,172.16 239.67,172.17 239.93,172.17 240.18,172.17 240.44,172.17 240.69,172.17 240.94,172.17 241.2,172.18 241.45,172.18 241.71,172.18 241.96,172.18 242.22,172.18 242.47,172.18 242.72,172.18 242.98,172.19 243.23,172.19 243.49,172.19 243.74,172.19 243.99,172.19 244.25,172.19 244.5,172.2 244.76,172.2 245.01,172.2 245.27,172.2 245.52,172.2 245.77,172.2 246.03,172.2 246.28,172.21 246.54,172.21 246.79,172.21 247.05,172.21 247.3,172.21 247.55,172.21 247.81,172.21 248.06,172.22 248.32,172.22 248.57,172.22 248.82,172.22 249.08,172.22 249.33,172.22 249.59,172.22 249.84,172.23 250.1,172.23 250.35,172.23 250.6,172.23 250.86,172.23 251.11,172.23 251.37,172.23 251.62,172.24 251.88,172.24 252.13,172.24 252.38,172.24 252.64,172.24 252.89,172.24 253.15,172.24 253.4,172.25 253.66,172.25 253.91,172.25 254.16,172.25 254.42,172.25 254.67,172.25 254.93,172.25 255.18,172.25 255.43,172.26 255.69,172.26 255.94,172.26 256.2,172.26 256.45,172.26 256.71,172.26 256.96,172.26 257.21,172.27 257.47,172.27 257.72,172.27 257.98,172.27 258.23,172.27 258.49,172.27 258.74,172.27 258.99,172.27 259.25,172.28 259.5,172.28 259.76,172.28 260.01,172.28 260.26,172.28 260.52,172.28 260.77,172.28 261.03,172.28 261.28,172.29 261.54,172.29 261.79,172.29 262.04,172.29 262.3,172.29 262.55,172.29 262.81,172.29 263.06,172.29 263.32,172.3 263.57,172.3 263.82,172.3 264.08,172.3 264.33,172.3 264.59,172.3 264.84,172.3 265.1,172.3 265.35,172.31 265.6,172.31 265.86,172.31 266.11,172.31 266.37,172.31 266.62,172.31 266.87,172.31 267.13,172.31 267.38,172.31 267.64,172.32 267.89,172.32 268.15,172.32 268.4,172.32"/>
</g>
<line x1="104" y1="37.5" x2="99.2" y2="145.5" stroke="#3a3a3a" stroke-width="0.85" stroke-dasharray="2.2,1.8"/>
<line x1="134" y1="35" x2="131.7" y2="85.5" stroke="#3a3a3a" stroke-width="0.85" stroke-dasharray="2.2,1.8"/>
<line x1="175.3" y1="37" x2="166.6" y2="173.5" stroke="#3a3a3a" stroke-width="0.85" stroke-dasharray="2.2,1.8"/>
<line x1="190" y1="38" x2="186.6" y2="102" stroke="#3a3a3a" stroke-width="0.85" stroke-dasharray="2.2,1.8"/>
<line x1="260" y1="35" x2="250.2" y2="160.8" stroke="#3a3a3a" stroke-width="0.85" stroke-dasharray="2.2,1.8"/>
<line x1="141.5" y1="133.5" x2="131.5" y2="176" stroke="#3a3a3a" stroke-width="0.85" stroke-dasharray="2.2,1.8"/>
<line x1="145.6" y1="120.5" x2="141" y2="174" stroke="#3a3a3a" stroke-width="0.85" stroke-dasharray="2.2,1.8"/>
<text x="246.4" y="38.56" font-size="9.0" text-anchor="end" fill="#1a1a1a" stroke="#1a1a1a" >10-0</text>
<text x="246.4" y="52.85" font-size="9.0" text-anchor="end" fill="#f01818" stroke="#f01818" >9-1</text>
<text x="246.4" y="67.82" font-size="9.0" text-anchor="end" fill="#2020e8" stroke="#2020e8" >8-2</text>
<text x="246.4" y="82.37" font-size="9.0" text-anchor="end" fill="#f020f0" stroke="#f020f0" >7-3</text>
<text x="246.4" y="96.78" font-size="9.0" text-anchor="end" fill="#2a9a2a" stroke="#2a9a2a" >6-4</text>
<text x="246.4" y="111.67" font-size="9.0" text-anchor="end" fill="#3a3aa0" stroke="#3a3aa0" >5-5</text>
<text x="246.4" y="126.63" font-size="9.0" text-anchor="end" fill="#9a40f0" stroke="#9a40f0" >4-6</text>
<text x="246.4" y="140.12" font-size="9.0" text-anchor="end" fill="#a040a0" stroke="#a040a0" >3-7</text>
<text x="246.4" y="155.47" font-size="9.0" text-anchor="end" fill="#b03a3a" stroke="#b03a3a" >2-8</text>
<text x="246.4" y="170.07" font-size="9.0" text-anchor="end" fill="#a0a040" stroke="#a0a040" >1-9</text>
<text x="41.9" y="20" font-size="13.5" text-anchor="start" fill="#111" stroke="#111" style="stroke-width:0.18px">(a)</text>
<text x="63.4" y="15.5" font-size="8.1" text-anchor="start" fill="#111" stroke="#111" >mass ratio of PEO/(urea or thiourea) = 1/0.91</text>
<text x="178.8" y="22.9" font-size="8.1" text-anchor="start" fill="#111" stroke="#111" >urea-thiourea mass ratio</text>
<text x="104.1" y="31.3" font-size="6.0" text-anchor="middle" fill="#3a3a3a" stroke="#3a3a3a" >(400)</text>
<text x="124.4" y="22.2" font-size="6.0" text-anchor="middle" fill="#3a3a3a" stroke="#3a3a3a" >(401)</text>
<text x="134" y="30.6" font-size="6.0" text-anchor="middle" fill="#3a3a3a" stroke="#3a3a3a" >(220)</text>
<text x="175.3" y="28.8" font-size="5.7" text-anchor="middle" fill="#3a3a3a" stroke="#3a3a3a" >(402)/(321)</text>
<text x="189.8" y="34.6" font-size="5.9" text-anchor="middle" fill="#3a3a3a" stroke="#3a3a3a" >(610)</text>
<text x="260.7" y="34.6" font-size="5.9" text-anchor="middle" fill="#3a3a3a" stroke="#3a3a3a" >(032)</text>
<line x1="39.6" y1="178" x2="39.6" y2="181.3" stroke="#3a3a3a" stroke-width="1" />
<text x="39.6" y="190.9" font-size="8.8" text-anchor="middle" fill="#111" stroke="#111" >10</text>
<line x1="77.73" y1="178" x2="77.73" y2="181.3" stroke="#3a3a3a" stroke-width="1" />
<text x="77.73" y="190.9" font-size="8.8" text-anchor="middle" fill="#111" stroke="#111" >15</text>
<line x1="115.87" y1="178" x2="115.87" y2="181.3" stroke="#3a3a3a" stroke-width="1" />
<text x="115.87" y="190.9" font-size="8.8" text-anchor="middle" fill="#111" stroke="#111" >20</text>
<line x1="154" y1="178" x2="154" y2="181.3" stroke="#3a3a3a" stroke-width="1" />
<text x="154" y="190.9" font-size="8.8" text-anchor="middle" fill="#111" stroke="#111" >25</text>
<line x1="192.13" y1="178" x2="192.13" y2="181.3" stroke="#3a3a3a" stroke-width="1" />
<text x="192.13" y="190.9" font-size="8.8" text-anchor="middle" fill="#111" stroke="#111" >30</text>
<line x1="230.27" y1="178" x2="230.27" y2="181.3" stroke="#3a3a3a" stroke-width="1" />
<text x="230.27" y="190.9" font-size="8.8" text-anchor="middle" fill="#111" stroke="#111" >35</text>
<line x1="268.4" y1="178" x2="268.4" y2="181.3" stroke="#3a3a3a" stroke-width="1" />
<text x="268.4" y="190.9" font-size="8.8" text-anchor="middle" fill="#111" stroke="#111" >40</text>
<line x1="58.67" y1="178" x2="58.67" y2="180.3" stroke="#3a3a3a" stroke-width="1" />
<line x1="96.8" y1="178" x2="96.8" y2="180.3" stroke="#3a3a3a" stroke-width="1" />
<line x1="134.93" y1="178" x2="134.93" y2="180.3" stroke="#3a3a3a" stroke-width="1" />
<line x1="173.07" y1="178" x2="173.07" y2="180.3" stroke="#3a3a3a" stroke-width="1" />
<line x1="211.2" y1="178" x2="211.2" y2="180.3" stroke="#3a3a3a" stroke-width="1" />
<line x1="249.33" y1="178" x2="249.33" y2="180.3" stroke="#3a3a3a" stroke-width="1" />
<text x="154" y="202.9" font-size="10.6" text-anchor="middle" fill="#111" stroke="#111" >2 Theta / degree</text>
<text x="0" y="0" font-size="10.6" text-anchor="middle" fill="#111" stroke="#111" transform="translate(34.6,85.3) rotate(-90)">Intensity / a.u.</text>
<rect x="316.3" y="5.7" width="229.4" height="172.3" fill="none" stroke="#505050" stroke-width="1.3"/>
<line x1="313" y1="178" x2="316.3" y2="178" stroke="#3a3a3a" stroke-width="1" />
<text x="310.8" y="181.1" font-size="8.8" text-anchor="end" fill="#111" stroke="#111" >15</text>
<line x1="313" y1="149.28" x2="316.3" y2="149.28" stroke="#3a3a3a" stroke-width="1" />
<text x="310.8" y="152.38" font-size="8.8" text-anchor="end" fill="#111" stroke="#111" >20</text>
<line x1="313" y1="120.57" x2="316.3" y2="120.57" stroke="#3a3a3a" stroke-width="1" />
<text x="310.8" y="123.67" font-size="8.8" text-anchor="end" fill="#111" stroke="#111" >25</text>
<line x1="313" y1="91.85" x2="316.3" y2="91.85" stroke="#3a3a3a" stroke-width="1" />
<text x="310.8" y="94.95" font-size="8.8" text-anchor="end" fill="#111" stroke="#111" >30</text>
<line x1="313" y1="63.13" x2="316.3" y2="63.13" stroke="#3a3a3a" stroke-width="1" />
<text x="310.8" y="66.23" font-size="8.8" text-anchor="end" fill="#111" stroke="#111" >35</text>
<line x1="313" y1="34.42" x2="316.3" y2="34.42" stroke="#3a3a3a" stroke-width="1" />
<text x="310.8" y="37.52" font-size="8.8" text-anchor="end" fill="#111" stroke="#111" >40</text>
<line x1="313" y1="5.7" x2="316.3" y2="5.7" stroke="#3a3a3a" stroke-width="1" />
<text x="310.8" y="8.8" font-size="8.8" text-anchor="end" fill="#111" stroke="#111" >45</text>
<line x1="314" y1="163.64" x2="316.3" y2="163.64" stroke="#3a3a3a" stroke-width="1" />
<line x1="314" y1="134.93" x2="316.3" y2="134.93" stroke="#3a3a3a" stroke-width="1" />
<line x1="314" y1="106.21" x2="316.3" y2="106.21" stroke="#3a3a3a" stroke-width="1" />
<line x1="314" y1="77.49" x2="316.3" y2="77.49" stroke="#3a3a3a" stroke-width="1" />
<line x1="314" y1="48.77" x2="316.3" y2="48.77" stroke="#3a3a3a" stroke-width="1" />
<line x1="314" y1="20.06" x2="316.3" y2="20.06" stroke="#3a3a3a" stroke-width="1" />
<line x1="316.3" y1="178" x2="316.3" y2="181.3" stroke="#3a3a3a" stroke-width="1" />
<text x="316.3" y="190.9" font-size="8.8" text-anchor="middle" fill="#111" stroke="#111" >0.0</text>
<line x1="359.94" y1="178" x2="359.94" y2="181.3" stroke="#3a3a3a" stroke-width="1" />
<text x="359.94" y="190.9" font-size="8.8" text-anchor="middle" fill="#111" stroke="#111" >0.2</text>
<line x1="403.58" y1="178" x2="403.58" y2="181.3" stroke="#3a3a3a" stroke-width="1" />
<text x="403.58" y="190.9" font-size="8.8" text-anchor="middle" fill="#111" stroke="#111" >0.4</text>
<line x1="447.22" y1="178" x2="447.22" y2="181.3" stroke="#3a3a3a" stroke-width="1" />
<text x="447.22" y="190.9" font-size="8.8" text-anchor="middle" fill="#111" stroke="#111" >0.6</text>
<line x1="490.86" y1="178" x2="490.86" y2="181.3" stroke="#3a3a3a" stroke-width="1" />
<text x="490.86" y="190.9" font-size="8.8" text-anchor="middle" fill="#111" stroke="#111" >0.8</text>
<line x1="534.5" y1="178" x2="534.5" y2="181.3" stroke="#3a3a3a" stroke-width="1" />
<text x="534.5" y="190.9" font-size="8.8" text-anchor="middle" fill="#111" stroke="#111" >1.0</text>
<line x1="338.12" y1="178" x2="338.12" y2="180.3" stroke="#3a3a3a" stroke-width="1" />
<line x1="381.76" y1="178" x2="381.76" y2="180.3" stroke="#3a3a3a" stroke-width="1" />
<line x1="425.4" y1="178" x2="425.4" y2="180.3" stroke="#3a3a3a" stroke-width="1" />
<line x1="469.04" y1="178" x2="469.04" y2="180.3" stroke="#3a3a3a" stroke-width="1" />
<line x1="512.68" y1="178" x2="512.68" y2="180.3" stroke="#3a3a3a" stroke-width="1" />
<text x="431" y="207.5" font-size="10.7" text-anchor="middle" fill="#111" stroke="#111" >Urea mass fraction in urea/thiourea</text>
<text x="0" y="0" font-size="10.6" text-anchor="middle" fill="#111" stroke="#111" transform="translate(297,91.5) rotate(-90)">2 Theta / degree</text>
<text x="318.9" y="20" font-size="13.5" text-anchor="start" fill="#111" stroke="#111" style="stroke-width:0.18px">(b)</text>
<polyline points="338.12,49.12 359.94,48.2 381.76,47.05 403.58,46.48 425.4,45.44 447.22,44.75 469.04,43.61 490.86,42.46 512.68,41.88 534.5,40.73" fill="none" stroke="#8888c8" stroke-width="1"/>
<path d="M335.72,49.12 L340.28,46.72 L340.28,51.52 Z" fill="#00007a"/>
<path d="M357.54,48.2 L362.1,45.8 L362.1,50.6 Z" fill="#00007a"/>
<path d="M379.36,47.05 L383.92,44.65 L383.92,49.45 Z" fill="#00007a"/>
<path d="M401.18,46.48 L405.74,44.08 L405.74,48.88 Z" fill="#00007a"/>
<path d="M423,45.44 L427.56,43.04 L427.56,47.84 Z" fill="#00007a"/>
<path d="M444.82,44.75 L449.38,42.35 L449.38,47.15 Z" fill="#00007a"/>
<path d="M466.64,43.61 L471.2,41.21 L471.2,46.01 Z" fill="#00007a"/>
<path d="M488.46,42.46 L493.02,40.06 L493.02,44.86 Z" fill="#00007a"/>
<path d="M510.28,41.88 L514.84,39.48 L514.84,44.28 Z" fill="#00007a"/>
<path d="M532.1,40.73 L536.66,38.33 L536.66,43.13 Z" fill="#00007a"/>
<polyline points="381.76,97.59 403.58,97.59 425.4,96.56 447.22,96.44 469.04,95.47 490.86,94.43 512.68,94.26 534.5,93.57" fill="none" stroke="#90c890" stroke-width="1"/>
<path d="M381.76,94.95 L384.4,97.59 L381.76,100.23 L379.12,97.59 Z" fill="#0a7a0a"/>
<path d="M403.58,94.95 L406.22,97.59 L403.58,100.23 L400.94,97.59 Z" fill="#0a7a0a"/>
<path d="M425.4,93.92 L428.04,96.56 L425.4,99.2 L422.76,96.56 Z" fill="#0a7a0a"/>
<path d="M447.22,93.8 L449.86,96.44 L447.22,99.08 L444.58,96.44 Z" fill="#0a7a0a"/>
<path d="M469.04,92.83 L471.68,95.47 L469.04,98.11 L466.4,95.47 Z" fill="#0a7a0a"/>
<path d="M490.86,91.79 L493.5,94.43 L490.86,97.07 L488.22,94.43 Z" fill="#0a7a0a"/>
<path d="M512.68,91.62 L515.32,94.26 L512.68,96.9 L510.04,94.26 Z" fill="#0a7a0a"/>
<path d="M534.5,90.93 L537.14,93.57 L534.5,96.21 L531.86,93.57 Z" fill="#0a7a0a"/>
<polyline points="338.12,110.69 359.94,110.06 381.76,109.65 403.58,109.08 425.4,108.33 447.22,107.93 469.04,106.38 490.86,105.63 512.68,105.17 534.5,104.77" fill="none" stroke="#ff90ff" stroke-width="1"/>
<path d="M338.12,113.21 L340.64,108.65 L335.6,108.65 Z" fill="#ff00ff"/>
<path d="M359.94,112.58 L362.46,108.02 L357.42,108.02 Z" fill="#ff00ff"/>
<path d="M381.76,112.17 L384.28,107.61 L379.24,107.61 Z" fill="#ff00ff"/>
<path d="M403.58,111.6 L406.1,107.04 L401.06,107.04 Z" fill="#ff00ff"/>
<path d="M425.4,110.85 L427.92,106.29 L422.88,106.29 Z" fill="#ff00ff"/>
<path d="M447.22,110.45 L449.74,105.89 L444.7,105.89 Z" fill="#ff00ff"/>
<path d="M469.04,108.9 L471.56,104.34 L466.52,104.34 Z" fill="#ff00ff"/>
<path d="M490.86,108.15 L493.38,103.59 L488.34,103.59 Z" fill="#ff00ff"/>
<path d="M512.68,107.69 L515.2,103.13 L510.16,103.13 Z" fill="#ff00ff"/>
<path d="M534.5,107.29 L537.02,102.73 L531.98,102.73 Z" fill="#ff00ff"/>
<polyline points="425.4,139.52 447.22,138.6 469.04,136.99 490.86,136.65 512.68,135.5 534.5,135.5" fill="none" stroke="#a0a0ff" stroke-width="1"/>
<path d="M425.4,137 L427.92,141.56 L422.88,141.56 Z" fill="#0000ff"/>
<path d="M447.22,136.08 L449.74,140.64 L444.7,140.64 Z" fill="#0000ff"/>
<path d="M469.04,134.47 L471.56,139.03 L466.52,139.03 Z" fill="#0000ff"/>
<path d="M490.86,134.13 L493.38,138.69 L488.34,138.69 Z" fill="#0000ff"/>
<path d="M512.68,132.98 L515.2,137.54 L510.16,137.54 Z" fill="#0000ff"/>
<path d="M534.5,132.98 L537.02,137.54 L531.98,137.54 Z" fill="#0000ff"/>
<polyline points="338.12,146.47 359.94,146.07 381.76,145.61 403.58,145.38 425.4,144.75 447.22,144.29 469.04,143.6 490.86,143.54 512.68,143.37 534.5,143.2" fill="none" stroke="#ffa0a0" stroke-width="1"/>
<circle cx="338.12" cy="146.47" r="2.28" fill="#ff0000"/>
<circle cx="359.94" cy="146.07" r="2.28" fill="#ff0000"/>
<circle cx="381.76" cy="145.61" r="2.28" fill="#ff0000"/>
<circle cx="403.58" cy="145.38" r="2.28" fill="#ff0000"/>
<circle cx="425.4" cy="144.75" r="2.28" fill="#ff0000"/>
<circle cx="447.22" cy="144.29" r="2.28" fill="#ff0000"/>
<circle cx="469.04" cy="143.6" r="2.28" fill="#ff0000"/>
<circle cx="490.86" cy="143.54" r="2.28" fill="#ff0000"/>
<circle cx="512.68" cy="143.37" r="2.28" fill="#ff0000"/>
<circle cx="534.5" cy="143.2" r="2.28" fill="#ff0000"/>
<polyline points="381.76,161.52 403.58,160.88 425.4,160.66 447.22,160.2 469.04,159.51 490.86,159.16 512.68,158.59 534.5,158.42" fill="none" stroke="#a8a8a8" stroke-width="1"/>
<rect x="379.72" y="159.48" width="4.08" height="4.08" fill="#000000"/>
<rect x="401.54" y="158.84" width="4.08" height="4.08" fill="#000000"/>
<rect x="423.36" y="158.62" width="4.08" height="4.08" fill="#000000"/>
<rect x="445.18" y="158.16" width="4.08" height="4.08" fill="#000000"/>
<rect x="467" y="157.47" width="4.08" height="4.08" fill="#000000"/>
<rect x="488.82" y="157.12" width="4.08" height="4.08" fill="#000000"/>
<rect x="510.64" y="156.55" width="4.08" height="4.08" fill="#000000"/>
<rect x="532.46" y="156.38" width="4.08" height="4.08" fill="#000000"/>
<line x1="403" y1="16" x2="419.5" y2="16" stroke="#8888c8" stroke-width="1" />
<path d="M408.6,16 L413.54,13.4 L413.54,18.6 Z" fill="#00007a"/>
<text x="422" y="17.9" font-size="7.5" text-anchor="start" fill="#111" stroke="#111" >(032)</text>
<line x1="443" y1="16" x2="459.5" y2="16" stroke="#90c890" stroke-width="1" />
<path d="M451.2,13.14 L454.06,16 L451.2,18.86 L448.34,16 Z" fill="#0a7a0a"/>
<text x="462" y="17.9" font-size="7.5" text-anchor="start" fill="#111" stroke="#111" >(610)</text>
<line x1="483.3" y1="16" x2="499.8" y2="16" stroke="#ff90ff" stroke-width="1" />
<path d="M491.5,18.73 L494.23,13.79 L488.77,13.79 Z" fill="#ff00ff"/>
<text x="502.3" y="17.9" font-size="7.5" text-anchor="start" fill="#111" stroke="#111" >(420)/(321)</text>
<line x1="403" y1="25.2" x2="419.5" y2="25.2" stroke="#a0a0ff" stroke-width="1" />
<path d="M411.2,22.47 L413.93,27.41 L408.47,27.41 Z" fill="#0000ff"/>
<text x="422" y="27.1" font-size="7.5" text-anchor="start" fill="#111" stroke="#111" >(220)</text>
<line x1="443" y1="25.2" x2="459.5" y2="25.2" stroke="#ffa0a0" stroke-width="1" />
<circle cx="451.2" cy="25.2" r="2.47" fill="#ff0000"/>
<text x="462" y="27.1" font-size="7.5" text-anchor="start" fill="#111" stroke="#111" >(410)</text>
<line x1="483.3" y1="25.2" x2="499.8" y2="25.2" stroke="#a8a8a8" stroke-width="1" />
<rect x="489.29" y="22.99" width="4.42" height="4.42" fill="#000000"/>
<text x="502.3" y="27.1" font-size="7.5" text-anchor="start" fill="#111" stroke="#111" >(400)</text>
<rect x="39.2" y="216.6" width="229.7" height="171.9" fill="none" stroke="#505050" stroke-width="1.3"/>
<line x1="35.9" y1="388.5" x2="39.2" y2="388.5" stroke="#3a3a3a" stroke-width="1" />
<text x="33.7" y="391.6" font-size="8.8" text-anchor="end" fill="#111" stroke="#111" >0.20</text>
<line x1="35.9" y1="367.01" x2="39.2" y2="367.01" stroke="#3a3a3a" stroke-width="1" />
<text x="33.7" y="370.11" font-size="8.8" text-anchor="end" fill="#111" stroke="#111" >0.25</text>
<line x1="35.9" y1="345.52" x2="39.2" y2="345.52" stroke="#3a3a3a" stroke-width="1" />
<text x="33.7" y="348.62" font-size="8.8" text-anchor="end" fill="#111" stroke="#111" >0.30</text>
<line x1="35.9" y1="324.04" x2="39.2" y2="324.04" stroke="#3a3a3a" stroke-width="1" />
<text x="33.7" y="327.14" font-size="8.8" text-anchor="end" fill="#111" stroke="#111" >0.35</text>
<line x1="35.9" y1="302.55" x2="39.2" y2="302.55" stroke="#3a3a3a" stroke-width="1" />
<text x="33.7" y="305.65" font-size="8.8" text-anchor="end" fill="#111" stroke="#111" >0.40</text>
<line x1="35.9" y1="281.06" x2="39.2" y2="281.06" stroke="#3a3a3a" stroke-width="1" />
<text x="33.7" y="284.16" font-size="8.8" text-anchor="end" fill="#111" stroke="#111" >0.45</text>
<line x1="35.9" y1="259.58" x2="39.2" y2="259.58" stroke="#3a3a3a" stroke-width="1" />
<text x="33.7" y="262.68" font-size="8.8" text-anchor="end" fill="#111" stroke="#111" >0.50</text>
<line x1="35.9" y1="238.09" x2="39.2" y2="238.09" stroke="#3a3a3a" stroke-width="1" />
<text x="33.7" y="241.19" font-size="8.8" text-anchor="end" fill="#111" stroke="#111" >0.55</text>
<line x1="35.9" y1="216.6" x2="39.2" y2="216.6" stroke="#3a3a3a" stroke-width="1" />
<text x="33.7" y="219.7" font-size="8.8" text-anchor="end" fill="#111" stroke="#111" >0.60</text>
<line x1="36.9" y1="377.76" x2="39.2" y2="377.76" stroke="#3a3a3a" stroke-width="1" />
<line x1="36.9" y1="356.27" x2="39.2" y2="356.27" stroke="#3a3a3a" stroke-width="1" />
<line x1="36.9" y1="334.78" x2="39.2" y2="334.78" stroke="#3a3a3a" stroke-width="1" />
<line x1="36.9" y1="313.29" x2="39.2" y2="313.29" stroke="#3a3a3a" stroke-width="1" />
<line x1="36.9" y1="291.81" x2="39.2" y2="291.81" stroke="#3a3a3a" stroke-width="1" />
<line x1="36.9" y1="270.32" x2="39.2" y2="270.32" stroke="#3a3a3a" stroke-width="1" />
<line x1="36.9" y1="248.83" x2="39.2" y2="248.83" stroke="#3a3a3a" stroke-width="1" />
<line x1="36.9" y1="227.34" x2="39.2" y2="227.34" stroke="#3a3a3a" stroke-width="1" />
<line x1="39.2" y1="388.5" x2="39.2" y2="391.8" stroke="#3a3a3a" stroke-width="1" />
<text x="39.2" y="401.6" font-size="8.8" text-anchor="middle" fill="#111" stroke="#111" >0.0</text>
<line x1="80.82" y1="388.5" x2="80.82" y2="391.8" stroke="#3a3a3a" stroke-width="1" />
<text x="80.82" y="401.6" font-size="8.8" text-anchor="middle" fill="#111" stroke="#111" >0.2</text>
<line x1="122.44" y1="388.5" x2="122.44" y2="391.8" stroke="#3a3a3a" stroke-width="1" />
<text x="122.44" y="401.6" font-size="8.8" text-anchor="middle" fill="#111" stroke="#111" >0.4</text>
<line x1="164.06" y1="388.5" x2="164.06" y2="391.8" stroke="#3a3a3a" stroke-width="1" />
<text x="164.06" y="401.6" font-size="8.8" text-anchor="middle" fill="#111" stroke="#111" >0.6</text>
<line x1="205.68" y1="388.5" x2="205.68" y2="391.8" stroke="#3a3a3a" stroke-width="1" />
<text x="205.68" y="401.6" font-size="8.8" text-anchor="middle" fill="#111" stroke="#111" >0.8</text>
<line x1="247.3" y1="388.5" x2="247.3" y2="391.8" stroke="#3a3a3a" stroke-width="1" />
<text x="247.3" y="401.6" font-size="8.8" text-anchor="middle" fill="#111" stroke="#111" >1.0</text>
<line x1="60.01" y1="388.5" x2="60.01" y2="390.8" stroke="#3a3a3a" stroke-width="1" />
<line x1="101.63" y1="388.5" x2="101.63" y2="390.8" stroke="#3a3a3a" stroke-width="1" />
<line x1="143.25" y1="388.5" x2="143.25" y2="390.8" stroke="#3a3a3a" stroke-width="1" />
<line x1="184.87" y1="388.5" x2="184.87" y2="390.8" stroke="#3a3a3a" stroke-width="1" />
<line x1="226.49" y1="388.5" x2="226.49" y2="390.8" stroke="#3a3a3a" stroke-width="1" />
<line x1="268.11" y1="388.5" x2="268.11" y2="390.8" stroke="#3a3a3a" stroke-width="1" />
<text x="154.05" y="419" font-size="10.7" text-anchor="middle" fill="#111" stroke="#111" >Urea mass fraction in urea/thiourea</text>
<text x="0" y="0" font-size="10.6" text-anchor="middle" fill="#111" stroke="#111" transform="translate(12.4,302.3) rotate(-90)">d / nm</text>
<text x="41.9" y="230.7" font-size="13.5" text-anchor="start" fill="#111" stroke="#111" style="stroke-width:0.18px">(c)</text>
<polyline points="60.01,372 80.82,372.38 101.63,372.81 122.44,373.2 143.25,373.46 164.06,373.72 184.87,374.32 205.68,374.49 226.49,374.79 247.3,375.18" fill="none" stroke="#8888c8" stroke-width="1"/>
<path d="M57.61,372 L62.17,369.6 L62.17,374.4 Z" fill="#00007a"/>
<path d="M78.42,372.38 L82.98,369.98 L82.98,374.78 Z" fill="#00007a"/>
<path d="M99.23,372.81 L103.79,370.41 L103.79,375.21 Z" fill="#00007a"/>
<path d="M120.04,373.2 L124.6,370.8 L124.6,375.6 Z" fill="#00007a"/>
<path d="M140.85,373.46 L145.41,371.06 L145.41,375.86 Z" fill="#00007a"/>
<path d="M161.66,373.72 L166.22,371.32 L166.22,376.12 Z" fill="#00007a"/>
<path d="M182.47,374.32 L187.03,371.92 L187.03,376.72 Z" fill="#00007a"/>
<path d="M203.28,374.49 L207.84,372.09 L207.84,376.89 Z" fill="#00007a"/>
<path d="M224.09,374.79 L228.65,372.39 L228.65,377.19 Z" fill="#00007a"/>
<path d="M244.9,375.18 L249.46,372.78 L249.46,377.58 Z" fill="#00007a"/>
<polyline points="101.63,342.6 122.44,342.82 143.25,343.46 164.06,343.59 184.87,344.41 205.68,345.1 226.49,345.31 247.3,345.7" fill="none" stroke="#90c890" stroke-width="1"/>
<path d="M101.63,339.96 L104.27,342.6 L101.63,345.24 L98.99,342.6 Z" fill="#0a7a0a"/>
<path d="M122.44,340.18 L125.08,342.82 L122.44,345.46 L119.8,342.82 Z" fill="#0a7a0a"/>
<path d="M143.25,340.82 L145.89,343.46 L143.25,346.1 L140.61,343.46 Z" fill="#0a7a0a"/>
<path d="M164.06,340.95 L166.7,343.59 L164.06,346.23 L161.42,343.59 Z" fill="#0a7a0a"/>
<path d="M184.87,341.77 L187.51,344.41 L184.87,347.05 L182.23,344.41 Z" fill="#0a7a0a"/>
<path d="M205.68,342.46 L208.32,345.1 L205.68,347.74 L203.04,345.1 Z" fill="#0a7a0a"/>
<path d="M226.49,342.67 L229.13,345.31 L226.49,347.95 L223.85,345.31 Z" fill="#0a7a0a"/>
<path d="M247.3,343.06 L249.94,345.7 L247.3,348.34 L244.66,345.7 Z" fill="#0a7a0a"/>
<polyline points="60.01,331.6 80.82,332.42 101.63,333.19 122.44,333.62 143.25,334.31 164.06,334.78 184.87,335.9 205.68,336.41 226.49,336.8 247.3,337.02" fill="none" stroke="#ff90ff" stroke-width="1"/>
<path d="M60.01,334.12 L62.53,329.56 L57.49,329.56 Z" fill="#ff00ff"/>
<path d="M80.82,334.94 L83.34,330.38 L78.3,330.38 Z" fill="#ff00ff"/>
<path d="M101.63,335.71 L104.15,331.15 L99.11,331.15 Z" fill="#ff00ff"/>
<path d="M122.44,336.14 L124.96,331.58 L119.92,331.58 Z" fill="#ff00ff"/>
<path d="M143.25,336.83 L145.77,332.27 L140.73,332.27 Z" fill="#ff00ff"/>
<path d="M164.06,337.3 L166.58,332.74 L161.54,332.74 Z" fill="#ff00ff"/>
<path d="M184.87,338.42 L187.39,333.86 L182.35,333.86 Z" fill="#ff00ff"/>
<path d="M205.68,338.93 L208.2,334.37 L203.16,334.37 Z" fill="#ff00ff"/>
<path d="M226.49,339.32 L229.01,334.76 L223.97,334.76 Z" fill="#ff00ff"/>
<path d="M247.3,339.54 L249.82,334.98 L244.78,334.98 Z" fill="#ff00ff"/>
<polyline points="143.25,297.91 164.06,298.9 184.87,301.52 205.68,302.21 226.49,303.5 247.3,303.5" fill="none" stroke="#a0a0ff" stroke-width="1"/>
<path d="M143.25,295.39 L145.77,299.95 L140.73,299.95 Z" fill="#0000ff"/>
<path d="M164.06,296.38 L166.58,300.94 L161.54,300.94 Z" fill="#0000ff"/>
<path d="M184.87,299 L187.39,303.56 L182.35,303.56 Z" fill="#0000ff"/>
<path d="M205.68,299.69 L208.2,304.25 L203.16,304.25 Z" fill="#0000ff"/>
<path d="M226.49,300.98 L229.01,305.54 L223.97,305.54 Z" fill="#0000ff"/>
<path d="M247.3,300.98 L249.82,305.54 L244.78,305.54 Z" fill="#0000ff"/>
<polyline points="60.01,288.58 80.82,289.4 101.63,290.22 122.44,290.6 143.25,291.25 164.06,291.51 184.87,292.28 205.68,292.58 226.49,293.01 247.3,293.7" fill="none" stroke="#ffa0a0" stroke-width="1"/>
<circle cx="60.01" cy="288.58" r="2.28" fill="#ff0000"/>
<circle cx="80.82" cy="289.4" r="2.28" fill="#ff0000"/>
<circle cx="101.63" cy="290.22" r="2.28" fill="#ff0000"/>
<circle cx="122.44" cy="290.6" r="2.28" fill="#ff0000"/>
<circle cx="143.25" cy="291.25" r="2.28" fill="#ff0000"/>
<circle cx="164.06" cy="291.51" r="2.28" fill="#ff0000"/>
<circle cx="184.87" cy="292.28" r="2.28" fill="#ff0000"/>
<circle cx="205.68" cy="292.58" r="2.28" fill="#ff0000"/>
<circle cx="226.49" cy="293.01" r="2.28" fill="#ff0000"/>
<circle cx="247.3" cy="293.7" r="2.28" fill="#ff0000"/>
<polyline points="101.63,261.59 122.44,262.58 143.25,263.49 164.06,264.22 184.87,266.19 205.68,266.58 226.49,267.01 247.3,267.7" fill="none" stroke="#a8a8a8" stroke-width="1"/>
<rect x="99.59" y="259.55" width="4.08" height="4.08" fill="#000000"/>
<rect x="120.4" y="260.54" width="4.08" height="4.08" fill="#000000"/>
<rect x="141.21" y="261.45" width="4.08" height="4.08" fill="#000000"/>
<rect x="162.02" y="262.18" width="4.08" height="4.08" fill="#000000"/>
<rect x="182.83" y="264.15" width="4.08" height="4.08" fill="#000000"/>
<rect x="203.64" y="264.54" width="4.08" height="4.08" fill="#000000"/>
<rect x="224.45" y="264.97" width="4.08" height="4.08" fill="#000000"/>
<rect x="245.26" y="265.66" width="4.08" height="4.08" fill="#000000"/>
<line x1="126.5" y1="227" x2="143" y2="227" stroke="#8888c8" stroke-width="1" />
<path d="M132.1,227 L137.04,224.4 L137.04,229.6 Z" fill="#00007a"/>
<text x="145.5" y="228.9" font-size="7.5" text-anchor="start" fill="#111" stroke="#111" >(032)</text>
<line x1="166.8" y1="227" x2="183.3" y2="227" stroke="#90c890" stroke-width="1" />
<path d="M175,224.14 L177.86,227 L175,229.86 L172.14,227 Z" fill="#0a7a0a"/>
<text x="185.8" y="228.9" font-size="7.5" text-anchor="start" fill="#111" stroke="#111" >(610)</text>
<line x1="206.8" y1="227" x2="223.3" y2="227" stroke="#ff90ff" stroke-width="1" />
<path d="M215,229.73 L217.73,224.79 L212.27,224.79 Z" fill="#ff00ff"/>
<text x="225.8" y="228.9" font-size="7.5" text-anchor="start" fill="#111" stroke="#111" >(420)/(321)</text>
<line x1="126.5" y1="235.9" x2="143" y2="235.9" stroke="#a0a0ff" stroke-width="1" />
<path d="M134.7,233.17 L137.43,238.11 L131.97,238.11 Z" fill="#0000ff"/>
<text x="145.5" y="237.8" font-size="7.5" text-anchor="start" fill="#111" stroke="#111" >(220)</text>
<line x1="166.8" y1="235.9" x2="183.3" y2="235.9" stroke="#ffa0a0" stroke-width="1" />
<circle cx="175" cy="235.9" r="2.47" fill="#ff0000"/>
<text x="185.8" y="237.8" font-size="7.5" text-anchor="start" fill="#111" stroke="#111" >(410)</text>
<line x1="206.8" y1="235.9" x2="223.3" y2="235.9" stroke="#a8a8a8" stroke-width="1" />
<rect x="212.79" y="233.69" width="4.42" height="4.42" fill="#000000"/>
<text x="225.8" y="237.8" font-size="7.5" text-anchor="start" fill="#111" stroke="#111" >(400)</text>
<defs><pattern id="hatch" patternUnits="userSpaceOnUse" width="3.4" height="3.4" patternTransform="rotate(45)"><line x1="0" y1="0" x2="0" y2="3.4" stroke="#111" stroke-width="1.4"/></pattern></defs>
<rect x="316.3" y="216.5" width="229.3" height="172.3" fill="none" stroke="#505050" stroke-width="1.3"/>
<rect x="325.7" y="291.35" width="19.4" height="97.45" fill="url(#hatch)" stroke="#333" stroke-width="1"/>
<line x1="335.4" y1="388.8" x2="335.4" y2="392.1" stroke="#3a3a3a" stroke-width="1" />
<text x="335.4" y="402.3" font-size="8.9" text-anchor="middle" fill="#111" stroke="#111" >(400)</text>
<line x1="354.51" y1="388.8" x2="354.51" y2="391.1" stroke="#3a3a3a" stroke-width="1" />
<rect x="363.92" y="320.27" width="19.4" height="68.53" fill="url(#hatch)" stroke="#333" stroke-width="1"/>
<line x1="373.62" y1="388.8" x2="373.62" y2="392.1" stroke="#3a3a3a" stroke-width="1" />
<text x="373.62" y="402.3" font-size="8.9" text-anchor="middle" fill="#111" stroke="#111" >(410)</text>
<line x1="392.73" y1="388.8" x2="392.73" y2="391.1" stroke="#3a3a3a" stroke-width="1" />
<rect x="402.14" y="230.16" width="19.4" height="158.64" fill="url(#hatch)" stroke="#333" stroke-width="1"/>
<line x1="411.84" y1="388.8" x2="411.84" y2="392.1" stroke="#3a3a3a" stroke-width="1" />
<text x="411.84" y="402.3" font-size="8.9" text-anchor="middle" fill="#111" stroke="#111" >(220)</text>
<line x1="430.95" y1="388.8" x2="430.95" y2="391.1" stroke="#3a3a3a" stroke-width="1" />
<rect x="440.36" y="287.56" width="19.4" height="101.24" fill="url(#hatch)" stroke="#333" stroke-width="1"/>
<line x1="450.06" y1="388.8" x2="450.06" y2="392.1" stroke="#3a3a3a" stroke-width="1" />
<text x="450.06" y="402.3" font-size="8.9" text-anchor="middle" fill="#111" stroke="#111" >(420)/(321)</text>
<line x1="469.17" y1="388.8" x2="469.17" y2="391.1" stroke="#3a3a3a" stroke-width="1" />
<rect x="478.58" y="311.37" width="19.4" height="77.43" fill="url(#hatch)" stroke="#333" stroke-width="1"/>
<line x1="488.28" y1="388.8" x2="488.28" y2="392.1" stroke="#3a3a3a" stroke-width="1" />
<text x="488.28" y="402.3" font-size="8.9" text-anchor="middle" fill="#111" stroke="#111" >(610)</text>
<line x1="507.39" y1="388.8" x2="507.39" y2="391.1" stroke="#3a3a3a" stroke-width="1" />
<rect x="516.8" y="298.69" width="19.4" height="90.11" fill="url(#hatch)" stroke="#333" stroke-width="1"/>
<line x1="526.5" y1="388.8" x2="526.5" y2="392.1" stroke="#3a3a3a" stroke-width="1" />
<text x="526.5" y="402.3" font-size="8.9" text-anchor="middle" fill="#111" stroke="#111" >(032)</text>
<line x1="316.3" y1="388.8" x2="316.3" y2="391.1" stroke="#3a3a3a" stroke-width="1" />
<line x1="313" y1="388.8" x2="316.3" y2="388.8" stroke="#3a3a3a" stroke-width="1" />
<text x="310.8" y="391.9" font-size="8.8" text-anchor="end" fill="#111" stroke="#111" >0%</text>
<line x1="313" y1="366.55" x2="316.3" y2="366.55" stroke="#3a3a3a" stroke-width="1" />
<text x="310.8" y="369.65" font-size="8.8" text-anchor="end" fill="#111" stroke="#111" >1%</text>
<line x1="313" y1="344.3" x2="316.3" y2="344.3" stroke="#3a3a3a" stroke-width="1" />
<text x="310.8" y="347.4" font-size="8.8" text-anchor="end" fill="#111" stroke="#111" >2%</text>
<line x1="313" y1="322.05" x2="316.3" y2="322.05" stroke="#3a3a3a" stroke-width="1" />
<text x="310.8" y="325.15" font-size="8.8" text-anchor="end" fill="#111" stroke="#111" >3%</text>
<line x1="313" y1="299.8" x2="316.3" y2="299.8" stroke="#3a3a3a" stroke-width="1" />
<text x="310.8" y="302.9" font-size="8.8" text-anchor="end" fill="#111" stroke="#111" >4%</text>
<line x1="313" y1="277.55" x2="316.3" y2="277.55" stroke="#3a3a3a" stroke-width="1" />
<text x="310.8" y="280.65" font-size="8.8" text-anchor="end" fill="#111" stroke="#111" >5%</text>
<line x1="313" y1="255.3" x2="316.3" y2="255.3" stroke="#3a3a3a" stroke-width="1" />
<text x="310.8" y="258.4" font-size="8.8" text-anchor="end" fill="#111" stroke="#111" >6%</text>
<line x1="313" y1="233.05" x2="316.3" y2="233.05" stroke="#3a3a3a" stroke-width="1" />
<text x="310.8" y="236.15" font-size="8.8" text-anchor="end" fill="#111" stroke="#111" >7%</text>
<line x1="314" y1="377.68" x2="316.3" y2="377.68" stroke="#3a3a3a" stroke-width="1" />
<line x1="314" y1="355.43" x2="316.3" y2="355.43" stroke="#3a3a3a" stroke-width="1" />
<line x1="314" y1="333.18" x2="316.3" y2="333.18" stroke="#3a3a3a" stroke-width="1" />
<line x1="314" y1="310.93" x2="316.3" y2="310.93" stroke="#3a3a3a" stroke-width="1" />
<line x1="314" y1="288.68" x2="316.3" y2="288.68" stroke="#3a3a3a" stroke-width="1" />
<line x1="314" y1="266.43" x2="316.3" y2="266.43" stroke="#3a3a3a" stroke-width="1" />
<line x1="314" y1="244.18" x2="316.3" y2="244.18" stroke="#3a3a3a" stroke-width="1" />
<line x1="314" y1="221.93" x2="316.3" y2="221.93" stroke="#3a3a3a" stroke-width="1" />
<text x="431" y="418.8" font-size="10.6" text-anchor="middle" fill="#111" stroke="#111" >crystal indices</text>
<text x="0" y="0" font-size="10.6" text-anchor="middle" fill="#111" stroke="#111" transform="translate(293.2,300.5) rotate(-90)">relative expansion rate</text>
<text x="319.2" y="230.8" font-size="13.5" text-anchor="start" fill="#111" stroke="#111" style="stroke-width:0.18px">(d)</text>
</g>
</svg>
</body></html>
